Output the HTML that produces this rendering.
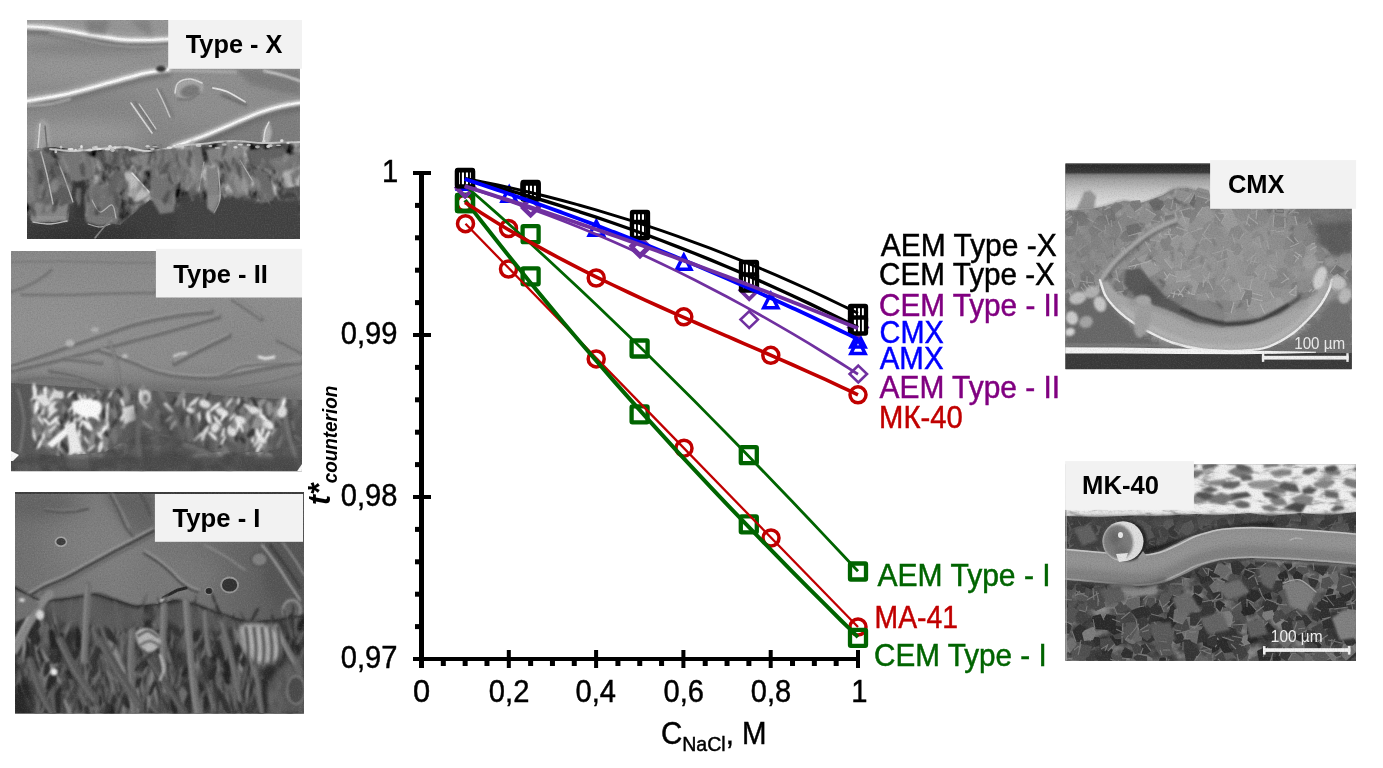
<!DOCTYPE html>
<html><head><meta charset="utf-8"><title>Figure</title>
<style>html,body{margin:0;padding:0;background:#fff;overflow:hidden}svg{display:block}</style>
</head><body>
<svg width="1383" height="768" viewBox="0 0 1383 768">
<defs>
<pattern id="hatch" width="4" height="8" patternUnits="userSpaceOnUse"><rect width="4" height="8" fill="#fff"/><rect x="0" width="1.9" height="8" fill="#000"/></pattern>
</defs>
<g id="ph"><rect x="11" y="251" width="291" height="220" fill="#787878"/><rect x="15" y="492" width="289" height="221.5" fill="#606060"/><rect x="1065.5" y="163" width="286.5" height="206" fill="#707070"/><rect x="1065.5" y="464.5" width="290.5" height="196" fill="#585858"/></g>
<defs><filter id="b05_1" filterUnits="userSpaceOnUse" x="21.5" y="14.5" width="284.0" height="230.0"><feGaussianBlur stdDeviation="0.5"/></filter>
<filter id="b1_1" filterUnits="userSpaceOnUse" x="20.0" y="13.0" width="287.0" height="233.0"><feGaussianBlur stdDeviation="1"/></filter>
<filter id="b2_1" filterUnits="userSpaceOnUse" x="17.0" y="10.0" width="293.0" height="239.0"><feGaussianBlur stdDeviation="2"/></filter>
<filter id="b4_1" filterUnits="userSpaceOnUse" x="11.0" y="4.0" width="305.0" height="251.0"><feGaussianBlur stdDeviation="4"/></filter>
<filter id="b8_1" filterUnits="userSpaceOnUse" x="-1.0" y="-8.0" width="329.0" height="275.0"><feGaussianBlur stdDeviation="8"/></filter>
<filter id="b15_1" filterUnits="userSpaceOnUse" x="-22.0" y="-29.0" width="371.0" height="317.0"><feGaussianBlur stdDeviation="15"/></filter>
<filter id="b05_2" filterUnits="userSpaceOnUse" x="5.5" y="245.5" width="302.0" height="231.3"><feGaussianBlur stdDeviation="0.5"/></filter>
<filter id="b1_2" filterUnits="userSpaceOnUse" x="4.0" y="244.0" width="305.0" height="234.3"><feGaussianBlur stdDeviation="1"/></filter>
<filter id="b2_2" filterUnits="userSpaceOnUse" x="1.0" y="241.0" width="311.0" height="240.3"><feGaussianBlur stdDeviation="2"/></filter>
<filter id="b4_2" filterUnits="userSpaceOnUse" x="-5.0" y="235.0" width="323.0" height="252.3"><feGaussianBlur stdDeviation="4"/></filter>
<filter id="b8_2" filterUnits="userSpaceOnUse" x="-17.0" y="223.0" width="347.0" height="276.3"><feGaussianBlur stdDeviation="8"/></filter>
<filter id="b15_2" filterUnits="userSpaceOnUse" x="-38.0" y="202.0" width="389.0" height="318.3"><feGaussianBlur stdDeviation="15"/></filter>
<filter id="b05_3" filterUnits="userSpaceOnUse" x="9.5" y="486.5" width="300.0" height="232.4"><feGaussianBlur stdDeviation="0.5"/></filter>
<filter id="b1_3" filterUnits="userSpaceOnUse" x="8.0" y="485.0" width="303.0" height="235.4"><feGaussianBlur stdDeviation="1"/></filter>
<filter id="b2_3" filterUnits="userSpaceOnUse" x="5.0" y="482.0" width="309.0" height="241.4"><feGaussianBlur stdDeviation="2"/></filter>
<filter id="b4_3" filterUnits="userSpaceOnUse" x="-1.0" y="476.0" width="321.0" height="253.4"><feGaussianBlur stdDeviation="4"/></filter>
<filter id="b8_3" filterUnits="userSpaceOnUse" x="-13.0" y="464.0" width="345.0" height="277.4"><feGaussianBlur stdDeviation="8"/></filter>
<filter id="b15_3" filterUnits="userSpaceOnUse" x="-34.0" y="443.0" width="387.0" height="319.4"><feGaussianBlur stdDeviation="15"/></filter>
<filter id="b05_4" filterUnits="userSpaceOnUse" x="1059.8" y="158.1" width="297.5" height="216.6"><feGaussianBlur stdDeviation="0.5"/></filter>
<filter id="b1_4" filterUnits="userSpaceOnUse" x="1058.3" y="156.6" width="300.5" height="219.6"><feGaussianBlur stdDeviation="1"/></filter>
<filter id="b2_4" filterUnits="userSpaceOnUse" x="1055.3" y="153.6" width="306.5" height="225.6"><feGaussianBlur stdDeviation="2"/></filter>
<filter id="b4_4" filterUnits="userSpaceOnUse" x="1049.3" y="147.6" width="318.5" height="237.6"><feGaussianBlur stdDeviation="4"/></filter>
<filter id="b8_4" filterUnits="userSpaceOnUse" x="1037.3" y="135.6" width="342.5" height="261.6"><feGaussianBlur stdDeviation="8"/></filter>
<filter id="b15_4" filterUnits="userSpaceOnUse" x="1016.3" y="114.6" width="384.5" height="303.6"><feGaussianBlur stdDeviation="15"/></filter>
<filter id="b05_5" filterUnits="userSpaceOnUse" x="1060.0" y="458.7" width="301.5" height="207.6"><feGaussianBlur stdDeviation="0.5"/></filter>
<filter id="b1_5" filterUnits="userSpaceOnUse" x="1058.5" y="457.2" width="304.5" height="210.6"><feGaussianBlur stdDeviation="1"/></filter>
<filter id="b2_5" filterUnits="userSpaceOnUse" x="1055.5" y="454.2" width="310.5" height="216.6"><feGaussianBlur stdDeviation="2"/></filter>
<filter id="b4_5" filterUnits="userSpaceOnUse" x="1049.5" y="448.2" width="322.5" height="228.6"><feGaussianBlur stdDeviation="4"/></filter>
<filter id="b8_5" filterUnits="userSpaceOnUse" x="1037.5" y="436.2" width="346.5" height="252.6"><feGaussianBlur stdDeviation="8"/></filter>
<filter id="b15_5" filterUnits="userSpaceOnUse" x="1016.5" y="415.2" width="388.5" height="294.6"><feGaussianBlur stdDeviation="15"/></filter>
<clipPath id="c1"><rect x="27" y="20" width="273" height="219"/></clipPath>
<linearGradient id="g1a" gradientUnits="userSpaceOnUse" x1="0.0" y1="20.0" x2="0.0" y2="150.0"><stop offset="0.000" stop-color="#969696"/><stop offset="0.250" stop-color="#929292"/><stop offset="0.600" stop-color="#8c8c8c"/><stop offset="1.000" stop-color="#848484"/></linearGradient>
<filter id="t1a" x="0" y="0" width="1" height="1" color-interpolation-filters="sRGB"><feTurbulence type="fractalNoise" baseFrequency="0.07 0.05" numOctaves="3" seed="7" result="n"/><feColorMatrix in="n" type="matrix" values="1.5 0 0 0 -0.33  1.5 0 0 0 -0.33  1.5 0 0 0 -0.33  0 0 0 0 1" result="c"/><feComposite in="c" in2="SourceGraphic" operator="in"/></filter>
<filter id="t1g" x="0" y="0" width="1" height="1" color-interpolation-filters="sRGB"><feTurbulence type="fractalNoise" baseFrequency="0.7 0.7" numOctaves="2" seed="3" result="n"/><feColorMatrix in="n" type="matrix" values="0 0 0 0 1  0 0 0 0 1  0 0 0 0 1  1.2 0 0 0 -0.52" result="c"/><feComposite in="c" in2="SourceGraphic" operator="in"/></filter>
<filter id="t1d" x="0" y="0" width="1" height="1" color-interpolation-filters="sRGB"><feTurbulence type="fractalNoise" baseFrequency="0.7 0.7" numOctaves="2" seed="11" result="n"/><feColorMatrix in="n" type="matrix" values="0 0 0 0 0  0 0 0 0 0  0 0 0 0 0  1.2 0 0 0 -0.52" result="c"/><feComposite in="c" in2="SourceGraphic" operator="in"/></filter>
<clipPath id="c2"><rect x="11" y="251" width="291" height="220.3"/></clipPath>
<linearGradient id="g2a" gradientUnits="userSpaceOnUse" x1="0.0" y1="251.0" x2="0.0" y2="390.0"><stop offset="0.000" stop-color="#888888"/><stop offset="0.300" stop-color="#8e8e8e"/><stop offset="0.800" stop-color="#8c8c8c"/><stop offset="1.000" stop-color="#7e7e7e"/></linearGradient>
<filter id="t2a" x="0" y="0" width="1" height="1" color-interpolation-filters="sRGB"><feTurbulence type="fractalNoise" baseFrequency="0.13 0.07" numOctaves="3" seed="5" result="n"/><feColorMatrix in="n" type="matrix" values="1 0 0 0 0  1 0 0 0 0  1 0 0 0 0  0 0 0 0 1" result="c"/><feComponentTransfer in="c" result="c"><feFuncR type="table" tableValues="0.22 0.24 0.27 0.32 0.4 0.5 0.66 0.9 1 1 1"/><feFuncG type="table" tableValues="0.22 0.24 0.27 0.32 0.4 0.5 0.66 0.9 1 1 1"/><feFuncB type="table" tableValues="0.22 0.24 0.27 0.32 0.4 0.5 0.66 0.9 1 1 1"/></feComponentTransfer><feComposite in="c" in2="SourceGraphic" operator="in"/></filter>
<filter id="t2b" x="0" y="0" width="1" height="1" color-interpolation-filters="sRGB"><feTurbulence type="fractalNoise" baseFrequency="0.06 0.08" numOctaves="3" seed="9" result="n"/><feColorMatrix in="n" type="matrix" values="1 0 0 0 0  1 0 0 0 0  1 0 0 0 0  0 0 0 0 1" result="c"/><feComponentTransfer in="c" result="c"><feFuncR type="table" tableValues="0.2 0.22 0.25 0.28 0.32 0.36 0.42 0.5 0.6 0.7 0.8"/><feFuncG type="table" tableValues="0.2 0.22 0.25 0.28 0.32 0.36 0.42 0.5 0.6 0.7 0.8"/><feFuncB type="table" tableValues="0.2 0.22 0.25 0.28 0.32 0.36 0.42 0.5 0.6 0.7 0.8"/></feComponentTransfer><feComposite in="c" in2="SourceGraphic" operator="in"/></filter>
<filter id="t2g" x="0" y="0" width="1" height="1" color-interpolation-filters="sRGB"><feTurbulence type="fractalNoise" baseFrequency="0.7 0.7" numOctaves="2" seed="4" result="n"/><feColorMatrix in="n" type="matrix" values="0 0 0 0 1  0 0 0 0 1  0 0 0 0 1  1.2 0 0 0 -0.52" result="c"/><feComposite in="c" in2="SourceGraphic" operator="in"/></filter>
<filter id="t2d" x="0" y="0" width="1" height="1" color-interpolation-filters="sRGB"><feTurbulence type="fractalNoise" baseFrequency="0.7 0.7" numOctaves="2" seed="13" result="n"/><feColorMatrix in="n" type="matrix" values="0 0 0 0 0  0 0 0 0 0  0 0 0 0 0  1.2 0 0 0 -0.52" result="c"/><feComposite in="c" in2="SourceGraphic" operator="in"/></filter>
<clipPath id="c3"><rect x="15" y="492" width="289" height="221.4"/></clipPath>
<linearGradient id="g3a" gradientUnits="userSpaceOnUse" x1="15.0" y1="0.0" x2="304.0" y2="0.0"><stop offset="0.000" stop-color="#707070"/><stop offset="0.350" stop-color="#7c7c7c"/><stop offset="0.600" stop-color="#747474"/><stop offset="0.850" stop-color="#606060"/><stop offset="1.000" stop-color="#545454"/></linearGradient>
<filter id="t3a" x="0" y="0" width="1" height="1" color-interpolation-filters="sRGB"><feTurbulence type="fractalNoise" baseFrequency="0.05 0.025" numOctaves="3" seed="21" result="n"/><feColorMatrix in="n" type="matrix" values="1 0 0 0 0  1 0 0 0 0  1 0 0 0 0  0 0 0 0 1" result="c"/><feComponentTransfer in="c" result="c"><feFuncR type="table" tableValues="0.1 0.12 0.14 0.16 0.19 0.25 0.33 0.42 0.5 0.6 0.7"/><feFuncG type="table" tableValues="0.1 0.12 0.14 0.16 0.19 0.25 0.33 0.42 0.5 0.6 0.7"/><feFuncB type="table" tableValues="0.1 0.12 0.14 0.16 0.19 0.25 0.33 0.42 0.5 0.6 0.7"/></feComponentTransfer><feComposite in="c" in2="SourceGraphic" operator="in"/></filter>
<filter id="t3g" x="0" y="0" width="1" height="1" color-interpolation-filters="sRGB"><feTurbulence type="fractalNoise" baseFrequency="0.7 0.7" numOctaves="2" seed="6" result="n"/><feColorMatrix in="n" type="matrix" values="0 0 0 0 1  0 0 0 0 1  0 0 0 0 1  1.2 0 0 0 -0.52" result="c"/><feComposite in="c" in2="SourceGraphic" operator="in"/></filter>
<filter id="t3d" x="0" y="0" width="1" height="1" color-interpolation-filters="sRGB"><feTurbulence type="fractalNoise" baseFrequency="0.7 0.7" numOctaves="2" seed="17" result="n"/><feColorMatrix in="n" type="matrix" values="0 0 0 0 0  0 0 0 0 0  0 0 0 0 0  1.2 0 0 0 -0.52" result="c"/><feComposite in="c" in2="SourceGraphic" operator="in"/></filter>
<clipPath id="c4"><rect x="1065.3" y="163.6" width="286.5" height="205.6"/></clipPath>
<linearGradient id="g4a" gradientUnits="userSpaceOnUse" x1="0.0" y1="163.6" x2="0.0" y2="215.0"><stop offset="0.000" stop-color="#969696"/><stop offset="0.020" stop-color="#2a2a2a"/><stop offset="0.170" stop-color="#383838"/><stop offset="0.220" stop-color="#808080"/><stop offset="0.320" stop-color="#a2a2a2"/><stop offset="0.520" stop-color="#c4c4c4"/><stop offset="0.720" stop-color="#d8d8d8"/><stop offset="1.000" stop-color="#eaeaea"/></linearGradient>
<filter id="t4a" x="0" y="0" width="1" height="1" color-interpolation-filters="sRGB"><feTurbulence type="fractalNoise" baseFrequency="0.11 0.11" numOctaves="3" seed="31" result="n"/><feColorMatrix in="n" type="matrix" values="1.1 0 0 0 -0.07  1.1 0 0 0 -0.07  1.1 0 0 0 -0.07  0 0 0 0 1" result="c"/><feComponentTransfer in="c" result="c"><feFuncR type="table" tableValues="0.15 0.25 0.35 0.42 0.5 0.56 0.6 0.65 0.7 0.74 0.78"/><feFuncG type="table" tableValues="0.15 0.25 0.35 0.42 0.5 0.56 0.6 0.65 0.7 0.74 0.78"/><feFuncB type="table" tableValues="0.15 0.25 0.35 0.42 0.5 0.56 0.6 0.65 0.7 0.74 0.78"/></feComponentTransfer><feComposite in="c" in2="SourceGraphic" operator="in"/></filter>
<filter id="t4g" x="0" y="0" width="1" height="1" color-interpolation-filters="sRGB"><feTurbulence type="fractalNoise" baseFrequency="0.7 0.7" numOctaves="2" seed="8" result="n"/><feColorMatrix in="n" type="matrix" values="0 0 0 0 1  0 0 0 0 1  0 0 0 0 1  1.2 0 0 0 -0.52" result="c"/><feComposite in="c" in2="SourceGraphic" operator="in"/></filter>
<filter id="t4d" x="0" y="0" width="1" height="1" color-interpolation-filters="sRGB"><feTurbulence type="fractalNoise" baseFrequency="0.7 0.7" numOctaves="2" seed="19" result="n"/><feColorMatrix in="n" type="matrix" values="0 0 0 0 0  0 0 0 0 0  0 0 0 0 0  1.2 0 0 0 -0.52" result="c"/><feComposite in="c" in2="SourceGraphic" operator="in"/></filter>
<clipPath id="c5"><rect x="1065.5" y="464.2" width="290.5" height="196.6"/></clipPath>
<filter id="t5a" x="0" y="0" width="1" height="1" color-interpolation-filters="sRGB"><feTurbulence type="fractalNoise" baseFrequency="0.06 0.16" numOctaves="3" seed="41" result="n"/><feColorMatrix in="n" type="matrix" values="1 0 0 0 0  1 0 0 0 0  1 0 0 0 0  0 0 0 0 1" result="c"/><feComponentTransfer in="c" result="c"><feFuncR type="table" tableValues="0.2 0.25 0.35 0.5 0.78 0.95 1 1 1 1 1"/><feFuncG type="table" tableValues="0.2 0.25 0.35 0.5 0.78 0.95 1 1 1 1 1"/><feFuncB type="table" tableValues="0.2 0.25 0.35 0.5 0.78 0.95 1 1 1 1 1"/></feComponentTransfer><feComposite in="c" in2="SourceGraphic" operator="in"/></filter>
<filter id="t5b" x="0" y="0" width="1" height="1" color-interpolation-filters="sRGB"><feTurbulence type="fractalNoise" baseFrequency="0.055 0.065" numOctaves="3" seed="43" result="n"/><feColorMatrix in="n" type="matrix" values="1 0 0 0 0  1 0 0 0 0  1 0 0 0 0  0 0 0 0 1" result="c"/><feComponentTransfer in="c" result="c"><feFuncR type="table" tableValues="0.12 0.15 0.18 0.22 0.27 0.33 0.42 0.5 0.55 0.6 0.65"/><feFuncG type="table" tableValues="0.12 0.15 0.18 0.22 0.27 0.33 0.42 0.5 0.55 0.6 0.65"/><feFuncB type="table" tableValues="0.12 0.15 0.18 0.22 0.27 0.33 0.42 0.5 0.55 0.6 0.65"/></feComponentTransfer><feComposite in="c" in2="SourceGraphic" operator="in"/></filter>
<linearGradient id="g5f" gradientUnits="userSpaceOnUse" x1="0.0" y1="-16.0" x2="0.0" y2="16.0"><stop offset="0.000" stop-color="#b0b0b0"/><stop offset="0.250" stop-color="#a0a0a0"/><stop offset="0.600" stop-color="#848484"/><stop offset="0.900" stop-color="#686868"/><stop offset="1.000" stop-color="#5a5a5a"/></linearGradient>
<filter id="t5g" x="0" y="0" width="1" height="1" color-interpolation-filters="sRGB"><feTurbulence type="fractalNoise" baseFrequency="0.7 0.7" numOctaves="2" seed="10" result="n"/><feColorMatrix in="n" type="matrix" values="0 0 0 0 1  0 0 0 0 1  0 0 0 0 1  1.2 0 0 0 -0.52" result="c"/><feComposite in="c" in2="SourceGraphic" operator="in"/></filter>
<filter id="t5d" x="0" y="0" width="1" height="1" color-interpolation-filters="sRGB"><feTurbulence type="fractalNoise" baseFrequency="0.7 0.7" numOctaves="2" seed="23" result="n"/><feColorMatrix in="n" type="matrix" values="0 0 0 0 0  0 0 0 0 0  0 0 0 0 0  1.2 0 0 0 -0.52" result="c"/><feComposite in="c" in2="SourceGraphic" operator="in"/></filter></defs>
<g clip-path="url(#c1)">
<rect x="27.0" y="20.0" width="273.0" height="219.0" fill="url(#g1a)"/>
<ellipse cx="80.0" cy="70.0" rx="60.0" ry="14.0" fill="#9a9a9a" filter="url(#b8_1)" opacity="0.50"/>
<ellipse cx="90.0" cy="48.0" rx="70.0" ry="7.0" fill="#7a7a7a" filter="url(#b4_1)" opacity="0.60"/>
<ellipse cx="75.0" cy="134.0" rx="70.0" ry="12.0" fill="#a0a0a0" filter="url(#b8_1)" opacity="0.70"/>
<ellipse cx="90.0" cy="104.0" rx="60.0" ry="8.0" fill="#7e7e7e" filter="url(#b8_1)" opacity="0.60"/>
<ellipse cx="220.0" cy="110.0" rx="50.0" ry="20.0" fill="#929292" filter="url(#b8_1)" opacity="0.50"/>
<polygon points="236.0,70.0 300.0,70.0 300.0,95.0 280.0,92.0 250.0,84.0" fill="#767676" filter="url(#b2_1)" opacity="0.80"/>
<polygon points="178.0,150.0 300.0,106.0 300.0,150.0" fill="#7c7c7c" filter="url(#b2_1)" opacity="0.90"/>
<path d="M27.0,31.5 C30.8,31.8 41.2,31.9 50.0,33.0 C58.8,34.1 70.8,36.5 80.0,38.0 C89.2,39.5 97.5,40.9 105.0,42.0 C112.5,43.1 117.5,44.2 125.0,44.7 C132.5,45.2 142.8,45.1 150.0,45.0 C157.2,44.9 165.0,44.2 168.0,44.0" fill="none" stroke="#696969" stroke-width="6.0" stroke-linecap="round" stroke-linejoin="round" filter="url(#b2_1)" opacity="0.80"/>
<path d="M27.0,22.5 C30.8,22.8 41.2,22.9 50.0,24.0 C58.8,25.1 70.8,27.5 80.0,29.0 C89.2,30.5 97.5,31.9 105.0,33.0 C112.5,34.1 117.5,35.2 125.0,35.7 C132.5,36.2 142.8,36.1 150.0,36.0 C157.2,35.9 165.0,35.2 168.0,35.0" fill="none" stroke="#aaaaaa" stroke-width="5.0" stroke-linecap="round" stroke-linejoin="round" filter="url(#b2_1)" opacity="0.60"/>
<path d="M27.0,26.5 C30.8,26.8 41.2,26.9 50.0,28.0 C58.8,29.1 70.8,31.5 80.0,33.0 C89.2,34.5 97.5,35.9 105.0,37.0 C112.5,38.1 117.5,39.2 125.0,39.7 C132.5,40.2 142.8,40.1 150.0,40.0 C157.2,39.9 165.0,39.2 168.0,39.0" fill="none" stroke="#e4e4e4" stroke-width="5.5" stroke-linecap="round" stroke-linejoin="round" filter="url(#b1_1)" opacity="0.90"/>
<path d="M27.0,26.5 C30.8,26.8 41.2,26.9 50.0,28.0 C58.8,29.1 70.8,31.5 80.0,33.0 C89.2,34.5 97.5,35.9 105.0,37.0 C112.5,38.1 117.5,39.2 125.0,39.7 C132.5,40.2 142.8,40.1 150.0,40.0 C157.2,39.9 165.0,39.2 168.0,39.0" fill="none" stroke="#f5f5f5" stroke-width="2.2" stroke-linecap="round" stroke-linejoin="round" filter="url(#b05_1)"/>
<path d="M50.0,33.0 C55.0,34.0 70.0,37.0 80.0,39.0 C90.0,41.0 100.0,43.7 110.0,45.0 C120.0,46.3 130.3,46.8 140.0,47.0 C149.7,47.2 163.3,46.2 168.0,46.0" fill="none" stroke="#b2b2b2" stroke-width="1.5" stroke-linecap="round" stroke-linejoin="round" filter="url(#b1_1)" opacity="0.80"/>
<polygon points="85.0,20.0 110.0,20.0 105.0,34.0 88.0,33.0" fill="#7a7a7a" filter="url(#b2_1)" opacity="0.80"/>
<polygon points="130.0,20.0 150.0,20.0 152.0,36.0 140.0,30.0" fill="#7d7d7d" filter="url(#b2_1)" opacity="0.70"/>
<path d="M168.0,70.5 C173.3,70.6 188.7,70.8 200.0,71.0 C211.3,71.2 230.0,71.8 236.0,72.0" fill="none" stroke="#b9b9b9" stroke-width="2.5" stroke-linecap="round" stroke-linejoin="round" filter="url(#b1_1)" opacity="0.70"/>
<path d="M27.0,106.0 C30.0,105.5 38.7,104.1 45.0,103.0 C51.3,101.9 57.5,101.1 65.0,99.4 C72.5,97.7 82.5,95.0 90.0,93.0 C97.5,91.0 103.3,89.2 110.0,87.4 C116.7,85.6 123.8,83.6 130.0,82.0 C136.2,80.4 140.7,78.8 147.0,77.6 C153.3,76.4 164.5,75.1 168.0,74.6" fill="none" stroke="#6c6c6c" stroke-width="6.0" stroke-linecap="round" stroke-linejoin="round" filter="url(#b2_1)" opacity="0.80"/>
<path d="M27.0,97.5 C30.0,97.0 38.7,95.6 45.0,94.5 C51.3,93.4 57.5,92.6 65.0,90.9 C72.5,89.2 82.5,86.5 90.0,84.5 C97.5,82.5 103.3,80.7 110.0,78.9 C116.7,77.1 123.8,75.1 130.0,73.5 C136.2,71.9 140.7,70.3 147.0,69.1 C153.3,67.9 164.5,66.6 168.0,66.1" fill="none" stroke="#acacac" stroke-width="4.0" stroke-linecap="round" stroke-linejoin="round" filter="url(#b2_1)" opacity="0.60"/>
<path d="M27.0,101.0 C30.0,100.5 38.7,99.1 45.0,98.0 C51.3,96.9 57.5,96.1 65.0,94.4 C72.5,92.7 82.5,90.0 90.0,88.0 C97.5,86.0 103.3,84.2 110.0,82.4 C116.7,80.6 123.8,78.6 130.0,77.0 C136.2,75.4 140.7,73.8 147.0,72.6 C153.3,71.4 164.5,70.1 168.0,69.6" fill="none" stroke="#e4e4e4" stroke-width="5.5" stroke-linecap="round" stroke-linejoin="round" filter="url(#b1_1)" opacity="0.90"/>
<path d="M27.0,101.0 C30.0,100.5 38.7,99.1 45.0,98.0 C51.3,96.9 57.5,96.1 65.0,94.4 C72.5,92.7 82.5,90.0 90.0,88.0 C97.5,86.0 103.3,84.2 110.0,82.4 C116.7,80.6 123.8,78.6 130.0,77.0 C136.2,75.4 140.7,73.8 147.0,72.6 C153.3,71.4 164.5,70.1 168.0,69.6" fill="none" stroke="#f8f8f8" stroke-width="2.2" stroke-linecap="round" stroke-linejoin="round" filter="url(#b05_1)"/>
<path d="M27.0,106.0 C30.8,105.7 42.8,105.2 50.0,104.0 C57.2,102.8 66.7,99.8 70.0,99.0" fill="none" stroke="#c8c8c8" stroke-width="2.0" stroke-linecap="round" stroke-linejoin="round" filter="url(#b1_1)" opacity="0.80"/>
<path d="M264.0,71.0 C267.0,71.7 276.0,73.3 282.0,75.0 C288.0,76.7 297.0,80.0 300.0,81.0" fill="none" stroke="#d7d7d7" stroke-width="2.2" stroke-linecap="round" stroke-linejoin="round" filter="url(#b1_1)"/>
<ellipse cx="161.0" cy="69.0" rx="5.0" ry="3.2" fill="#323232" filter="url(#b1_1)"/>
<path d="M175.0,151.9 C180.2,150.0 196.4,144.5 206.4,140.6 C216.4,136.7 225.7,132.5 234.9,128.6 C244.1,124.7 253.6,120.4 261.8,117.4 C270.0,114.4 277.6,112.3 284.3,110.7 C291.0,109.1 298.9,108.2 301.8,107.7" fill="none" stroke="#646464" stroke-width="6.0" stroke-linecap="round" stroke-linejoin="round" filter="url(#b2_1)" opacity="0.80"/>
<path d="M173.0,143.9 C178.2,142.0 194.4,136.5 204.4,132.6 C214.4,128.7 223.7,124.5 232.9,120.6 C242.1,116.7 251.6,112.4 259.8,109.4 C268.0,106.4 275.6,104.3 282.3,102.7 C289.0,101.1 296.9,100.2 299.8,99.7" fill="none" stroke="#aaaaaa" stroke-width="4.0" stroke-linecap="round" stroke-linejoin="round" filter="url(#b2_1)" opacity="0.50"/>
<path d="M173.0,146.9 C178.2,145.0 194.4,139.5 204.4,135.6 C214.4,131.7 223.7,127.5 232.9,123.6 C242.1,119.7 251.6,115.4 259.8,112.4 C268.0,109.4 275.6,107.3 282.3,105.7 C289.0,104.1 296.9,103.2 299.8,102.7" fill="none" stroke="#e4e4e4" stroke-width="5.0" stroke-linecap="round" stroke-linejoin="round" filter="url(#b1_1)" opacity="0.90"/>
<path d="M173.0,146.9 C178.2,145.0 194.4,139.5 204.4,135.6 C214.4,131.7 223.7,127.5 232.9,123.6 C242.1,119.7 251.6,115.4 259.8,112.4 C268.0,109.4 275.6,107.3 282.3,105.7 C289.0,104.1 296.9,103.2 299.8,102.7" fill="none" stroke="#f8f8f8" stroke-width="2.0" stroke-linecap="round" stroke-linejoin="round" filter="url(#b05_1)"/>
<path d="M131.0,103.0 C132.5,105.2 136.5,111.0 140.0,116.0 C143.5,121.0 150.0,130.2 152.0,133.0" fill="none" stroke="#d7d7d7" stroke-width="1.6" stroke-linecap="round" stroke-linejoin="round" filter="url(#b05_1)"/>
<path d="M135.0,102.0 C136.7,104.3 141.7,111.2 145.0,116.0 C148.3,120.8 153.3,128.5 155.0,131.0" fill="none" stroke="#5f5f5f" stroke-width="1.6" stroke-linecap="round" stroke-linejoin="round" filter="url(#b1_1)" opacity="0.80"/>
<path d="M139.0,104.0 C140.5,106.2 145.2,112.8 148.0,117.0 C150.8,121.2 154.7,127.0 156.0,129.0" fill="none" stroke="#cdcdcd" stroke-width="1.3" stroke-linecap="round" stroke-linejoin="round" filter="url(#b05_1)"/>
<path d="M157.0,89.0 C158.0,91.0 160.8,96.3 163.0,101.0 C165.2,105.7 168.8,114.3 170.0,117.0" fill="none" stroke="#c8c8c8" stroke-width="1.5" stroke-linecap="round" stroke-linejoin="round" filter="url(#b05_1)"/>
<path d="M160.0,89.0 C161.0,91.0 163.8,96.3 166.0,101.0 C168.2,105.7 171.8,114.3 173.0,117.0" fill="none" stroke="#696969" stroke-width="1.8" stroke-linecap="round" stroke-linejoin="round" filter="url(#b1_1)" opacity="0.70"/>
<path d="M213.0,88.0 C215.5,88.7 222.7,89.7 228.0,92.0 C233.3,94.3 242.2,100.3 245.0,102.0" fill="none" stroke="#e4e4e4" stroke-width="1.8" stroke-linecap="round" stroke-linejoin="round" filter="url(#b05_1)"/>
<path d="M222.0,95.0 C224.0,95.8 230.0,98.3 234.0,100.0 C238.0,101.7 244.0,104.2 246.0,105.0" fill="none" stroke="#696969" stroke-width="3.5" stroke-linecap="round" stroke-linejoin="round" filter="url(#b1_1)" opacity="0.80"/>
<ellipse cx="189.0" cy="89.0" rx="15.0" ry="10.5" fill="#a5a5a5" transform="rotate(-15.0 189.0 89.0)" filter="url(#b1_1)"/>
<ellipse cx="190.0" cy="91.0" rx="10.0" ry="6.0" fill="#787878" transform="rotate(-15.0 190.0 91.0)" filter="url(#b1_1)"/>
<path d="M175.0,93.0 C175.5,91.3 175.5,85.3 178.0,83.0 C180.5,80.7 186.0,79.0 190.0,79.0 C194.0,79.0 200.0,82.3 202.0,83.0" fill="none" stroke="#d7d7d7" stroke-width="1.5" stroke-linecap="round" stroke-linejoin="round" filter="url(#b05_1)"/>
<path d="M178.0,99.0 C180.0,99.0 186.3,100.0 190.0,99.0 C193.7,98.0 198.3,94.0 200.0,93.0" fill="none" stroke="#5f5f5f" stroke-width="1.5" stroke-linecap="round" stroke-linejoin="round" filter="url(#b1_1)"/>
<polygon points="34.0,150.0 36.0,125.0 42.0,118.0 49.0,124.0 52.0,150.0" fill="#a0a0a0" filter="url(#b1_1)"/>
<path d="M38.0,148.0 C38.3,144.0 39.7,128.0 40.0,124.0" fill="none" stroke="#d7d7d7" stroke-width="1.5" stroke-linecap="round" stroke-linejoin="round" filter="url(#b05_1)"/>
<path d="M47.0,148.0 C46.7,144.3 45.3,129.7 45.0,126.0" fill="none" stroke="#6e6e6e" stroke-width="1.5" stroke-linecap="round" stroke-linejoin="round" filter="url(#b05_1)"/>
<polygon points="262.0,147.0 263.0,130.0 269.0,121.0 272.0,132.0 268.0,148.0" fill="#afafaf" filter="url(#b1_1)"/>
<path d="M263.0,146.0 C263.3,143.5 264.0,135.0 265.0,131.0 C266.0,127.0 268.3,123.5 269.0,122.0" fill="none" stroke="#e1e1e1" stroke-width="1.3" stroke-linecap="round" stroke-linejoin="round" filter="url(#b05_1)"/>
<polygon points="27.0,150.0 50.0,147.0 80.0,150.0 110.0,149.0 140.0,150.0 175.0,147.0 200.0,144.0 232.0,141.0 262.0,143.0 300.0,142.0 300.0,239.0 27.0,239.0" fill="#424242"/>
<polygon points="27.0,150.0 50.0,147.0 80.0,150.0 110.0,149.0 140.0,150.0 175.0,147.0 200.0,144.0 232.0,141.0 262.0,143.0 300.0,142.0 300.0,205.0 262.0,208.0 232.0,200.0 200.0,203.0 176.0,212.0 150.0,200.0 120.0,225.0 85.0,219.0 73.0,184.0 68.0,222.0 32.0,222.0 27.0,215.0" fill="#808080" filter="url(#t1a)"/>
<polygon points="27.0,239.0 27.0,222.0 68.0,224.0 78.0,200.0 88.0,222.0 120.0,228.0 140.0,204.0 152.0,200.0 176.0,208.0 205.0,200.0 232.0,198.0 262.0,204.0 300.0,203.0 300.0,239.0" fill="#3c3c3c" filter="url(#b2_1)"/>
<ellipse cx="80.0" cy="236.0" rx="60.0" ry="14.0" fill="#323232" filter="url(#b8_1)" opacity="0.80"/>
<ellipse cx="250.0" cy="228.0" rx="60.0" ry="14.0" fill="#4a4a4a" filter="url(#b8_1)" opacity="0.70"/>
<polygon points="28.0,152.0 40.0,150.0 52.0,156.0 60.0,170.0 70.0,195.0 73.0,203.0 60.0,207.0 50.0,205.0 45.0,222.0 33.0,222.0 30.0,200.0 27.0,198.0" fill="#707070" filter="url(#b1_1)"/>
<polygon points="33.0,222.0 35.0,202.0 50.0,205.0 60.0,207.0 68.0,203.0 67.0,221.0" fill="#8e8e8e" filter="url(#b1_1)"/>
<polygon points="46.0,165.0 58.0,160.0 72.0,200.0 62.0,206.0 52.0,204.0" fill="#626262" filter="url(#b1_1)"/>
<path d="M41.0,152.0 C42.0,155.8 45.0,166.3 47.0,175.0 C49.0,183.7 52.0,199.2 53.0,204.0" fill="none" stroke="#c8c8c8" stroke-width="1.4" stroke-linecap="round" stroke-linejoin="round" filter="url(#b05_1)"/>
<path d="M58.0,161.0 C59.3,164.5 63.5,175.2 66.0,182.0 C68.5,188.8 71.8,198.7 73.0,202.0" fill="none" stroke="#bebebe" stroke-width="1.3" stroke-linecap="round" stroke-linejoin="round" filter="url(#b05_1)"/>
<path d="M33.0,222.0 C35.8,222.3 44.3,224.2 50.0,224.0 C55.7,223.8 64.2,221.5 67.0,221.0" fill="none" stroke="#b9b9b9" stroke-width="1.3" stroke-linecap="round" stroke-linejoin="round" filter="url(#b05_1)"/>
<polygon points="27.0,160.0 33.0,158.0 36.0,200.0 27.0,205.0" fill="#828282" filter="url(#b1_1)"/>
<polygon points="73.0,180.0 84.0,176.0 88.0,196.0 84.0,219.0 76.0,217.0" fill="#343434" filter="url(#b1_1)"/>
<polygon points="84.0,196.0 92.0,184.0 110.0,186.0 122.0,196.0 118.0,222.0 100.0,226.0 86.0,222.0" fill="#767676" filter="url(#b1_1)"/>
<path d="M92.0,200.0 C93.3,202.0 96.7,211.2 100.0,212.0 C103.3,212.8 109.3,204.0 112.0,205.0 C114.7,206.0 115.3,215.8 116.0,218.0" fill="none" stroke="#bebebe" stroke-width="1.2" stroke-linecap="round" stroke-linejoin="round" filter="url(#b05_1)"/>
<path d="M88.0,224.0 C90.0,224.5 96.3,227.0 100.0,227.0 C103.7,227.0 108.3,224.5 110.0,224.0" fill="none" stroke="#aaaaaa" stroke-width="1.2" stroke-linecap="round" stroke-linejoin="round" filter="url(#b05_1)"/>
<path d="M95.0,238.0 C96.7,236.0 102.2,229.0 105.0,226.0 C107.8,223.0 110.8,221.0 112.0,220.0" fill="none" stroke="#828282" stroke-width="1.6" stroke-linecap="round" stroke-linejoin="round" filter="url(#b05_1)"/>
<polygon points="122.0,176.0 131.0,172.0 150.0,193.0 146.0,198.0 136.0,202.0 130.0,196.0" fill="#c8c8c8" filter="url(#b1_1)"/>
<path d="M132.0,173.0 C134.8,176.2 146.2,188.8 149.0,192.0" fill="none" stroke="#ebebeb" stroke-width="1.5" stroke-linecap="round" stroke-linejoin="round" filter="url(#b05_1)"/>
<polygon points="108.0,178.0 122.0,168.0 128.0,186.0 118.0,194.0 108.0,196.0" fill="#696969" filter="url(#b1_1)"/>
<polygon points="55.0,152.0 80.0,150.0 96.0,160.0 92.0,178.0 76.0,182.0 62.0,170.0" fill="#7d7d7d" filter="url(#b1_1)"/>
<polygon points="96.0,152.0 140.0,151.0 150.0,160.0 128.0,166.0 104.0,164.0" fill="#585858" filter="url(#b1_1)"/>
<polygon points="128.0,158.0 160.0,150.0 176.0,152.0 172.0,165.0 140.0,172.0" fill="#8c8c8c" filter="url(#b1_1)"/>
<path d="M50.0,149.0 C53.3,149.3 63.3,150.8 70.0,151.0 C76.7,151.2 83.3,150.5 90.0,150.0 C96.7,149.5 104.2,148.5 110.0,148.0 C115.8,147.5 119.2,146.5 125.0,147.0 C130.8,147.5 138.3,150.7 145.0,151.0 C151.7,151.3 159.8,149.7 165.0,149.0 C170.2,148.3 174.2,147.3 176.0,147.0" fill="none" stroke="#dcdcdc" stroke-width="2.0" stroke-linecap="round" stroke-linejoin="round" filter="url(#b05_1)" opacity="0.90"/>
<ellipse cx="158.0" cy="172.0" rx="5.0" ry="6.0" fill="#aaaaaa" filter="url(#b1_1)"/>
<polygon points="155.0,150.0 176.0,148.0 178.0,172.0 174.0,212.0 160.0,214.0 152.0,200.0 150.0,180.0" fill="#7a7a7a" filter="url(#b1_1)"/>
<polygon points="176.0,150.0 200.0,146.0 204.0,160.0 198.0,190.0 182.0,192.0" fill="#808080" filter="url(#b1_1)"/>
<polygon points="183.0,160.0 200.0,156.0 202.0,186.0 186.0,190.0" fill="#8c8c8c" filter="url(#b1_1)"/>
<polygon points="205.0,150.0 232.0,143.0 245.0,150.0 238.0,162.0 212.0,160.0" fill="#8c8c8c" filter="url(#b1_1)"/>
<polygon points="206.0,170.0 218.0,166.0 220.0,200.0 214.0,214.0 207.0,208.0" fill="#8a8a8a" filter="url(#b1_1)"/>
<polygon points="222.0,160.0 240.0,158.0 252.0,180.0 248.0,196.0 236.0,198.0 228.0,184.0" fill="#808080" filter="url(#b1_1)"/>
<polygon points="246.0,150.0 280.0,148.0 292.0,160.0 270.0,170.0 252.0,165.0" fill="#686868" filter="url(#b1_1)"/>
<polygon points="252.0,168.0 268.0,172.0 275.0,196.0 262.0,204.0 256.0,190.0" fill="#707070" filter="url(#b1_1)"/>
<polygon points="268.0,160.0 300.0,152.0 300.0,170.0 280.0,176.0" fill="#7e7e7e" filter="url(#b1_1)"/>
<polygon points="282.0,172.0 300.0,166.0 300.0,188.0 288.0,190.0" fill="#c4c4c4" filter="url(#b1_1)"/>
<polygon points="276.0,190.0 300.0,186.0 300.0,198.0 280.0,200.0" fill="#464646" filter="url(#b1_1)"/>
<path d="M176.0,146.0 C180.0,145.7 190.7,144.8 200.0,144.0 C209.3,143.2 221.7,141.2 232.0,141.0 C242.3,140.8 250.7,142.8 262.0,143.0 C273.3,143.2 293.7,142.2 300.0,142.0" fill="none" stroke="#cdcdcd" stroke-width="1.8" stroke-linecap="round" stroke-linejoin="round" filter="url(#b05_1)" opacity="0.90"/>
<path d="M204.0,162.0 C203.2,166.7 199.8,185.3 199.0,190.0" fill="none" stroke="#bebebe" stroke-width="1.2" stroke-linecap="round" stroke-linejoin="round" filter="url(#b05_1)"/>
<path d="M240.0,160.0 C242.0,163.3 250.0,176.7 252.0,180.0" fill="none" stroke="#bebebe" stroke-width="1.2" stroke-linecap="round" stroke-linejoin="round" filter="url(#b05_1)"/>
<path d="M218.0,167.0 C218.3,172.2 220.7,190.3 220.0,198.0 C219.3,205.7 215.0,210.5 214.0,213.0" fill="none" stroke="#b9b9b9" stroke-width="1.2" stroke-linecap="round" stroke-linejoin="round" filter="url(#b05_1)"/>
<path d="M262.0,190.0 C264.2,193.7 270.3,206.0 275.0,212.0 C279.7,218.0 287.5,223.7 290.0,226.0" fill="none" stroke="#787878" stroke-width="1.8" stroke-linecap="round" stroke-linejoin="round" filter="url(#b05_1)"/>
<path d="M280.0,210.0 C282.0,211.0 288.7,215.3 292.0,216.0 C295.3,216.7 298.7,214.3 300.0,214.0" fill="none" stroke="#6e6e6e" stroke-width="3.0" stroke-linecap="round" stroke-linejoin="round" filter="url(#b1_1)"/>
<polygon points="176.0,214.0 182.0,194.0 200.0,192.0 206.0,210.0 214.0,216.0 222.0,200.0 250.0,198.0 262.0,206.0 276.0,200.0 300.0,200.0 300.0,239.0 176.0,239.0" fill="#424242" filter="url(#b2_1)"/>
<g filter="url(#b1_1)" opacity="0.55"><g transform="translate(27,148)"><path d="M219,41L222,39L228,49L226,53L222,50Z" fill="#373737"/><path d="M240,46L237,50L237,45L240,39Z" fill="#767676"/><path d="M33,13L31,11L30,2L32,2L35,7L35,13Z" fill="#6e6e6e"/><path d="M214,24L211,13L214,5L217,2L220,10L218,15Z" fill="#858585"/><path d="M184,3L188,7L193,20L190,22L184,15L181,5Z" fill="#868686"/><path d="M25,18L27,25L26,30L22,23L22,17Z" fill="#3e3e3e"/><path d="M259,14L259,22L253,34L249,30L254,18Z" fill="#7b7b7b"/><path d="M179,19L182,18L185,25L183,34L181,34Z" fill="#868686"/><path d="M151,28L148,27L149,13L152,9L155,17Z" fill="#646464"/><path d="M115,41L107,48L111,34L118,30Z" fill="#707070"/><path d="M265,21L269,15L272,12L273,15L270,21L266,26Z" fill="#7d7d7d"/><path d="M141,-1L145,-2L149,4L148,13L145,10Z" fill="#767676"/><path d="M259,27L265,22L266,28L259,39L255,36Z" fill="#afafaf"/><path d="M171,36L170,44L167,53L165,52L165,43L167,35Z" fill="#656565"/><path d="M272,44L271,49L267,42L267,34L271,38Z" fill="#696969"/><path d="M16,39L12,37L11,22L15,21L17,28Z" fill="#3e3e3e"/><path d="M166,-10L168,-5L163,7L159,10L161,-2Z" fill="#b0b0b0"/><path d="M130,9L127,13L125,7L126,-3L129,-3L130,1Z" fill="#393939"/><path d="M39,37L39,26L42,26L45,35L43,42Z" fill="#7b7b7b"/><path d="M233,33L234,42L231,43L228,35L229,30Z" fill="#9f9f9f"/><path d="M166,5L166,13L160,5L160,-1Z" fill="#3b3b3b"/><path d="M38,17L42,24L42,29L38,25L36,19Z" fill="#7a7a7a"/><path d="M56,0L63,9L67,18L64,18L58,13L55,5Z" fill="#737373"/><path d="M92,14L94,14L95,16L96,23L94,25L92,20Z" fill="#454545"/><path d="M209,21L208,25L205,31L202,31L203,26Z" fill="#9a9a9a"/><path d="M233,26L232,20L235,10L238,14L235,23Z" fill="#838383"/><path d="M95,60L97,64L94,71L91,71Z" fill="#343434"/><path d="M3,34L-3,26L-2,19L4,28Z" fill="#6b6b6b"/><path d="M30,30L34,27L33,35L29,44L25,43Z" fill="#989898"/><path d="M37,20L32,10L35,8L41,20Z" fill="#7e7e7e"/><path d="M35,30L37,39L31,32L30,26Z" fill="#797979"/><path d="M164,30L166,43L164,47L160,43L161,33Z" fill="#656565"/><path d="M20,32L20,38L16,43L14,43L17,34Z" fill="#676767"/><path d="M209,-4L207,6L205,3L205,-8Z" fill="#838383"/><path d="M160,40L166,53L164,63L157,51Z" fill="#434343"/><path d="M55,13L58,19L58,30L54,27L52,16Z" fill="#414141"/><path d="M267,31L268,23L272,19L273,25L270,31Z" fill="#424242"/><path d="M140,26L134,29L133,25L139,14L143,14Z" fill="#454545"/><path d="M196,10L193,9L195,-2L199,-9L200,0Z" fill="#3c3c3c"/><path d="M87,56L87,42L94,53L94,63Z" fill="#444444"/><path d="M92,20L90,16L91,6L94,5L95,15Z" fill="#838383"/><path d="M101,3L104,11L104,19L101,16L99,9Z" fill="#686868"/><path d="M108,12L112,17L112,24L110,24L107,14Z" fill="#3c3c3c"/><path d="M261,36L261,39L260,42L256,47L255,44L257,39Z" fill="#767676"/><path d="M24,45L23,39L26,31L29,31L30,40L28,44Z" fill="#afafaf"/><path d="M64,30L66,32L66,39L63,43L62,35Z" fill="#777777"/><path d="M162,20L159,12L160,4L164,13L165,21Z" fill="#3d3d3d"/><path d="M15,46L18,41L21,41L19,49L14,52Z" fill="#3d3d3d"/><path d="M18,66L19,62L20,57L24,55L23,60L21,66Z" fill="#6d6d6d"/><path d="M214,37L216,29L218,29L222,40L220,48L218,45Z" fill="#b9b9b9"/><path d="M65,66L59,68L62,54L66,57Z" fill="#7a7a7a"/><path d="M214,-4L213,2L211,0L209,-6L211,-9Z" fill="#757575"/><path d="M98,-2L97,6L93,11L92,8L94,-3L97,-4Z" fill="#737373"/><path d="M109,16L109,11L116,19L117,24L113,24Z" fill="#474747"/><path d="M204,7L208,11L206,20L204,14Z" fill="#414141"/><path d="M134,30L136,26L138,29L137,34L133,41Z" fill="#7b7b7b"/><path d="M29,51L33,52L31,60L27,65L24,64L25,60Z" fill="#3d3d3d"/><path d="M147,57L142,53L140,39L147,47Z" fill="#767676"/><path d="M150,34L150,38L145,46L144,44L147,37Z" fill="#646464"/><path d="M73,22L71,29L68,23L70,15Z" fill="#3e3e3e"/><path d="M263,25L259,24L263,14L268,14Z" fill="#767676"/><path d="M168,15L167,6L171,9L178,20L175,26Z" fill="#7c7c7c"/><path d="M122,24L122,17L125,12L129,21L130,29L127,32Z" fill="#737373"/><path d="M160,42L157,45L155,42L160,32L164,28L165,34Z" fill="#818181"/><path d="M96,12L98,17L95,25L94,25L93,19L94,14Z" fill="#838383"/><path d="M65,57L61,55L60,47L63,46Z" fill="#373737"/><path d="M213,31L209,21L208,13L215,19L216,30Z" fill="#3e3e3e"/><path d="M260,52L261,42L266,43L266,52L262,58Z" fill="#464646"/><path d="M216,40L215,46L211,45L207,36L207,26L212,30Z" fill="#a6a6a6"/><path d="M202,26L197,15L197,8L205,20Z" fill="#3e3e3e"/><path d="M68,44L73,50L73,56L70,58L66,49Z" fill="#6d6d6d"/><path d="M8,38L10,47L8,50L5,48L4,41L8,35Z" fill="#777777"/><path d="M63,34L64,45L58,48L60,36Z" fill="#666666"/><path d="M161,26L159,35L155,35L156,23L159,19Z" fill="#616161"/><path d="M28,13L30,6L32,9L33,19L30,20Z" fill="#383838"/><path d="M70,25L75,31L79,37L76,41L71,33Z" fill="#9d9d9d"/><path d="M5,65L4,58L10,65L11,73Z" fill="#434343"/><path d="M136,58L134,54L140,43L144,42L141,54Z" fill="#3c3c3c"/><path d="M-2,8L-2,1L4,10L4,16Z" fill="#a0a0a0"/><path d="M69,60L73,53L74,60L71,68L67,67Z" fill="#3a3a3a"/><path d="M108,9L110,1L115,11L114,16L110,18Z" fill="#797979"/><path d="M21,35L24,28L28,25L27,32L23,37Z" fill="#3e3e3e"/><path d="M50,40L54,40L54,53L52,59L49,52Z" fill="#999999"/><path d="M76,-2L80,-1L86,10L84,15L79,9Z" fill="#a5a5a5"/><path d="M89,42L91,30L98,31L93,44Z" fill="#7b7b7b"/><path d="M25,53L19,64L14,67L17,53L22,50Z" fill="#636363"/><path d="M199,45L199,49L196,47L193,42L194,38Z" fill="#9b9b9b"/><path d="M146,33L146,38L141,32L141,24L144,25Z" fill="#3b3b3b"/><path d="M178,42L175,44L172,37L172,32L175,28L178,34Z" fill="#666666"/><path d="M179,14L177,5L181,7L185,16L183,19Z" fill="#404040"/><path d="M100,32L102,33L103,45L100,48L98,39Z" fill="#646464"/><path d="M124,16L120,18L122,7L126,1L127,6Z" fill="#363636"/><path d="M265,18L270,31L267,38L264,33L262,20Z" fill="#414141"/><path d="M254,25L249,19L249,13L254,17Z" fill="#7c7c7c"/><path d="M163,20L166,24L165,37L163,41L160,31L161,19Z" fill="#767676"/><path d="M132,-6L139,5L139,15L134,10Z" fill="#686868"/><path d="M79,30L79,23L83,30L83,35Z" fill="#3f3f3f"/><path d="M155,36L159,44L157,57L152,50Z" fill="#3e3e3e"/><path d="M23,-1L19,9L13,7L16,-1L22,-6Z" fill="#797979"/><path d="M147,20L149,15L153,21L158,30L156,33L152,30Z" fill="#7a7a7a"/><path d="M82,-1L86,5L84,19L79,14Z" fill="#7f7f7f"/><path d="M257,7L262,4L261,12L255,17Z" fill="#9f9f9f"/><path d="M75,48L71,39L73,39L78,45L78,50Z" fill="#7c7c7c"/><path d="M116,41L121,30L125,27L125,34L118,45Z" fill="#646464"/><path d="M260,2L256,6L255,0L255,-10L259,-14L261,-5Z" fill="#808080"/><path d="M106,53L104,43L106,40L108,37L109,45L109,50Z" fill="#7e7e7e"/><path d="M166,31L163,23L165,13L168,14L169,27Z" fill="#9d9d9d"/><path d="M134,6L137,11L134,22L130,24L130,17Z" fill="#646464"/><path d="M72,15L72,24L67,20L65,8Z" fill="#676767"/><path d="M114,25L117,19L119,29L117,35L114,31Z" fill="#7e7e7e"/><path d="M16,40L15,49L11,48L11,39Z" fill="#7f7f7f"/><path d="M222,50L219,41M240,46L237,50M35,13L33,13M217,2L220,10M184,15L181,5M22,23L22,17M259,22L253,34M183,34L181,34M152,9L155,17M107,48L111,34M266,26L265,21M145,10L141,-1M259,27L265,22M171,36L170,44M271,49L267,42M16,39L12,37M159,10L161,-2M130,1L130,9M43,42L39,37M228,35L229,30M166,5L166,13M38,17L42,24M58,13L55,5M96,23L94,25M205,31L202,31M235,10L238,14M94,71L91,71M-2,19L4,28M33,35L29,44M35,8L41,20M35,30L37,39M166,43L164,47M14,43L17,34M209,-4L207,6M160,40L166,53M52,16L55,13M270,31L267,31M140,26L134,29M193,9L195,-2M94,53L94,63M94,5L95,15M101,16L99,9M108,12L112,17M260,42L256,47M23,39L26,31M66,32L66,39M165,21L162,20M21,41L19,49M19,62L20,57M218,45L214,37M59,68L62,54M213,2L211,0M98,-2L97,6M109,16L109,11M204,14L204,7M134,30L136,26M33,52L31,60M147,47L147,57M147,37L150,34M70,15L73,22M268,14L263,25M178,20L175,26M129,21L130,29M165,34L160,42M94,14L96,12M63,46L65,57M215,19L216,30M261,42L266,43M207,26L212,30M197,8L205,20M73,56L70,58M5,48L4,41M63,34L64,45M161,26L159,35M33,19L30,20M75,31L79,37M10,65L11,73M136,58L134,54M-2,8L-2,1M73,53L74,60M110,1L115,11M21,35L24,28M49,52L50,40M80,-1L86,10M93,44L89,42M25,53L19,64M199,49L196,47M144,25L146,33M172,32L175,28M183,19L179,14M103,45L100,48M127,6L124,16M264,33L262,20M249,13L254,17M163,20L166,24M139,5L139,15M79,23L83,30M152,50L155,36M13,7L16,-1M147,20L149,15M79,14L82,-1M257,7L262,4M78,50L75,48M125,34L118,45M261,-5L260,2M106,40L108,37M169,27L166,31M130,17L134,6M67,20L65,8M114,25L117,19M15,49L11,48" fill="none" stroke="#cdcdcd" stroke-width="1" opacity="0.8"/></g></g>
<ellipse cx="180.2" cy="145.7" rx="3.1" ry="1.4" fill="#d1d1d1" filter="url(#b05_1)" opacity="0.90"/>
<ellipse cx="112.6" cy="150.3" rx="2.2" ry="1.6" fill="#d1d1d1" filter="url(#b05_1)" opacity="0.90"/>
<ellipse cx="98.9" cy="148.7" rx="2.8" ry="1.0" fill="#eaeaea" filter="url(#b05_1)" opacity="0.90"/>
<ellipse cx="278.6" cy="145.3" rx="2.8" ry="0.8" fill="#e1e1e1" filter="url(#b05_1)" opacity="0.90"/>
<ellipse cx="263.9" cy="141.2" rx="1.7" ry="1.1" fill="#dbdbdb" filter="url(#b05_1)" opacity="0.90"/>
<ellipse cx="154.9" cy="146.8" rx="2.8" ry="0.8" fill="#c1c1c1" filter="url(#b05_1)" opacity="0.90"/>
<ellipse cx="81.5" cy="146.7" rx="1.3" ry="1.8" fill="#ededed" filter="url(#b05_1)" opacity="0.90"/>
<ellipse cx="71.4" cy="149.3" rx="1.8" ry="1.1" fill="#d1d1d1" filter="url(#b05_1)" opacity="0.90"/>
<ellipse cx="210.4" cy="145.9" rx="1.9" ry="1.0" fill="#d0d0d0" filter="url(#b05_1)" opacity="0.90"/>
<ellipse cx="80.7" cy="149.3" rx="2.6" ry="1.2" fill="#c2c2c2" filter="url(#b05_1)" opacity="0.90"/>
<ellipse cx="94.3" cy="147.9" rx="2.4" ry="1.6" fill="#d3d3d3" filter="url(#b05_1)" opacity="0.90"/>
<ellipse cx="248.7" cy="145.0" rx="2.1" ry="1.2" fill="#d9d9d9" filter="url(#b05_1)" opacity="0.90"/>
<ellipse cx="224.3" cy="144.5" rx="2.6" ry="1.3" fill="#cbcbcb" filter="url(#b05_1)" opacity="0.90"/>
<ellipse cx="182.9" cy="147.3" rx="1.3" ry="1.2" fill="#d5d5d5" filter="url(#b05_1)" opacity="0.90"/>
<ellipse cx="268.2" cy="146.4" rx="1.9" ry="1.7" fill="#eaeaea" filter="url(#b05_1)" opacity="0.90"/>
<ellipse cx="115.0" cy="147.8" rx="1.4" ry="1.6" fill="#e2e2e2" filter="url(#b05_1)" opacity="0.90"/>
<ellipse cx="270.1" cy="145.4" rx="2.5" ry="1.5" fill="#dddddd" filter="url(#b05_1)" opacity="0.90"/>
<ellipse cx="75.6" cy="149.7" rx="1.2" ry="0.9" fill="#e9e9e9" filter="url(#b05_1)" opacity="0.90"/>
<ellipse cx="61.0" cy="147.1" rx="1.4" ry="1.7" fill="#c8c8c8" filter="url(#b05_1)" opacity="0.90"/>
<ellipse cx="55.8" cy="151.7" rx="1.4" ry="1.6" fill="#e3e3e3" filter="url(#b05_1)" opacity="0.90"/>
<ellipse cx="257.4" cy="146.8" rx="2.4" ry="1.6" fill="#c0c0c0" filter="url(#b05_1)" opacity="0.90"/>
<ellipse cx="240.3" cy="144.6" rx="2.6" ry="0.9" fill="#e7e7e7" filter="url(#b05_1)" opacity="0.90"/>
<ellipse cx="281.8" cy="140.7" rx="1.8" ry="1.4" fill="#ececec" filter="url(#b05_1)" opacity="0.90"/>
<ellipse cx="110.0" cy="146.3" rx="1.7" ry="1.4" fill="#e7e7e7" filter="url(#b05_1)" opacity="0.90"/>
<ellipse cx="147.6" cy="146.3" rx="2.0" ry="1.2" fill="#d5d5d5" filter="url(#b05_1)" opacity="0.90"/>
<ellipse cx="70.6" cy="149.3" rx="3.1" ry="1.2" fill="#e7e7e7" filter="url(#b05_1)" opacity="0.90"/>
<ellipse cx="89.8" cy="149.9" rx="2.7" ry="1.5" fill="#dadada" filter="url(#b05_1)" opacity="0.90"/>
<ellipse cx="170.0" cy="147.4" rx="3.0" ry="0.9" fill="#c3c3c3" filter="url(#b05_1)" opacity="0.90"/>
<ellipse cx="235.5" cy="147.2" rx="2.2" ry="1.2" fill="#e6e6e6" filter="url(#b05_1)" opacity="0.90"/>
<ellipse cx="96.2" cy="147.2" rx="1.6" ry="1.4" fill="#cfcfcf" filter="url(#b05_1)" opacity="0.90"/>
<ellipse cx="107.6" cy="149.4" rx="3.1" ry="1.1" fill="#e5e5e5" filter="url(#b05_1)" opacity="0.90"/>
<ellipse cx="152.5" cy="149.1" rx="2.4" ry="1.1" fill="#cacaca" filter="url(#b05_1)" opacity="0.90"/>
<ellipse cx="55.7" cy="149.6" rx="2.0" ry="1.0" fill="#d2d2d2" filter="url(#b05_1)" opacity="0.90"/>
<ellipse cx="129.9" cy="149.3" rx="1.5" ry="1.8" fill="#d8d8d8" filter="url(#b05_1)" opacity="0.90"/>
<ellipse cx="198.6" cy="145.5" rx="2.9" ry="1.6" fill="#dddddd" filter="url(#b05_1)" opacity="0.90"/>
<ellipse cx="169.4" cy="147.8" rx="2.9" ry="1.2" fill="#e6e6e6" filter="url(#b05_1)" opacity="0.90"/>
<ellipse cx="288.1" cy="143.0" rx="1.7" ry="1.0" fill="#e5e5e5" filter="url(#b05_1)" opacity="0.90"/>
<ellipse cx="217.5" cy="147.9" rx="2.9" ry="1.0" fill="#c8c8c8" filter="url(#b05_1)" opacity="0.90"/>
<polygon points="27.0,151.0 50.0,148.0 80.0,151.0 110.0,150.0 140.0,151.0 175.0,148.0 200.0,145.0 232.0,142.0 262.0,144.0 300.0,143.0 300.0,196.0 262.0,200.0 232.0,194.0 200.0,196.0 176.0,206.0 150.0,196.0 120.0,218.0 85.0,214.0 73.0,184.0 68.0,216.0 32.0,216.0 27.0,210.0" fill="#000000" opacity="0.06"/>
<rect x="27.0" y="20.0" width="273.0" height="219.0" fill="#fff" filter="url(#t1g)" opacity="0.16"/>
<rect x="27.0" y="20.0" width="273.0" height="219.0" fill="#000" filter="url(#t1d)" opacity="0.16"/>
</g>
<g clip-path="url(#c2)">
<rect x="11.0" y="251.0" width="291.0" height="220.3" fill="url(#g2a)"/>
<ellipse cx="60.0" cy="330.0" rx="70.0" ry="30.0" fill="#949494" filter="url(#b15_2)" opacity="0.60"/>
<ellipse cx="250.0" cy="345.0" rx="50.0" ry="25.0" fill="#868686" filter="url(#b15_2)" opacity="0.60"/>
<path d="M11.0,261.0 C19.2,260.9 43.5,260.4 60.0,260.5 C76.5,260.6 94.3,261.2 110.0,261.5 C125.7,261.8 146.7,261.9 154.0,262.0" fill="none" stroke="#787878" stroke-width="3.5" stroke-linecap="round" stroke-linejoin="round" filter="url(#b1_2)" opacity="0.85"/><path d="M10.4,259.7 C18.6,259.7 42.9,259.2 59.4,259.2 C75.9,259.3 93.7,260.0 109.4,260.2 C125.1,260.5 146.1,260.7 153.4,260.7" fill="none" stroke="#a0a0a0" stroke-width="1.1" stroke-linecap="round" stroke-linejoin="round" filter="url(#b1_2)" opacity="0.85"/>
<path d="M23.0,294.0 C30.8,294.0 55.5,294.2 70.0,294.0 C84.5,293.8 96.0,292.8 110.0,292.5 C124.0,292.2 146.7,292.1 154.0,292.0" fill="none" stroke="#727272" stroke-width="5.0" stroke-linecap="round" stroke-linejoin="round" filter="url(#b1_2)" opacity="0.85"/><path d="M22.4,292.2 C30.2,292.2 54.9,292.4 69.4,292.2 C83.9,291.9 95.4,291.0 109.4,290.7 C123.4,290.4 146.1,290.3 153.4,290.2" fill="none" stroke="#a4a4a4" stroke-width="1.6" stroke-linecap="round" stroke-linejoin="round" filter="url(#b1_2)" opacity="0.85"/>
<path d="M50.0,270.0 C48.3,271.3 44.2,275.3 40.0,278.0 C35.8,280.7 29.8,283.8 25.0,286.0 C20.2,288.2 13.3,290.2 11.0,291.0" fill="none" stroke="#727272" stroke-width="5.0" stroke-linecap="round" stroke-linejoin="round" filter="url(#b1_2)" opacity="0.85"/><path d="M49.4,268.2 C47.7,269.5 43.6,273.5 39.4,276.2 C35.2,278.9 29.2,282.0 24.4,284.2 C19.6,286.4 12.7,288.4 10.4,289.2" fill="none" stroke="#a0a0a0" stroke-width="1.6" stroke-linecap="round" stroke-linejoin="round" filter="url(#b1_2)" opacity="0.85"/>
<path d="M11.0,365.4 C15.8,363.8 29.5,359.5 40.0,356.0 C50.5,352.5 63.2,348.1 74.0,344.4 C84.8,340.7 94.5,337.5 105.0,334.0 C115.5,330.5 125.3,326.5 137.0,323.4 C148.7,320.3 162.7,317.4 175.0,315.5 C187.3,313.6 205.0,312.4 211.0,311.8" fill="none" stroke="#6c6c6c" stroke-width="6.0" stroke-linecap="round" stroke-linejoin="round" filter="url(#b1_2)" opacity="0.85"/><path d="M10.4,363.2 C15.2,361.7 28.9,357.3 39.4,353.8 C49.9,350.3 62.6,345.9 73.4,342.2 C84.2,338.6 93.9,335.3 104.4,331.8 C114.9,328.3 124.7,324.3 136.4,321.2 C148.1,318.2 162.1,315.3 174.4,313.3 C186.7,311.4 204.4,310.3 210.4,309.6" fill="none" stroke="#aaaaaa" stroke-width="1.9" stroke-linecap="round" stroke-linejoin="round" filter="url(#b1_2)" opacity="0.85"/>
<path d="M11.0,370.7 C18.0,369.1 41.5,363.8 53.0,361.0 C64.5,358.2 71.2,356.2 80.0,354.0 C88.8,351.8 97.4,349.7 105.7,347.5 C114.0,345.3 121.3,343.3 130.0,341.0 C138.7,338.7 148.0,336.6 158.0,333.9 C168.0,331.2 179.8,327.8 190.0,325.0 C200.2,322.2 214.2,318.3 219.0,317.0" fill="none" stroke="#6a6a6a" stroke-width="5.5" stroke-linecap="round" stroke-linejoin="round" filter="url(#b1_2)" opacity="0.85"/><path d="M10.4,368.7 C17.4,367.1 40.9,361.8 52.4,359.0 C63.9,356.2 70.6,354.3 79.4,352.0 C88.2,349.8 96.8,347.7 105.1,345.5 C113.4,343.4 120.7,341.3 129.4,339.0 C138.1,336.8 147.4,334.6 157.4,331.9 C167.4,329.3 179.2,325.8 189.4,323.0 C199.6,320.2 213.6,316.4 218.4,315.0" fill="none" stroke="#a6a6a6" stroke-width="1.8" stroke-linecap="round" stroke-linejoin="round" filter="url(#b1_2)" opacity="0.85"/>
<path d="M101.5,350.7 C104.6,351.8 114.1,354.9 120.0,357.0 C125.9,359.1 130.7,360.9 137.0,363.3 C143.3,365.8 150.0,369.5 158.0,371.7 C166.0,373.9 175.2,375.6 185.0,376.5 C194.8,377.4 206.2,377.9 217.0,377.0 C227.8,376.1 239.5,373.0 250.0,371.0 C260.5,369.0 271.3,366.7 280.0,365.0 C288.7,363.3 298.3,361.7 302.0,361.0" fill="none" stroke="#6a6a6a" stroke-width="6.0" stroke-linecap="round" stroke-linejoin="round" filter="url(#b1_2)" opacity="0.85"/><path d="M100.9,348.5 C104.0,349.6 113.5,352.7 119.4,354.8 C125.3,356.9 130.1,358.7 136.4,361.1 C142.7,363.6 149.4,367.3 157.4,369.5 C165.4,371.7 174.6,373.5 184.4,374.3 C194.2,375.2 205.6,375.8 216.4,374.8 C227.2,373.9 238.9,370.8 249.4,368.8 C259.9,366.8 270.7,364.5 279.4,362.8 C288.1,361.2 297.7,359.5 301.4,358.8" fill="none" stroke="#acacac" stroke-width="1.9" stroke-linecap="round" stroke-linejoin="round" filter="url(#b1_2)" opacity="0.85"/>
<path d="M175.0,363.3 C177.8,361.8 186.2,357.1 192.0,354.0 C197.8,350.9 203.9,348.0 210.0,345.0 C216.1,342.0 225.7,337.5 228.8,336.0" fill="none" stroke="#686868" stroke-width="6.0" stroke-linecap="round" stroke-linejoin="round" filter="url(#b1_2)" opacity="0.85"/><path d="M174.4,361.1 C177.2,359.6 185.6,354.9 191.4,351.8 C197.2,348.8 203.3,345.8 209.4,342.8 C215.5,339.8 225.1,335.3 228.2,333.8" fill="none" stroke="#aaaaaa" stroke-width="1.9" stroke-linecap="round" stroke-linejoin="round" filter="url(#b1_2)" opacity="0.85"/>
<path d="M51.0,370.7 C54.8,371.4 67.5,373.4 74.0,375.0 C80.5,376.6 84.7,378.1 90.0,380.0 C95.3,381.9 103.1,385.4 105.7,386.5" fill="none" stroke="#686868" stroke-width="5.5" stroke-linecap="round" stroke-linejoin="round" filter="url(#b1_2)" opacity="0.85"/><path d="M50.4,368.7 C54.2,369.4 66.9,371.5 73.4,373.0 C79.9,374.6 84.1,376.1 89.4,378.0 C94.7,379.9 102.5,383.4 105.1,384.5" fill="none" stroke="#969696" stroke-width="1.8" stroke-linecap="round" stroke-linejoin="round" filter="url(#b1_2)" opacity="0.85"/>
<path d="M278.0,340.0 C280.0,341.0 286.0,343.9 290.0,346.0 C294.0,348.1 300.0,351.7 302.0,352.8" fill="none" stroke="#6c6c6c" stroke-width="5.0" stroke-linecap="round" stroke-linejoin="round" filter="url(#b1_2)" opacity="0.85"/><path d="M277.4,338.2 C279.4,339.2 285.4,342.1 289.4,344.2 C293.4,346.3 299.4,349.9 301.4,351.0" fill="none" stroke="#a0a0a0" stroke-width="1.6" stroke-linecap="round" stroke-linejoin="round" filter="url(#b1_2)" opacity="0.85"/>
<path d="M234.0,300.0 C236.0,301.3 242.5,305.7 246.0,308.0 C249.5,310.3 252.4,312.2 255.0,314.0 C257.6,315.8 260.3,318.2 261.4,319.0" fill="none" stroke="#6e6e6e" stroke-width="5.5" stroke-linecap="round" stroke-linejoin="round" filter="url(#b1_2)" opacity="0.85"/><path d="M233.4,298.0 C235.4,299.4 241.9,303.7 245.4,306.0 C248.9,308.4 251.8,310.2 254.4,312.0 C257.0,313.9 259.7,316.2 260.8,317.0" fill="none" stroke="#a0a0a0" stroke-width="1.8" stroke-linecap="round" stroke-linejoin="round" filter="url(#b1_2)" opacity="0.85"/>
<path d="M217.0,377.0 C219.2,376.0 225.8,372.9 230.0,371.0 C234.2,369.1 235.7,366.6 242.4,365.4 C249.1,364.1 260.1,363.9 270.0,363.5 C279.9,363.1 296.7,363.1 302.0,363.0" fill="none" stroke="#707070" stroke-width="4.0" stroke-linecap="round" stroke-linejoin="round" filter="url(#b1_2)" opacity="0.85"/><path d="M216.4,375.6 C218.6,374.6 225.2,371.5 229.4,369.6 C233.6,367.6 235.1,365.2 241.8,364.0 C248.5,362.7 259.5,362.5 269.4,362.1 C279.3,361.7 296.1,361.6 301.4,361.6" fill="none" stroke="#a8a8a8" stroke-width="1.3" stroke-linecap="round" stroke-linejoin="round" filter="url(#b1_2)" opacity="0.85"/>
<path d="M65.7,359.0 C68.8,359.3 78.0,360.3 84.0,361.0 C90.0,361.7 98.6,362.9 101.5,363.3" fill="none" stroke="#686868" stroke-width="4.0" stroke-linecap="round" stroke-linejoin="round" filter="url(#b1_2)" opacity="0.85"/><path d="M65.1,357.6 C68.2,357.9 77.4,358.8 83.4,359.6 C89.4,360.3 98.0,361.5 100.9,361.9" fill="none" stroke="#969696" stroke-width="1.3" stroke-linecap="round" stroke-linejoin="round" filter="url(#b1_2)" opacity="0.85"/>
<path d="M240.0,386.0 C245.0,385.2 259.7,383.2 270.0,381.0 C280.3,378.8 296.7,374.3 302.0,373.0" fill="none" stroke="#707070" stroke-width="3.5" stroke-linecap="round" stroke-linejoin="round" filter="url(#b1_2)" opacity="0.85"/><path d="M239.4,384.7 C244.4,383.9 259.1,381.9 269.4,379.7 C279.7,377.6 296.1,373.1 301.4,371.7" fill="none" stroke="#a0a0a0" stroke-width="1.1" stroke-linecap="round" stroke-linejoin="round" filter="url(#b1_2)" opacity="0.85"/>
<path d="M110.0,342.0 C111.0,345.3 114.3,354.8 116.0,362.0 C117.7,369.2 119.3,381.2 120.0,385.0" fill="none" stroke="#707070" stroke-width="4.0" stroke-linecap="round" stroke-linejoin="round" filter="url(#b1_2)" opacity="0.85"/><path d="M109.4,340.6 C110.4,343.9 113.7,353.4 115.4,360.6 C117.1,367.7 118.7,379.7 119.4,383.6" fill="none" stroke="#a0a0a0" stroke-width="1.3" stroke-linecap="round" stroke-linejoin="round" filter="url(#b1_2)" opacity="0.85"/>
<path d="M20.0,380.0 C25.0,379.5 40.0,376.8 50.0,377.0 C60.0,377.2 75.0,380.3 80.0,381.0" fill="none" stroke="#6e6e6e" stroke-width="4.0" stroke-linecap="round" stroke-linejoin="round" filter="url(#b1_2)" opacity="0.85"/><path d="M19.4,378.6 C24.4,378.1 39.4,375.4 49.4,375.6 C59.4,375.7 74.4,378.9 79.4,379.6" fill="none" stroke="#969696" stroke-width="1.3" stroke-linecap="round" stroke-linejoin="round" filter="url(#b1_2)" opacity="0.85"/>
<ellipse cx="70.0" cy="343.3" rx="4.5" ry="3.8" fill="#b4b4b4" filter="url(#b1_2)"/>
<ellipse cx="95.0" cy="329.7" rx="4.0" ry="2.5" fill="#b0b0b0" filter="url(#b1_2)"/>
<path d="M174.0,356.0 C175.0,355.7 178.0,354.5 180.0,354.0 C182.0,353.5 185.0,353.2 186.0,353.0" fill="none" stroke="#cdcdcd" stroke-width="2.6" stroke-linecap="round" stroke-linejoin="round" filter="url(#b1_2)"/>
<path d="M259.0,357.0 C260.2,357.2 263.5,358.5 266.0,358.5 C268.5,358.5 272.7,357.2 274.0,357.0" fill="none" stroke="#e8e8e8" stroke-width="2.8" stroke-linecap="round" stroke-linejoin="round" filter="url(#b1_2)"/>
<ellipse cx="125.0" cy="356.0" rx="3.0" ry="2.0" fill="#bebebe" filter="url(#b1_2)"/>
<path d="M11.0,381.0 C19.2,381.3 43.5,382.0 60.0,383.0 C76.5,384.0 93.3,386.2 110.0,387.0 C126.7,387.8 142.5,387.2 160.0,388.0 C177.5,388.8 198.3,390.8 215.0,392.0 C231.7,393.2 245.5,394.2 260.0,395.0 C274.5,395.8 295.0,396.7 302.0,397.0" fill="none" stroke="#646464" stroke-width="8.0" stroke-linecap="butt" stroke-linejoin="round" filter="url(#b4_2)" opacity="0.60"/>
<polygon points="11.0,383.0 60.0,386.0 110.0,390.0 160.0,391.0 215.0,395.0 260.0,398.0 302.0,400.0 302.0,471.3 11.0,471.3" fill="#5a5a5a"/>
<path d="M30.0,392.0 C31.8,386.8 40.0,389.0 45.0,389.0 C50.0,389.0 54.2,391.8 60.0,392.0 C65.8,392.2 71.7,389.8 80.0,390.0 C88.3,390.2 100.8,393.0 110.0,393.0 C119.2,393.0 126.7,390.2 135.0,390.0 C143.3,389.8 151.7,391.0 160.0,392.0 C168.3,393.0 175.8,395.2 185.0,396.0 C194.2,396.8 205.8,396.2 215.0,397.0 C224.2,397.8 232.5,400.5 240.0,401.0 C247.5,401.5 253.3,399.5 260.0,400.0 C266.7,400.5 273.7,403.5 280.0,404.0 C286.3,404.5 295.3,399.5 298.0,403.0 C300.7,406.5 296.0,418.8 296.0,425.0 C296.0,431.2 300.7,436.5 298.0,440.0 C295.3,443.5 286.0,444.0 280.0,446.0 C274.0,448.0 268.7,451.7 262.0,452.0 C255.3,452.3 247.8,448.0 240.0,448.0 C232.2,448.0 223.3,453.3 215.0,452.0 C206.7,450.7 197.5,443.3 190.0,440.0 C182.5,436.7 176.7,434.5 170.0,432.0 C163.3,429.5 155.8,425.7 150.0,425.0 C144.2,424.3 140.0,425.5 135.0,428.0 C130.0,430.5 125.0,436.0 120.0,440.0 C115.0,444.0 110.8,449.3 105.0,452.0 C99.2,454.7 92.5,455.3 85.0,456.0 C77.5,456.7 66.7,457.0 60.0,456.0 C53.3,455.0 49.7,450.7 45.0,450.0 C40.3,449.3 33.8,457.0 32.0,452.0 C30.2,447.0 34.3,430.0 34.0,420.0 C33.7,410.0 28.2,397.2 30.0,392.0Z" fill="#5c5c5c" filter="url(#b2_2)"/>
<g filter="url(#b1_2)"><g transform="translate(11,386)"><path d="M45,37L49,43L50,50L45,48L41,40Z" fill="#717171"/><path d="M226,32L234,35L239,45L234,46L229,38Z" fill="#7d7d7d"/><path d="M93,30L88,30L90,17L94,16Z" fill="#6a6a6a"/><path d="M100,18L105,21L107,33L104,36L99,24Z" fill="#7a7a7a"/><path d="M40,22L35,21L42,9L45,12Z" fill="#747474"/><path d="M185,26L188,35L187,43L184,42L182,31Z" fill="#878787"/><path d="M81,38L81,29L84,23L86,30Z" fill="#858585"/><path d="M141,40L137,41L138,30L141,23L145,24L145,31Z" fill="#959595"/><path d="M242,31L247,18L251,21L246,31Z" fill="#636363"/><path d="M112,1L118,-1L120,12L118,21L112,14Z" fill="#898989"/><path d="M255,44L263,27L269,31L260,45Z" fill="#787878"/><path d="M209,46L208,54L202,45L204,40Z" fill="#626262"/><path d="M76,30L72,30L72,25L78,18L80,19Z" fill="#6a6a6a"/><path d="M45,72L47,62L53,59L52,71L47,75Z" fill="#949494"/><path d="M33,0L40,4L43,9L43,16L41,17L34,7Z" fill="#919191"/><path d="M158,46L158,30L163,28L164,38Z" fill="#828282"/><path d="M249,46L255,59L253,65L245,56L240,47L245,44Z" fill="#949494"/><path d="M85,25L79,19L76,10L79,4L84,10Z" fill="#929292"/><path d="M151,35L152,27L154,21L156,24L156,31L153,37Z" fill="#6d6d6d"/><path d="M262,35L262,22L265,20L267,29L265,37Z" fill="#919191"/><path d="M81,45L77,44L73,35L75,28L79,32L82,44Z" fill="#777777"/><path d="M197,7L202,18L199,18L194,11L193,7Z" fill="#747474"/><path d="M87,27L83,16L87,1L91,11Z" fill="#959595"/><path d="M256,40L263,33L262,40L255,44Z" fill="#888888"/><path d="M172,40L175,51L171,57L166,43Z" fill="#7a7a7a"/><path d="M30,34L35,35L33,47L29,53L27,44Z" fill="#626262"/><path d="M66,54L60,49L58,41L65,45L68,51Z" fill="#797979"/><path d="M43,42L39,41L38,29L43,32Z" fill="#6a6a6a"/><path d="M58,49L52,35L53,27L60,38Z" fill="#6a6a6a"/><path d="M62,37L67,34L69,44L64,46Z" fill="#7e7e7e"/><path d="M202,14L209,26L208,28L201,22L196,13Z" fill="#666666"/><path d="M133,22L129,18L132,8L139,1L141,5L138,14Z" fill="#787878"/><path d="M179,38L181,45L178,51L174,48L173,38L175,34Z" fill="#848484"/><path d="M243,19L248,15L254,12L255,15L246,26L240,28Z" fill="#939393"/><path d="M263,48L265,59L261,61L258,49Z" fill="#636363"/><path d="M70,61L73,61L78,68L76,72L72,69Z" fill="#888888"/><path d="M46,10L56,22L56,29L51,27L44,15Z" fill="#7e7e7e"/><path d="M189,34L189,46L185,45L182,37L185,30Z" fill="#717171"/><path d="M52,17L47,35L42,32L47,16Z" fill="#646464"/><path d="M86,48L81,35L83,28L92,40L93,52Z" fill="#767676"/><path d="M283,40L282,32L286,20L291,21L290,29Z" fill="#7e7e7e"/><path d="M226,32L225,49L220,52L221,36Z" fill="#8f8f8f"/><path d="M196,6L196,12L192,21L187,20L191,11Z" fill="#7a7a7a"/><path d="M152,3L158,16L150,13L145,2Z" fill="#6e6e6e"/><path d="M66,11L68,5L75,11L78,22L74,23Z" fill="#666666"/><path d="M264,39L263,29L269,27L269,36Z" fill="#8b8b8b"/><path d="M128,7L133,15L135,24L131,22L127,17L125,8Z" fill="#6f6f6f"/><path d="M257,31L255,20L256,15L261,17L262,26Z" fill="#959595"/><path d="M41,16L40,28L36,37L32,28L33,19L38,12Z" fill="#7d7d7d"/><path d="M229,19L224,27L219,33L218,28L221,21L225,17Z" fill="#818181"/><path d="M57,43L54,40L54,32L58,23L62,29L62,36Z" fill="#6b6b6b"/><path d="M194,50L190,58L185,56L187,48L192,39L194,42Z" fill="#646464"/><path d="M211,36L207,34L207,26L209,19L212,21L213,29Z" fill="#909090"/><path d="M271,52L267,43L270,39L274,43L275,52Z" fill="#787878"/><path d="M129,38L134,23L139,18L141,27L132,40Z" fill="#777777"/><path d="M34,21L29,33L20,40L19,34L31,20Z" fill="#8d8d8d"/><path d="M57,30L60,23L65,21L64,27L58,33Z" fill="#6e6e6e"/><path d="M276,43L283,36L283,41L276,47Z" fill="#8e8e8e"/><path d="M117,31L117,37L113,43L109,42Z" fill="#8c8c8c"/><path d="M221,72L210,67L206,58L208,54L217,62Z" fill="#747474"/><path d="M237,51L238,60L236,66L234,65L234,55Z" fill="#6e6e6e"/><path d="M251,56L252,50L256,55L257,60L254,64Z" fill="#7c7c7c"/><path d="M65,54L71,50L72,55L65,64L62,62Z" fill="#7d7d7d"/><path d="M107,6L110,10L113,17L111,18L106,14L103,7Z" fill="#666666"/><path d="M89,23L92,35L88,38L83,29L83,20Z" fill="#696969"/><path d="M71,31L65,28L61,16L65,12L69,18Z" fill="#949494"/><path d="M90,27L87,39L84,43L81,38L86,22Z" fill="#616161"/><path d="M39,57L33,47L34,35L42,45Z" fill="#8b8b8b"/><path d="M267,39L266,51L261,52L262,45Z" fill="#878787"/><path d="M243,33L247,31L252,32L247,46L241,53L238,49Z" fill="#949494"/><path d="M198,25L203,32L206,42L201,44L197,36L195,30Z" fill="#7d7d7d"/><path d="M176,61L176,44L182,41L183,53Z" fill="#8b8b8b"/><path d="M34,22L33,31L29,28L26,15L32,14Z" fill="#8a8a8a"/><path d="M130,34L127,30L133,21L136,21L134,31Z" fill="#949494"/><path d="M242,53L236,47L236,41L243,47Z" fill="#626262"/><path d="M99,28L95,37L92,39L93,28L98,22Z" fill="#7f7f7f"/><path d="M238,48L235,48L231,38L230,33L234,31L239,40Z" fill="#838383"/><path d="M63,75L58,75L52,67L50,56L51,53L60,62Z" fill="#686868"/><path d="M35,58L29,55L22,43L27,43L35,51Z" fill="#8d8d8d"/><path d="M185,13L185,25L184,31L180,25L181,17Z" fill="#818181"/><path d="M37,26L39,31L37,37L32,46L29,43L31,31Z" fill="#606060"/><path d="M283,23L283,31L280,35L278,30Z" fill="#6c6c6c"/><path d="M95,49L101,48L95,60L85,62Z" fill="#7e7e7e"/><path d="M241,52L237,61L234,59L234,48L239,43Z" fill="#6e6e6e"/><path d="M105,14L103,13L109,3L113,4L111,8Z" fill="#787878"/><path d="M72,49L69,58L64,56L66,46Z" fill="#949494"/><path d="M30,40L30,46L26,50L23,41L24,35L26,33Z" fill="#757575"/><path d="M203,56L206,54L209,59L210,67L209,70L204,66Z" fill="#6b6b6b"/><path d="M244,30L244,22L253,30L256,40L251,43Z" fill="#909090"/><path d="M125,12L122,18L115,-1L121,-2Z" fill="#686868"/><path d="M30,4L33,13L29,19L27,13Z" fill="#909090"/><path d="M77,17L75,9L76,3L81,4L81,12Z" fill="#686868"/><path d="M167,31L169,42L164,41L162,35L163,27Z" fill="#8a8a8a"/><path d="M221,16L222,13L227,13L235,27L231,30L225,25Z" fill="#747474"/><path d="M84,7L88,7L94,17L88,15Z" fill="#6a6a6a"/><path d="M163,32L156,32L152,25L150,17L156,20L161,25Z" fill="#686868"/><path d="M131,26L126,23L126,12L128,11L132,21Z" fill="#6b6b6b"/><path d="M225,53L226,60L218,54L215,46Z" fill="#737373"/><path d="M196,47L193,38L196,31L200,38L202,48L199,52Z" fill="#606060"/><path d="M240,13L244,17L243,27L237,32L237,21Z" fill="#888888"/><path d="M143,32L151,44L147,48L136,34Z" fill="#898989"/><path d="M147,36L139,21L149,24L152,37Z" fill="#959595"/><path d="M69,26L71,29L68,39L65,41L65,35Z" fill="#6b6b6b"/><path d="M287,15L287,28L281,22L281,11Z" fill="#727272"/><path d="M81,61L77,65L77,54L82,42L86,42L87,48Z" fill="#777777"/><path d="M210,45L204,41L202,35L205,30L210,37Z" fill="#909090"/><path d="M270,25L263,33L266,16L273,9Z" fill="#8c8c8c"/><path d="M221,21L219,27L212,14L216,7Z" fill="#747474"/><path d="M96,50L98,58L95,61L84,46L88,41Z" fill="#808080"/><path d="M194,57L193,62L188,55L186,46L191,49Z" fill="#6e6e6e"/><path d="M98,64L97,71L92,62L94,57Z" fill="#878787"/><path d="M163,20L163,14L173,3L175,9L168,21Z" fill="#878787"/><path d="M123,30L125,28L132,35L133,42L127,38Z" fill="#959595"/><path d="M95,2L97,11L96,21L92,21L90,16L91,6Z" fill="#6f6f6f"/><path d="M270,13L273,17L273,27L269,31L267,28L267,17Z" fill="#7f7f7f"/><path d="M225,33L221,27L222,22L227,24L231,31L231,38Z" fill="#707070"/><path d="M111,44L111,50L109,52L103,43L102,39L106,38Z" fill="#656565"/><path d="M85,46L84,55L79,64L77,60L80,47Z" fill="#898989"/><path d="M229,15L237,8L236,19L231,28L227,22Z" fill="#7a7a7a"/><path d="M138,9L135,11L131,5L131,-4Z" fill="#8e8e8e"/><path d="M138,23L136,12L138,10L144,19L143,26Z" fill="#767676"/><path d="M39,68L34,58L33,52L40,52L45,61L46,69Z" fill="#656565"/><path d="M27,23L28,33L23,31L18,20L19,13Z" fill="#838383"/><path d="M144,18L146,22L141,35L138,33L139,20Z" fill="#6e6e6e"/><path d="M104,59L100,54L101,41L103,38L106,46L107,51Z" fill="#737373"/><path d="M90,52L89,62L85,66L83,60L85,53L89,49Z" fill="#616161"/><path d="M267,55L262,66L254,73L254,65L262,55Z" fill="#6b6b6b"/><path d="M238,24L241,30L233,40L231,33Z" fill="#858585"/><path d="M229,32L226,40L222,37L224,30L226,25L229,27Z" fill="#878787"/><path d="M41,67L34,60L33,55L39,57Z" fill="#656565"/><path d="M87,72L83,68L83,56L88,54L90,61Z" fill="#656565"/><path d="M227,48L232,60L228,68L225,58Z" fill="#646464"/><path d="M119,30L116,37L113,28L115,23Z" fill="#949494"/><path d="M28,51L30,48L38,57L38,64L32,60Z" fill="#848484"/><path d="M277,36L282,35L281,46L277,55L272,57L272,42Z" fill="#6e6e6e"/><path d="M213,51L211,56L207,61L204,58L207,50L211,45Z" fill="#6b6b6b"/><path d="M277,34L279,46L274,55L269,45L272,33Z" fill="#8b8b8b"/><path d="M86,52L90,41L95,36L93,46Z" fill="#8d8d8d"/><path d="M279,23L286,19L286,22L280,31L277,32L274,30Z" fill="#737373"/><path d="M115,22L117,15L120,12L122,19L119,27Z" fill="#696969"/><path d="M32,16L27,8L29,4L35,10L37,16L36,20Z" fill="#8a8a8a"/></g></g>
<g filter="url(#b1_2)"><g transform="translate(11,386)"><path d="M51,51L52,57L51,61L49,60L50,54Z" fill="#3b3b3b"/><path d="M181,40L179,32L182,28L183,37Z" fill="#383838"/><path d="M261,51L261,43L265,42L264,48Z" fill="#444444"/><path d="M231,56L228,52L229,50L233,52L235,55L234,58Z" fill="#353535"/><path d="M268,26L267,20L269,21L270,27Z" fill="#484848"/><path d="M102,34L107,32L107,36L101,43L100,41Z" fill="#414141"/><path d="M278,23L282,27L278,36L276,31Z" fill="#313131"/><path d="M57,31L53,37L53,29L56,24Z" fill="#343434"/><path d="M98,13L102,17L103,24L99,21L96,14Z" fill="#474747"/><path d="M49,35L52,33L52,36L51,43L49,41Z" fill="#323232"/><path d="M78,68L75,73L72,74L72,71L75,66L77,64Z" fill="#424242"/><path d="M50,72L47,64L52,68L55,74Z" fill="#3f3f3f"/><path d="M23,63L22,60L25,57L26,59Z" fill="#434343"/><path d="M157,32L158,38L156,40L153,35L152,28L154,28Z" fill="#454545"/><path d="M191,26L193,32L191,38L188,33L188,26Z" fill="#414141"/><path d="M211,30L213,27L215,30L214,35L212,36Z" fill="#353535"/><path d="M122,17L127,24L126,28L121,23Z" fill="#404040"/><path d="M27,50L31,48L30,51L27,55Z" fill="#3c3c3c"/><path d="M191,40L193,44L191,52L188,48L188,42Z" fill="#383838"/><path d="M108,32L106,32L107,28L110,25L112,26Z" fill="#464646"/><path d="M155,41L157,38L162,48L160,50Z" fill="#343434"/><path d="M122,7L123,12L121,16L120,15L120,9Z" fill="#464646"/><path d="M66,15L68,18L69,22L66,21L64,17Z" fill="#363636"/><path d="M235,15L232,20L228,21L229,18L232,15Z" fill="#3d3d3d"/><path d="M198,36L197,43L195,44L193,34L194,33Z" fill="#3e3e3e"/><path d="M58,74L60,67L65,64L67,65L61,73Z" fill="#383838"/><path d="M171,40L169,34L172,26L174,32Z" fill="#393939"/><path d="M233,16L229,23L223,26L227,17L232,11Z" fill="#424242"/><path d="M213,51L214,49L215,52L215,56L214,57L212,55Z" fill="#373737"/><path d="M62,4L68,15L67,19L60,8Z" fill="#353535"/><path d="M27,16L25,12L26,6L28,10Z" fill="#3a3a3a"/><path d="M118,26L118,20L121,17L121,21L120,26Z" fill="#3e3e3e"/><path d="M241,42L244,43L243,49L239,51L236,52L236,48Z" fill="#363636"/><path d="M58,18L61,24L58,23L54,16L55,16Z" fill="#484848"/><path d="M254,42L253,36L255,35L258,42L258,45Z" fill="#494949"/><path d="M230,30L231,35L227,32L225,27L224,23L228,26Z" fill="#454545"/><path d="M79,20L79,16L84,10L88,9L85,16Z" fill="#494949"/><path d="M66,13L65,14L62,10L61,6L63,5L65,6Z" fill="#303030"/><path d="M154,29L156,26L159,31L158,36L156,35Z" fill="#484848"/><path d="M183,18L180,27L176,25L180,18Z" fill="#3f3f3f"/><path d="M64,39L66,39L67,42L65,46L63,47L63,44Z" fill="#414141"/><path d="M282,53L280,45L281,42L284,44L286,52L284,55Z" fill="#313131"/><path d="M87,58L85,58L84,54L85,49L86,50L88,56Z" fill="#4a4a4a"/><path d="M129,27L131,32L130,38L128,40L126,35L127,29Z" fill="#313131"/><path d="M282,43L278,37L278,30L280,28L284,40Z" fill="#343434"/><path d="M34,20L31,19L29,13L30,9L33,16Z" fill="#3a3a3a"/><path d="M224,50L226,45L227,49L227,55L224,56Z" fill="#343434"/><path d="M64,54L66,57L65,63L64,65L62,60Z" fill="#393939"/><path d="M131,26L127,33L125,36L126,30L128,26Z" fill="#313131"/><path d="M106,25L105,18L107,17L108,24Z" fill="#3d3d3d"/><path d="M126,8L126,15L124,13L125,6Z" fill="#464646"/><path d="M159,20L163,11L167,11L163,19Z" fill="#3a3a3a"/><path d="M96,9L94,15L92,17L89,13L91,9L96,2Z" fill="#494949"/><path d="M197,53L199,61L196,66L193,61L195,54Z" fill="#494949"/><path d="M265,45L263,42L266,34L268,34L269,40Z" fill="#313131"/><path d="M254,32L256,29L258,32L256,36L253,38Z" fill="#383838"/><path d="M28,29L26,24L28,20L29,21L30,27Z" fill="#404040"/><path d="M65,31L60,27L58,19L62,20L66,26Z" fill="#474747"/><path d="M72,35L70,30L70,28L71,28L74,32L74,36Z" fill="#3a3a3a"/><path d="M92,41L98,48L98,52L94,50L91,43Z" fill="#393939"/><path d="M105,5L107,1L112,8L110,11Z" fill="#3b3b3b"/><path d="M244,21L240,13L241,11L244,13L247,19L247,23Z" fill="#363636"/><path d="M272,28L271,24L274,23L278,29L279,33L276,33Z" fill="#464646"/><path d="M95,31L92,34L90,24L94,23Z" fill="#353535"/><path d="M56,67L51,61L49,56L53,56L59,63L59,67Z" fill="#393939"/><path d="M69,45L67,36L70,34L71,37L72,45Z" fill="#383838"/><path d="M149,36L148,29L151,27L154,36L153,41Z" fill="#3b3b3b"/><path d="M194,19L194,13L197,7L200,6L197,17Z" fill="#444444"/><path d="M63,32L65,38L63,40L60,36L60,31Z" fill="#353535"/><path d="M191,31L194,38L194,43L192,43L188,35L189,30Z" fill="#474747"/><path d="M209,57L212,56L211,61L208,63L207,62Z" fill="#3e3e3e"/><path d="M202,36L200,30L204,33L205,37Z" fill="#3c3c3c"/><path d="M179,25L178,31L175,31L175,25L178,23Z" fill="#3a3a3a"/><path d="M211,38L208,41L207,33L208,29L210,30Z" fill="#3a3a3a"/></g></g>
<g filter="url(#b1_2)"><g transform="translate(11,388)"><path d="M202,28L203,27L210,34L211,38L209,38L204,33Z" fill="#e6e6e6"/><path d="M206,50L206,53L202,51L197,45L199,43L204,47Z" fill="#e3e3e3"/><path d="M91,40L97,35L96,41L89,48Z" fill="#f5f5f5"/><path d="M190,30L188,36L186,27L189,23Z" fill="#fbfbfb"/><path d="M67,8L68,5L74,14L72,18Z" fill="#e3e3e3"/><path d="M86,44L89,44L92,50L91,52L87,48Z" fill="#e5e5e5"/><path d="M211,33L209,33L212,24L216,23L215,28Z" fill="#fafafa"/><path d="M274,9L275,13L273,19L270,22L270,19L271,13Z" fill="#fcfcfc"/><path d="M72,35L72,32L78,34L81,39L82,43L78,41Z" fill="#f1f1f1"/><path d="M266,22L267,28L266,31L264,28L265,22Z" fill="#e5e5e5"/><path d="M128,7L129,0L132,5L131,12L129,16Z" fill="#f4f4f4"/><path d="M29,27L33,20L34,20L32,26Z" fill="#f4f4f4"/><path d="M63,21L61,14L65,15L68,25L67,25Z" fill="#e6e6e6"/><path d="M97,11L99,5L103,0L100,8Z" fill="#e6e6e6"/><path d="M248,23L250,19L251,23L251,28L249,28Z" fill="#ececec"/><path d="M113,20L110,16L109,11L111,10L113,13L114,19Z" fill="#e0e0e0"/><path d="M47,56L48,51L49,52L49,56L48,61L46,59Z" fill="#e5e5e5"/><path d="M227,43L225,44L226,34L228,29L230,34Z" fill="#fafafa"/><path d="M195,30L195,26L197,27L200,31L201,37L198,34Z" fill="#d7d7d7"/><path d="M83,23L88,28L89,34L82,29L79,24Z" fill="#f2f2f2"/><path d="M95,36L95,28L98,35L98,44Z" fill="#d7d7d7"/><path d="M76,55L73,51L73,47L75,49L79,56Z" fill="#d7d7d7"/><path d="M47,3L44,9L40,13L37,13L42,5Z" fill="#ededed"/><path d="M109,30L115,23L115,29L110,34Z" fill="#e2e2e2"/><path d="M50,11L44,6L41,-1L48,5L51,9Z" fill="#eeeeee"/><path d="M256,36L259,35L264,41L262,42Z" fill="#e7e7e7"/><path d="M245,47L245,41L247,41L249,47L248,51Z" fill="#e5e5e5"/><path d="M196,38L199,37L197,43L193,49L193,44Z" fill="#e1e1e1"/><path d="M47,35L44,41L37,46L38,42L42,38Z" fill="#d8d8d8"/><path d="M55,40L53,38L58,32L59,35Z" fill="#e4e4e4"/><path d="M55,42L56,35L58,40L58,46L57,46Z" fill="#f3f3f3"/><path d="M64,17L66,22L64,28L62,27L62,21Z" fill="#efefef"/><path d="M58,21L62,16L62,20L57,25Z" fill="#f4f4f4"/><path d="M272,38L269,37L264,29L264,25L269,31Z" fill="#f7f7f7"/><path d="M31,51L31,55L29,59L25,62L28,54Z" fill="#f6f6f6"/><path d="M75,40L71,35L78,40L81,44Z" fill="#ebebeb"/><path d="M159,28L163,27L158,33L153,34Z" fill="#f3f3f3"/><path d="M49,28L44,35L38,38L38,36L44,29Z" fill="#f2f2f2"/><path d="M172,19L172,10L174,11L174,22Z" fill="#e3e3e3"/><path d="M255,52L253,52L255,46L258,42L260,44L257,49Z" fill="#fafafa"/><path d="M260,48L262,43L266,39L267,42L262,47Z" fill="#f4f4f4"/><path d="M283,32L284,37L284,44L282,42L280,34L281,32Z" fill="#d7d7d7"/><path d="M220,40L217,44L217,39L220,36Z" fill="#dcdcdc"/><path d="M37,19L39,16L44,13L46,14L42,20L37,24Z" fill="#e3e3e3"/><path d="M71,37L69,41L68,39L69,34L72,31L72,34Z" fill="#f0f0f0"/><path d="M66,50L66,46L68,41L70,42L69,48Z" fill="#efefef"/><path d="M98,13L98,21L95,24L95,17Z" fill="#dedede"/><path d="M242,56L240,53L242,48L243,52Z" fill="#fdfdfd"/><path d="M165,32L166,35L160,42L158,42L162,34Z" fill="#f7f7f7"/><path d="M42,18L44,19L42,26L37,31L36,31L39,21Z" fill="#e1e1e1"/><path d="M27,26L32,33L33,39L27,32Z" fill="#d7d7d7"/><path d="M34,50L31,53L31,47L34,42Z" fill="#dddddd"/><path d="M64,38L61,43L61,41L62,33L63,30L66,29Z" fill="#dedede"/><path d="M135,17L137,20L135,22L130,16L130,13Z" fill="#e5e5e5"/><path d="M46,36L43,31L45,29L50,38Z" fill="#eaeaea"/><path d="M219,30L224,25L224,28L218,34Z" fill="#f3f3f3"/><path d="M73,23L74,28L71,27L71,19Z" fill="#e9e9e9"/><path d="M270,47L272,47L271,54L267,62L265,58Z" fill="#ececec"/><path d="M248,54L244,59L242,59L244,54L247,51L250,50Z" fill="#dadada"/><path d="M59,71L57,71L58,65L61,59L63,60L62,65Z" fill="#e3e3e3"/><path d="M72,63L79,69L78,72L71,66Z" fill="#e7e7e7"/><path d="M21,37L25,47L25,54L21,49Z" fill="#e6e6e6"/><path d="M71,68L71,73L69,72L66,67L66,63L68,63Z" fill="#e8e8e8"/><path d="M235,20L232,16L238,17L243,22L244,26L241,26Z" fill="#d8d8d8"/><path d="M28,13L28,21L23,27L23,17L26,11Z" fill="#f4f4f4"/><path d="M41,27L40,25L45,20L47,22Z" fill="#e3e3e3"/><path d="M137,40L132,36L130,31L137,35L142,40L143,43Z" fill="#dadada"/><path d="M63,42L61,51L59,48L60,41Z" fill="#fdfdfd"/><path d="M80,19L78,19L77,15L79,8L80,11Z" fill="#dfdfdf"/><path d="M92,59L89,64L87,66L88,61L92,56Z" fill="#f8f8f8"/><path d="M211,52L215,46L215,50L211,57L209,57Z" fill="#e6e6e6"/><path d="M33,9L32,1L35,-2L36,3L35,11Z" fill="#f4f4f4"/><path d="M249,49L250,40L253,39L252,47Z" fill="#dedede"/><path d="M286,51L283,49L283,46L285,47L289,52L290,54Z" fill="#dfdfdf"/><path d="M216,15L222,8L221,13L214,21Z" fill="#dddddd"/><path d="M189,9L185,15L179,19L177,19L179,15L185,10Z" fill="#dbdbdb"/><path d="M249,55L252,55L249,62L245,67L245,61Z" fill="#e5e5e5"/><path d="M26,10L24,11L22,7L21,-1L23,-6L26,2Z" fill="#eeeeee"/><path d="M88,24L85,20L84,15L84,11L87,17Z" fill="#e3e3e3"/><path d="M196,33L195,26L197,21L200,30L198,36Z" fill="#eeeeee"/><path d="M72,30L67,34L66,32L70,26L73,24Z" fill="#dadada"/><path d="M92,56L90,59L87,62L87,59L89,54L92,53Z" fill="#e5e5e5"/><path d="M97,22L97,30L95,34L95,24Z" fill="#ebebeb"/><path d="M121,17L122,18L120,26L118,26Z" fill="#dddddd"/><path d="M251,50L253,54L247,49L245,44L245,40Z" fill="#fafafa"/><path d="M26,7L25,10L20,13L19,13L19,12L22,8Z" fill="#e9e9e9"/><path d="M175,37L175,29L178,26L179,36L177,41Z" fill="#d9d9d9"/><path d="M204,21L198,25L199,21L206,15L210,14L208,19Z" fill="#ededed"/><path d="M247,27L253,27L261,37L254,34Z" fill="#f0f0f0"/><path d="M75,22L77,25L77,32L76,32L74,30L74,24Z" fill="#f7f7f7"/><path d="M36,32L40,37L38,38L34,34L32,32L32,29Z" fill="#f8f8f8"/><path d="M233,45L231,44L227,34L231,37Z" fill="#fefefe"/><path d="M75,13L73,11L72,5L75,8Z" fill="#d8d8d8"/><path d="M251,47L251,42L254,39L254,41L252,48Z" fill="#e5e5e5"/><path d="M226,16L227,10L228,9L229,12L228,16L227,17Z" fill="#ececec"/><path d="M76,63L80,59L84,56L84,58L81,61L77,64Z" fill="#e5e5e5"/><path d="M213,48L210,49L212,40L214,40Z" fill="#f3f3f3"/><path d="M183,54L182,52L190,44L190,48Z" fill="#f6f6f6"/><path d="M57,10L56,10L58,5L62,3L64,3Z" fill="#fbfbfb"/><path d="M190,53L190,45L195,39L195,43L193,52Z" fill="#e1e1e1"/><path d="M155,14L162,22L163,25L158,23L152,16Z" fill="#f3f3f3"/></g></g>
<polygon points="11.0,452.0 60.0,456.0 105.0,452.0 125.0,440.0 150.0,430.0 190.0,442.0 215.0,452.0 262.0,452.0 302.0,444.0 302.0,471.3 11.0,471.3" fill="#808080" filter="url(#t2b)" opacity="0.85"/>
<path d="M74.0,402.0 C76.0,399.8 83.5,398.7 88.0,399.0 C92.5,399.3 99.2,401.3 101.0,404.0 C102.8,406.7 101.5,412.8 99.0,415.0 C96.5,417.2 89.8,417.5 86.0,417.0 C82.2,416.5 78.0,414.5 76.0,412.0 C74.0,409.5 72.0,404.2 74.0,402.0Z" fill="#fafafa" filter="url(#b1_2)"/>
<polygon points="47.0,444.0 60.0,432.0 72.0,423.0 76.0,426.0 64.0,438.0 52.0,448.0" fill="#f8f8f8" filter="url(#b1_2)"/>
<polygon points="66.0,426.0 74.0,422.0 83.0,452.0 70.0,455.0" fill="#ebebeb" filter="url(#b1_2)"/>
<polygon points="33.0,396.0 45.0,394.0 52.0,404.0 44.0,407.0" fill="#e1e1e1" filter="url(#b1_2)"/>
<polygon points="52.0,392.0 63.0,391.0 64.0,398.0 54.0,398.0" fill="#d7d7d7" filter="url(#b1_2)"/>
<polygon points="122.0,408.0 134.0,405.0 136.0,420.0 124.0,424.0" fill="#d7d7d7" filter="url(#b1_2)"/>
<ellipse cx="145.5" cy="397.0" rx="5.5" ry="7.0" fill="#cdcdcd" filter="url(#b1_2)"/>
<ellipse cx="145.5" cy="398.0" rx="2.5" ry="4.0" fill="#787878" filter="url(#b1_2)"/>
<polygon points="66.0,456.0 88.0,455.0 90.0,468.0 68.0,468.0" fill="#969696" filter="url(#b2_2)"/>
<polygon points="11.0,383.0 30.0,386.0 33.0,455.0 11.0,458.0" fill="#565656" filter="url(#b2_2)" opacity="0.70"/>
<path d="M18.0,390.0 C19.0,395.0 23.7,409.7 24.0,420.0 C24.3,430.3 20.7,446.7 20.0,452.0" fill="none" stroke="#787878" stroke-width="3.0" stroke-linecap="round" stroke-linejoin="round" filter="url(#b1_2)" opacity="0.80"/>
<polygon points="132.0,408.0 165.0,404.0 200.0,418.0 198.0,471.3 128.0,471.3" fill="#505050" filter="url(#b4_2)" opacity="0.60"/>
<path d="M140.0,412.0 C139.7,416.7 137.7,430.2 138.0,440.0 C138.3,449.8 141.3,465.8 142.0,471.0" fill="none" stroke="#696969" stroke-width="5.0" stroke-linecap="round" stroke-linejoin="round" filter="url(#b1_2)" opacity="0.80"/>
<path d="M185.0,445.0 C188.3,446.2 197.5,447.7 205.0,452.0 C212.5,456.3 225.8,467.8 230.0,471.0" fill="none" stroke="#6e6e6e" stroke-width="5.0" stroke-linecap="round" stroke-linejoin="round" filter="url(#b1_2)" opacity="0.80"/>
<polygon points="275.0,410.0 302.0,405.0 302.0,471.3 270.0,471.3" fill="#525252" filter="url(#b2_2)" opacity="0.80"/>
<path d="M285.0,415.0 C285.8,419.2 287.5,431.2 290.0,440.0 C292.5,448.8 298.3,463.3 300.0,468.0" fill="none" stroke="#787878" stroke-width="4.0" stroke-linecap="round" stroke-linejoin="round" filter="url(#b1_2)" opacity="0.80"/>
<ellipse cx="205.0" cy="404.0" rx="6.0" ry="4.0" fill="#ebebeb" transform="rotate(25.0 205.0 404.0)" filter="url(#b1_2)" opacity="0.90"/>
<ellipse cx="222.0" cy="412.0" rx="7.0" ry="3.5" fill="#ebebeb" transform="rotate(25.0 222.0 412.0)" filter="url(#b1_2)" opacity="0.90"/>
<ellipse cx="240.0" cy="420.0" rx="6.0" ry="4.0" fill="#ebebeb" transform="rotate(25.0 240.0 420.0)" filter="url(#b1_2)" opacity="0.90"/>
<ellipse cx="255.0" cy="410.0" rx="5.0" ry="3.0" fill="#ebebeb" transform="rotate(25.0 255.0 410.0)" filter="url(#b1_2)" opacity="0.90"/>
<ellipse cx="268.0" cy="425.0" rx="6.0" ry="4.0" fill="#ebebeb" transform="rotate(25.0 268.0 425.0)" filter="url(#b1_2)" opacity="0.90"/>
<ellipse cx="232.0" cy="432.0" rx="5.0" ry="4.0" fill="#ebebeb" transform="rotate(25.0 232.0 432.0)" filter="url(#b1_2)" opacity="0.90"/>
<ellipse cx="282.0" cy="412.0" rx="5.0" ry="6.0" fill="#ebebeb" transform="rotate(25.0 282.0 412.0)" filter="url(#b1_2)" opacity="0.90"/>
<ellipse cx="262.0" cy="440.0" rx="5.0" ry="3.0" fill="#ebebeb" transform="rotate(25.0 262.0 440.0)" filter="url(#b1_2)" opacity="0.90"/>
<ellipse cx="215.0" cy="428.0" rx="4.0" ry="5.0" fill="#ebebeb" transform="rotate(25.0 215.0 428.0)" filter="url(#b1_2)" opacity="0.90"/>
<ellipse cx="190.0" cy="410.0" rx="4.0" ry="3.0" fill="#ebebeb" transform="rotate(25.0 190.0 410.0)" filter="url(#b1_2)" opacity="0.90"/>
<rect x="11.0" y="457.0" width="291.0" height="15.0" fill="#464646" filter="url(#b2_2)" opacity="0.75"/>
<polygon points="11.0,451.0 19.0,455.0 13.0,461.0 11.0,461.0" fill="#fafafa"/>
<polygon points="297.0,471.3 302.0,464.0 302.0,471.3" fill="#fafafa"/>
<rect x="11.0" y="251.0" width="291.0" height="220.3" fill="#fff" filter="url(#t2g)" opacity="0.16"/>
<rect x="11.0" y="251.0" width="291.0" height="220.3" fill="#000" filter="url(#t2d)" opacity="0.16"/>
</g>
<g clip-path="url(#c3)">
<rect x="15.0" y="492.0" width="289.0" height="221.4" fill="url(#g3a)"/>
<ellipse cx="40.0" cy="505.0" rx="40.0" ry="14.0" fill="#606060" filter="url(#b8_3)" opacity="0.80"/>
<polygon points="105.0,492.0 155.0,492.0 155.0,530.0 135.0,538.0 118.0,520.0" fill="#5c5c5c" filter="url(#b4_3)" opacity="0.80"/>
<ellipse cx="95.0" cy="545.0" rx="45.0" ry="30.0" fill="#828282" filter="url(#b15_3)" opacity="0.70"/>
<ellipse cx="185.0" cy="575.0" rx="35.0" ry="18.0" fill="#7a7a7a" filter="url(#b8_3)" opacity="0.60"/>
<polygon points="262.0,540.0 304.0,540.0 304.0,616.0 285.0,612.0 265.0,590.0" fill="#545454" filter="url(#b4_3)" opacity="0.90"/>
<rect x="15.0" y="492.0" width="289.0" height="2.0" fill="#3c3c3c" filter="url(#b05_3)"/>
<path d="M153.0,528.5 C149.8,530.2 141.0,534.8 134.0,538.5 C127.0,542.2 118.8,546.3 111.0,550.5 C103.2,554.7 94.7,559.3 87.0,563.5 C79.3,567.7 72.2,572.0 65.0,575.5 C57.8,579.0 50.0,581.5 44.0,584.5 C38.0,587.5 31.5,592.0 29.0,593.5" fill="none" stroke="#a5a5a5" stroke-width="2.5" stroke-linecap="round" stroke-linejoin="round" filter="url(#b1_3)" opacity="0.80"/>
<path d="M154.0,531.0 C150.8,532.7 142.0,537.3 135.0,541.0 C128.0,544.7 119.8,548.8 112.0,553.0 C104.2,557.2 95.7,561.8 88.0,566.0 C80.3,570.2 73.2,574.5 66.0,578.0 C58.8,581.5 51.0,584.0 45.0,587.0 C39.0,590.0 32.5,594.5 30.0,596.0" fill="none" stroke="#3e3e3e" stroke-width="2.8" stroke-linecap="round" stroke-linejoin="round" filter="url(#b1_3)"/>
<path d="M156.0,534.0 C152.8,535.7 144.0,540.3 137.0,544.0 C130.0,547.7 121.8,551.8 114.0,556.0 C106.2,560.2 97.7,564.8 90.0,569.0 C82.3,573.2 75.2,577.5 68.0,581.0 C60.8,584.5 53.0,587.0 47.0,590.0 C41.0,593.0 34.5,597.5 32.0,599.0" fill="none" stroke="#646464" stroke-width="3.0" stroke-linecap="round" stroke-linejoin="round" filter="url(#b1_3)" opacity="0.70"/>
<path d="M110.0,494.0 C111.3,496.7 115.3,504.3 118.0,510.0 C120.7,515.7 123.5,523.7 126.0,528.0 C128.5,532.3 131.8,534.7 133.0,536.0" fill="none" stroke="#545454" stroke-width="2.2" stroke-linecap="round" stroke-linejoin="round" filter="url(#b1_3)"/>
<path d="M112.0,493.0 C113.5,495.8 118.2,504.3 121.0,510.0 C123.8,515.7 127.7,524.2 129.0,527.0" fill="none" stroke="#a0a0a0" stroke-width="1.5" stroke-linecap="round" stroke-linejoin="round" filter="url(#b1_3)" opacity="0.70"/>
<path d="M140.0,494.0 C141.0,495.7 144.3,500.5 146.0,504.0 C147.7,507.5 149.3,513.2 150.0,515.0" fill="none" stroke="#505050" stroke-width="2.5" stroke-linecap="round" stroke-linejoin="round" filter="url(#b1_3)"/>
<path d="M45.0,510.0 C47.5,510.3 54.5,511.8 60.0,512.0 C65.5,512.2 73.3,511.5 78.0,511.0 C82.7,510.5 86.3,509.3 88.0,509.0" fill="none" stroke="#4c4c4c" stroke-width="1.8" stroke-linecap="round" stroke-linejoin="round" filter="url(#b1_3)"/>
<path d="M45.0,508.5 C47.5,508.8 54.5,510.3 60.0,510.5 C65.5,510.7 75.0,509.7 78.0,509.5" fill="none" stroke="#a0a0a0" stroke-width="1.2" stroke-linecap="round" stroke-linejoin="round" filter="url(#b1_3)" opacity="0.70"/>
<path d="M144.0,553.0 C146.3,554.5 153.7,558.8 158.0,562.0 C162.3,565.2 166.3,568.7 170.0,572.0 C173.7,575.3 176.7,579.2 180.0,582.0 C183.3,584.8 187.0,587.3 190.0,589.0 C193.0,590.7 196.7,591.5 198.0,592.0" fill="none" stroke="#484848" stroke-width="2.4" stroke-linecap="round" stroke-linejoin="round" filter="url(#b1_3)"/>
<path d="M145.0,550.8 C147.3,552.3 154.7,556.6 159.0,559.8 C163.3,563.0 167.3,566.5 171.0,569.8 C174.7,573.1 177.7,577.0 181.0,579.8 C184.3,582.6 188.0,585.1 191.0,586.8 C194.0,588.5 197.7,589.3 199.0,589.8" fill="none" stroke="#a8a8a8" stroke-width="1.6" stroke-linecap="round" stroke-linejoin="round" filter="url(#b1_3)" opacity="0.80"/>
<path d="M163.0,598.0 C164.2,597.3 167.5,595.3 170.0,594.0 C172.5,592.7 175.3,591.0 178.0,590.0 C180.7,589.0 184.7,588.3 186.0,588.0" fill="none" stroke="#282828" stroke-width="3.0" stroke-linecap="round" stroke-linejoin="round" filter="url(#b05_3)"/>
<polygon points="156.0,603.0 164.0,598.0 170.0,600.0 166.0,610.0 158.0,613.0" fill="#ebebeb" filter="url(#b1_3)"/>
<path d="M205.0,545.0 C208.3,546.8 218.3,551.8 225.0,556.0 C231.7,560.2 241.7,567.7 245.0,570.0" fill="none" stroke="#969696" stroke-width="2.0" stroke-linecap="round" stroke-linejoin="round" filter="url(#b1_3)" opacity="0.70"/>
<path d="M262.0,545.0 C264.2,547.8 270.3,555.3 275.0,562.0 C279.7,568.7 285.8,578.7 290.0,585.0 C294.2,591.3 298.3,597.5 300.0,600.0" fill="none" stroke="#b4b4b4" stroke-width="2.2" stroke-linecap="round" stroke-linejoin="round" filter="url(#b1_3)" opacity="0.80"/>
<path d="M270.0,545.0 C272.5,548.3 280.0,557.8 285.0,565.0 C290.0,572.2 297.5,584.2 300.0,588.0" fill="none" stroke="#373737" stroke-width="3.0" stroke-linecap="round" stroke-linejoin="round" filter="url(#b1_3)" opacity="0.80"/>
<path d="M283.0,543.0 C285.0,545.8 291.5,554.7 295.0,560.0 C298.5,565.3 302.5,572.5 304.0,575.0" fill="none" stroke="#aaaaaa" stroke-width="1.8" stroke-linecap="round" stroke-linejoin="round" filter="url(#b1_3)" opacity="0.70"/>
<ellipse cx="61.0" cy="541.8" rx="5.5" ry="4.5" fill="#3c3c3c" stroke="#a5a5a5" stroke-width="1.6" filter="url(#b05_3)"/>
<ellipse cx="229.6" cy="585.0" rx="8.5" ry="7.5" fill="#303030" stroke="#969696" stroke-width="1.8" filter="url(#b05_3)"/>
<ellipse cx="209.0" cy="591.0" rx="4.0" ry="3.5" fill="#282828" stroke="#8c8c8c" stroke-width="1.2" filter="url(#b05_3)"/>
<ellipse cx="259.3" cy="559.4" rx="8.0" ry="7.0" fill="#808080" stroke="#505050" stroke-width="1.8" filter="url(#b1_3)"/>
<ellipse cx="291.8" cy="610.0" rx="9.0" ry="10.0" fill="#606060" stroke="#969696" stroke-width="2.0" filter="url(#b1_3)"/>
<ellipse cx="292.0" cy="618.0" rx="4.0" ry="4.0" fill="#282828" filter="url(#b1_3)"/>
<polygon points="15.0,587.0 30.0,596.0 44.5,601.0 70.0,598.0 96.0,594.0 116.0,600.0 135.5,606.0 158.0,604.0 175.0,600.0 195.0,604.0 217.4,612.5 247.8,621.6 275.0,620.0 304.0,615.5 304.0,713.4 15.0,713.4" fill="#3a3a3a"/>
<polygon points="15.0,587.0 30.0,596.0 44.5,601.0 70.0,598.0 96.0,594.0 116.0,600.0 135.5,606.0 158.0,604.0 175.0,600.0 195.0,604.0 217.4,612.5 247.8,621.6 275.0,620.0 304.0,615.5 304.0,713.4 15.0,713.4" fill="#808080" filter="url(#t3a)" opacity="0.90"/>
<g filter="url(#b1_3)"><g transform="translate(15,600)"><path d="M126,25L124,13L133,31L138,52L135,48Z" fill="#555555"/><path d="M76,47L81,33L86,25L83,38L77,54Z" fill="#515151"/><path d="M194,29L194,22L199,6L203,0L199,14Z" fill="#646464"/><path d="M206,68L197,52L193,40L200,50L206,59L212,73Z" fill="#555555"/><path d="M175,75L178,72L189,100L186,102Z" fill="#424242"/><path d="M6,31L17,2L25,-10L22,3L12,25Z" fill="#686868"/><path d="M205,15L204,26L193,52L186,61L190,46Z" fill="#353535"/><path d="M249,66L247,71L243,51L242,41L244,36L248,52Z" fill="#3a3a3a"/><path d="M140,27L139,22L153,-8L153,0Z" fill="#404040"/><path d="M124,77L125,73L128,82L130,103L128,101L125,87Z" fill="#777777"/><path d="M119,105L120,85L123,71L124,83L122,97Z" fill="#585858"/><path d="M37,53L33,56L39,32L42,29Z" fill="#353535"/><path d="M251,42L245,33L240,21L241,17L249,37Z" fill="#424242"/><path d="M211,47L215,55L222,70L226,92L223,89L216,73Z" fill="#585858"/><path d="M66,31L53,55L46,60L61,34Z" fill="#393939"/><path d="M65,42L64,19L66,-4L69,11Z" fill="#666666"/><path d="M186,57L196,87L200,112L192,95Z" fill="#343434"/><path d="M130,20L131,16L146,41L150,57Z" fill="#393939"/><path d="M23,80L32,57L27,79L20,93Z" fill="#3f3f3f"/><path d="M213,84L214,74L225,110L221,110Z" fill="#4e4e4e"/><path d="M121,28L131,52L132,60L120,37L116,21Z" fill="#424242"/><path d="M208,68L217,45L224,34L218,59L207,80Z" fill="#3a3a3a"/><path d="M45,65L44,49L46,31L47,42L46,57Z" fill="#373737"/><path d="M64,36L66,29L71,47L73,69L68,59Z" fill="#434343"/><path d="M71,96L70,109L68,113L67,102L68,89L69,83Z" fill="#595959"/><path d="M277,39L273,39L268,10L270,7Z" fill="#434343"/><path d="M101,66L104,92L99,83L96,50Z" fill="#595959"/><path d="M160,72L164,58L166,65L158,95L155,95Z" fill="#414141"/><path d="M20,109L29,80L34,75L31,92L21,116Z" fill="#545454"/><path d="M123,50L120,49L108,21L107,12L115,25Z" fill="#333333"/><path d="M273,73L270,68L273,49L277,31L278,38L276,61Z" fill="#414141"/><path d="M72,106L71,81L78,109L78,129Z" fill="#4e4e4e"/><path d="M256,59L249,42L246,27L247,22L253,36L256,50Z" fill="#3c3c3c"/><path d="M202,27L203,18L210,37L213,54L209,53Z" fill="#6a6a6a"/><path d="M8,44L6,67L4,64L6,40Z" fill="#4b4b4b"/><path d="M146,34L155,20L151,31L138,55Z" fill="#3e3e3e"/><path d="M79,118L65,93L62,79L67,83L81,116Z" fill="#4b4b4b"/><path d="M287,88L282,69L283,60L287,77Z" fill="#606060"/><path d="M283,93L274,73L272,60L278,69L283,87Z" fill="#606060"/><path d="M147,36L144,16L142,-4L148,8L151,29L151,47Z" fill="#404040"/><path d="M276,20L278,2L280,10L281,36L279,40Z" fill="#393939"/><path d="M9,31L13,29L10,45L2,67L1,59Z" fill="#4c4c4c"/><path d="M72,20L79,43L79,55L73,42L70,23Z" fill="#474747"/><path d="M275,75L281,61L282,67L273,93L271,92Z" fill="#474747"/><path d="M84,85L79,79L72,65L72,60L80,73Z" fill="#3d3d3d"/><path d="M129,-2L133,-8L128,11L117,32L120,19Z" fill="#5d5d5d"/><path d="M107,53L105,66L103,56L104,36L108,32Z" fill="#555555"/><path d="M232,123L228,117L216,90L216,81L228,108Z" fill="#333333"/><path d="M145,71L143,78L142,64L144,50L145,48L146,56Z" fill="#4a4a4a"/><path d="M122,87L124,91L125,108L122,118L120,109Z" fill="#8a8a8a"/><path d="M66,73L79,96L84,110L76,100L66,79Z" fill="#424242"/><path d="M192,120L181,105L166,77L169,77L175,85L187,104Z" fill="#4e4e4e"/><path d="M37,90L45,67L48,68L43,88L35,106Z" fill="#4c4c4c"/><path d="M110,111L110,98L112,100L114,115L112,125Z" fill="#3c3c3c"/><path d="M258,43L256,14L258,12L262,44Z" fill="#3c3c3c"/><path d="M199,52L205,71L207,90L207,94L202,82L200,62Z" fill="#828282"/><path d="M56,71L56,84L55,100L53,108L52,102L53,81Z" fill="#636363"/><path d="M233,117L235,103L239,90L240,90L239,101L235,118Z" fill="#414141"/><path d="M148,118L151,129L135,106L129,93Z" fill="#5c5c5c"/><path d="M277,78L280,66L289,47L297,40L288,61Z" fill="#535353"/><path d="M166,24L170,20L164,35L156,46L155,44Z" fill="#666666"/><path d="M232,108L231,91L232,76L234,87Z" fill="#818181"/><path d="M7,92L3,70L6,66L9,78L9,96Z" fill="#3a3a3a"/><path d="M150,105L147,95L155,106L162,123L162,127Z" fill="#373737"/><path d="M178,50L172,62L161,78L162,73L173,54Z" fill="#373737"/><path d="M253,59L256,74L254,80L250,62L250,48Z" fill="#404040"/><path d="M124,108L131,81L139,68L140,70L130,98Z" fill="#5f5f5f"/><path d="M191,86L195,84L190,95L180,109L180,104Z" fill="#525252"/><path d="M89,97L83,69L84,59L90,79L93,99Z" fill="#606060"/><path d="M283,44L276,56L275,55L276,50L283,36L288,31Z" fill="#4d4d4d"/><path d="M116,23L125,42L128,50L123,46L113,27L111,19Z" fill="#484848"/><path d="M245,103L247,113L243,105L239,88L239,84L241,86Z" fill="#535353"/><path d="M68,100L78,80L85,70L85,75L77,91Z" fill="#6a6a6a"/><path d="M137,66L139,71L137,96L132,116L132,97Z" fill="#818181"/><path d="M103,4L104,15L104,42L101,27L99,8Z" fill="#717171"/><path d="M89,72L87,82L84,59L86,55Z" fill="#323232"/><path d="M51,45L58,60L61,75L57,71L50,54L45,35Z" fill="#454545"/><path d="M24,83L16,50L25,63L31,91Z" fill="#656565"/><path d="M183,84L184,70L190,47L195,33L194,46L190,69Z" fill="#484848"/><path d="M264,41L262,51L256,67L252,73L253,66L259,49Z" fill="#383838"/><path d="M124,50L120,29L120,9L121,6L124,18L125,46Z" fill="#393939"/><path d="M182,-1L175,30L172,33L176,9L181,-6Z" fill="#4c4c4c"/><path d="M197,79L200,113L196,103L195,81Z" fill="#646464"/><path d="M131,56L134,78L133,86L128,54Z" fill="#575757"/><path d="M96,32L91,43L92,24L97,11Z" fill="#474747"/><path d="M16,55L25,36L25,44L16,65L12,66Z" fill="#848484"/><path d="M112,104L112,74L114,64L116,78L114,101Z" fill="#3b3b3b"/><path d="M236,69L229,101L226,104L227,90L233,61L236,54Z" fill="#343434"/><path d="M27,28L23,23L16,10L12,-2L19,10Z" fill="#454545"/><path d="M222,88L224,64L228,47L228,61L227,76L224,89Z" fill="#8a8a8a"/><path d="M273,87L265,77L254,58L252,52L263,65L271,81Z" fill="#464646"/><path d="M215,14L220,24L224,48L220,42Z" fill="#696969"/><path d="M174,81L171,97L164,121L161,123L162,113L169,90Z" fill="#5d5d5d"/><path d="M181,123L183,102L187,92L188,103L184,121Z" fill="#5c5c5c"/><path d="M249,60L251,56L251,65L247,80L243,91L243,80Z" fill="#636363"/><path d="M172,77L166,86L173,63L178,56Z" fill="#3e3e3e"/><path d="M78,66L71,84L71,73L73,60L82,41L82,50Z" fill="#3a3a3a"/><path d="M91,52L99,80L92,71L81,41L83,33Z" fill="#747474"/><path d="M71,63L66,54L59,29L59,19L66,37Z" fill="#4a4a4a"/><path d="M25,62L15,46L12,37L15,39L21,49L25,61Z" fill="#7a7a7a"/><path d="M11,73L20,95L25,116L16,101L9,78Z" fill="#3a3a3a"/><path d="M194,15L192,5L196,12L206,35L203,33Z" fill="#6f6f6f"/><path d="M220,29L234,50L242,66L236,62L221,38Z" fill="#727272"/><path d="M105,50L119,81L122,98L113,82L106,61Z" fill="#484848"/><path d="M157,67L159,83L158,101L156,109L153,85L155,68Z" fill="#393939"/><path d="M280,97L274,84L274,80L282,92L290,107L289,111Z" fill="#595959"/><path d="M82,29L83,17L87,31L89,57L88,64Z" fill="#3b3b3b"/><path d="M186,8L182,33L176,40L179,22L184,7Z" fill="#4a4a4a"/><path d="M102,86L105,73L106,82L104,98L100,106Z" fill="#3c3c3c"/><path d="M175,48L170,54L175,41L181,30L183,30L182,35Z" fill="#5c5c5c"/><path d="M43,81L35,59L40,66L50,92Z" fill="#626262"/><path d="M161,84L161,103L159,120L156,125L157,105Z" fill="#474747"/><path d="M146,80L152,96L152,102L140,77L135,63L140,68Z" fill="#353535"/><path d="M208,36L214,19L220,10L219,18L212,32Z" fill="#444444"/><path d="M54,68L55,90L53,97L52,90L52,73Z" fill="#353535"/><path d="M47,22L60,4L59,10L49,28L40,35Z" fill="#3d3d3d"/><path d="M175,90L161,115L160,113L166,97L180,73L183,74Z" fill="#717171"/><path d="M186,78L185,69L192,83L196,103L194,102Z" fill="#464646"/><path d="M155,63L148,47L144,33L143,27L149,38L153,52Z" fill="#474747"/><path d="M259,40L256,19L256,9L262,29L264,48Z" fill="#393939"/><path d="M183,88L179,115L177,116L178,87L182,70Z" fill="#5d5d5d"/><path d="M40,64L45,61L34,80L22,96L28,80Z" fill="#777777"/><path d="M76,114L71,131L69,130L70,120L75,98L78,93Z" fill="#5c5c5c"/><path d="M14,48L15,42L24,63L29,80L21,69Z" fill="#343434"/><path d="M231,39L235,35L225,59L223,58Z" fill="#5c5c5c"/><path d="M37,19L38,15L42,24L45,41L43,40Z" fill="#363636"/><path d="M175,76L173,87L156,118L155,113L166,88Z" fill="#666666"/><path d="M169,63L165,87L163,87L166,68Z" fill="#545454"/><path d="M6,45L3,18L3,3L8,18L8,43Z" fill="#373737"/><path d="M240,74L239,78L235,61L233,47L234,47L238,61Z" fill="#6a6a6a"/><path d="M40,24L36,-2L39,0L43,25Z" fill="#6b6b6b"/><path d="M130,74L134,40L138,37L135,65Z" fill="#4c4c4c"/><path d="M284,90L287,81L289,80L288,89L282,105L280,105Z" fill="#5d5d5d"/><path d="M269,101L255,73L259,74L280,112Z" fill="#3c3c3c"/><path d="M255,107L253,92L252,80L255,83L258,109Z" fill="#767676"/><path d="M51,34L52,14L58,-12L57,10Z" fill="#737373"/><path d="M19,43L19,59L13,83L13,71Z" fill="#464646"/><path d="M34,97L36,77L39,88L42,123L37,113Z" fill="#5c5c5c"/><path d="M130,39L115,10L115,5L128,27Z" fill="#4e4e4e"/><path d="M231,129L232,123L248,98L246,106Z" fill="#4e4e4e"/><path d="M87,121L87,115L95,85L98,84L94,104Z" fill="#484848"/><path d="M36,61L52,85L57,98L49,90L38,70Z" fill="#3f3f3f"/><path d="M174,79L181,68L178,77L170,93L165,96Z" fill="#707070"/><path d="M243,94L239,90L245,59L249,59Z" fill="#505050"/><path d="M73,-1L62,18L56,25L64,9Z" fill="#4c4c4c"/><path d="M83,18L94,37L98,49L90,38L83,22Z" fill="#606060"/><path d="M200,79L200,64L204,72L209,110L206,110Z" fill="#5c5c5c"/><path d="M195,95L200,110L205,130L197,114Z" fill="#4d4d4d"/><path d="M93,77L92,70L96,74L100,88L103,102L97,92Z" fill="#6c6c6c"/><path d="M285,118L285,93L288,71L291,77L289,100Z" fill="#424242"/><path d="M232,38L226,43L229,32L241,9L245,7Z" fill="#353535"/><path d="M21,106L25,97L25,107L19,126L15,130Z" fill="#595959"/><path d="M227,20L225,11L227,13L231,21L235,32L234,34Z" fill="#494949"/><path d="M72,72L75,67L70,86L64,102L61,104L64,89Z" fill="#5e5e5e"/><path d="M11,76L7,66L4,49L5,50L11,69Z" fill="#525252"/><path d="M155,89L150,62L152,50L158,83Z" fill="#525252"/><path d="M143,115L137,87L140,85L143,102Z" fill="#878787"/><path d="M257,88L264,105L269,122L263,113L259,103L256,92Z" fill="#606060"/><path d="M96,50L98,43L106,29L106,31L100,46Z" fill="#343434"/><path d="M125,19L134,35L143,53L144,59L141,61L129,35Z" fill="#474747"/><path d="M221,105L215,90L213,60L216,60L220,83Z" fill="#5d5d5d"/><path d="M267,76L268,80L260,102L257,101Z" fill="#6a6a6a"/><path d="M79,41L74,22L73,11L77,20L81,40Z" fill="#606060"/><path d="M111,75L106,71L97,52L93,38L100,46L108,63Z" fill="#8b8b8b"/><path d="M57,99L56,77L59,57L61,56L62,75L61,97Z" fill="#464646"/><path d="M125,82L124,80L134,61L137,58L139,60L131,74Z" fill="#474747"/><path d="M64,95L61,111L55,127L52,125L60,99Z" fill="#474747"/><path d="M209,126L207,122L207,102L210,92L212,96L211,114Z" fill="#5e5e5e"/><path d="M144,113L144,117L137,99L134,85L137,87L141,99Z" fill="#535353"/><path d="M108,32L100,5L100,-5L107,20Z" fill="#434343"/><path d="M265,23L270,29L279,51L281,59L277,55L268,33Z" fill="#343434"/><path d="M98,43L104,31L102,44L93,65Z" fill="#545454"/><path d="M247,85L249,100L248,107L244,93L240,72L241,61Z" fill="#4c4c4c"/><path d="M83,48L103,82L98,78L83,54Z" fill="#575757"/><path d="M212,20L205,36L193,55L186,63L193,45L205,26Z" fill="#3b3b3b"/><path d="M112,88L104,120L97,130L98,120L110,87Z" fill="#414141"/><path d="M63,7L56,22L46,40L39,50L43,37L60,6Z" fill="#575757"/><path d="M90,40L81,67L71,80L83,47Z" fill="#333333"/><path d="M207,26L197,-3L197,-11L211,22L214,36Z" fill="#343434"/><path d="M48,33L63,5L64,11L49,40Z" fill="#666666"/><path d="M198,109L193,88L192,71L199,97Z" fill="#464646"/><path d="M198,41L188,24L181,7L184,4L190,17Z" fill="#636363"/><path d="M29,8L37,24L41,42L30,18Z" fill="#404040"/><path d="M0,26L-10,37L-3,22L5,9L10,6Z" fill="#545454"/><path d="M73,89L71,90L69,76L69,60L71,67Z" fill="#717171"/><path d="M113,72L114,82L108,65L107,54Z" fill="#464646"/><path d="M226,74L225,79L215,56L213,42L218,51Z" fill="#424242"/><path d="M11,48L8,63L7,31L11,23Z" fill="#898989"/><path d="M105,17L112,41L110,38L101,20L99,6Z" fill="#6a6a6a"/><path d="M201,119L201,96L203,85L204,83L206,100L203,124Z" fill="#3c3c3c"/><path d="M29,81L25,95L24,93L25,73L28,62L30,63Z" fill="#5e5e5e"/><path d="M262,118L252,102L249,93L259,108L265,118Z" fill="#4d4d4d"/><path d="M9,0L13,28L10,44L7,10Z" fill="#373737"/><path d="M82,13L88,27L80,16L73,2L77,4Z" fill="#5d5d5d"/><path d="M229,105L220,84L220,68L227,84Z" fill="#363636"/><path d="M27,33L32,59L26,49L20,19Z" fill="#5c5c5c"/><path d="M208,90L212,92L224,120L226,134L217,115Z" fill="#3a3a3a"/><path d="M47,112L46,92L50,93L50,115Z" fill="#424242"/><path d="M68,35L65,25L76,43L80,56Z" fill="#353535"/><path d="M187,74L181,55L185,59L191,75L194,88Z" fill="#3b3b3b"/><path d="M179,64L180,89L174,67L174,40Z" fill="#3c3c3c"/><path d="M6,68L10,59L12,59L6,75L0,87L3,77Z" fill="#444444"/><path d="M148,30L158,56L159,71L150,42Z" fill="#383838"/><path d="M62,69L66,62L66,75L59,96L59,86Z" fill="#3d3d3d"/><path d="M116,20L124,9L110,46L106,48Z" fill="#5d5d5d"/><path d="M158,24L161,10L164,16L162,39L158,51L156,49Z" fill="#3a3a3a"/><path d="M67,55L64,74L61,67L65,45Z" fill="#454545"/><path d="M177,12L172,25L166,34L171,17L174,8L180,1Z" fill="#4e4e4e"/><path d="M155,98L157,112L152,102L145,76L148,75Z" fill="#4b4b4b"/><path d="M228,43L223,63L217,77L222,54Z" fill="#343434"/><path d="M150,-3L153,-3L146,18L136,34L140,20Z" fill="#626262"/><path d="M242,60L250,47L247,57L238,77L237,73Z" fill="#676767"/><path d="M105,91L112,106L114,114L107,102L102,89Z" fill="#3a3a3a"/><path d="M185,54L196,37L193,48L181,66Z" fill="#4e4e4e"/><path d="M174,28L178,17L179,23L172,47L170,48Z" fill="#323232"/><path d="M126,73L133,65L127,80L116,99L116,94Z" fill="#4a4a4a"/><path d="M29,0L30,9L26,34L22,44L22,27Z" fill="#6a6a6a"/><path d="M240,63L243,64L246,96L243,96Z" fill="#363636"/><path d="M35,94L29,111L21,128L22,120L30,100L35,90Z" fill="#676767"/><path d="M103,76L112,92L116,106L107,89Z" fill="#444444"/><path d="M39,24L41,39L41,49L38,40L37,19Z" fill="#484848"/><path d="M268,113L283,87L288,86L273,111Z" fill="#545454"/><path d="M52,112L47,120L51,98L59,84Z" fill="#444444"/><path d="M49,102L50,98L56,111L59,126L58,127Z" fill="#888888"/><path d="M46,58L48,78L46,84L43,72L44,55Z" fill="#3d3d3d"/><path d="M205,52L208,48L208,57L205,78L204,75Z" fill="#343434"/><path d="M88,103L86,84L89,85L91,105Z" fill="#363636"/><path d="M111,92L113,85L115,100L114,124L111,115Z" fill="#505050"/><path d="M208,77L210,75L212,82L215,101L214,108L212,102Z" fill="#626262"/><path d="M30,60L26,49L35,60L47,84L42,81Z" fill="#848484"/><path d="M230,62L234,60L222,96L222,87Z" fill="#424242"/><path d="M168,48L164,55L168,38L172,33Z" fill="#4c4c4c"/><path d="M173,56L178,44L190,27L188,35L177,53Z" fill="#5a5a5a"/><path d="M93,29L82,10L79,-1L91,18L99,35Z" fill="#555555"/><path d="M107,66L105,59L105,35L107,38L109,52Z" fill="#626262"/><path d="M262,20L268,24L279,44L278,48L269,33Z" fill="#393939"/><path d="M69,37L66,53L54,80L53,72L58,58Z" fill="#494949"/><path d="M243,33L244,24L248,37L249,59L246,57Z" fill="#484848"/><path d="M10,-2L-4,32L-5,27L5,0Z" fill="#4c4c4c"/><path d="M125,74L120,83L122,75L127,58L133,47L131,56Z" fill="#4a4a4a"/><path d="M171,31L165,44L161,47L166,29L173,16Z" fill="#414141"/><path d="M135,48L126,25M77,54L76,47M199,6L203,0M212,73L206,68M189,100L186,102M25,-10L22,3M186,61L190,46M248,52L249,66M140,27L139,22M125,73L128,82M123,71L124,83M37,53L33,56M240,21L241,17M222,70L226,92M66,31L53,55M64,19L66,-4M196,87L200,112M146,41L150,57M23,80L32,57M221,110L213,84M132,60L120,37M207,80L208,68M46,57L45,65M68,59L64,36M68,113L67,102M270,7L277,39M101,66L104,92M155,95L160,72M34,75L31,92M108,21L107,12M278,38L276,61M71,81L78,109M247,22L253,36M202,27L203,18M4,64L6,40M146,34L155,20M79,118L65,93M287,88L282,69M283,87L283,93M147,36L144,16M280,10L281,36M13,29L10,45M73,42L70,23M281,61L282,67M72,60L80,73M128,11L117,32M108,32L107,53M228,108L232,123M145,48L146,56M120,109L122,87M84,110L76,100M192,120L181,105M48,68L43,88M110,111L110,98M256,14L258,12M207,94L202,82M56,71L56,84M235,103L239,90M151,129L135,106M280,66L289,47M155,44L166,24M232,76L234,87M7,92L3,70M155,106L162,123M173,54L178,50M256,74L254,80M131,81L139,68M180,109L180,104M83,69L84,59M288,31L283,44M125,42L128,50M243,105L239,88M78,80L85,70M139,71L137,96M99,8L103,4M86,55L89,72M61,75L57,71M16,50L25,63M190,47L195,33M253,66L259,49M120,29L120,9M175,30L172,33M195,81L197,79M134,78L133,86M92,24L97,11M16,55L25,36M116,78L114,101M227,90L233,61M19,10L27,28M222,88L224,64M265,77L254,58M224,48L220,42M164,121L161,123M188,103L184,121M251,65L247,80M173,63L178,56M73,60L82,41M99,80L92,71M66,37L71,63M25,62L15,46M20,95L25,116M192,5L196,12M220,29L234,50M122,98L113,82M155,68L157,67M282,92L290,107M82,29L83,17M186,8L182,33M104,98L100,106M175,41L181,30M43,81L35,59M161,84L161,103M152,102L140,77M214,19L220,10M53,97L52,90M60,4L59,10M180,73L183,74M192,83L196,103M153,52L155,63M259,40L256,19M179,115L177,116M28,80L40,64M78,93L76,114M24,63L29,80M235,35L225,59M42,24L45,41M155,113L166,88M163,87L166,68M8,43L6,45M238,61L240,74M40,24L36,-2M130,74L134,40M280,105L284,90M259,74L280,112M258,109L255,107M57,10L51,34M19,43L19,59M42,123L37,113M130,39L115,10M231,129L232,123M98,84L94,104M38,70L36,61M181,68L178,77M239,90L245,59M64,9L73,-1M90,38L83,22M200,64L204,72M197,114L195,95M93,77L92,70M285,118L285,93M232,38L226,43M19,126L15,130M235,32L234,34M75,67L70,86M11,69L11,76M152,50L158,83M140,85L143,102M257,88L264,105M98,43L106,29M125,19L134,35M220,83L221,105M257,101L267,76M77,20L81,40M106,71L97,52M59,57L61,56M124,80L134,61M61,111L55,127M212,96L211,114M144,113L144,117M100,5L100,-5M281,59L277,55M98,43L104,31M240,72L241,61M103,82L98,78M205,36L193,55M98,120L110,87M63,7L56,22M83,47L90,40M197,-11L211,22M63,5L64,11M198,109L193,88M190,17L198,41M37,24L41,42M-10,37L-3,22M71,90L69,76M114,82L108,65M225,79L215,56M8,63L7,31M99,6L105,17M206,100L203,124M24,93L25,73M259,108L265,118M9,0L13,28M73,2L77,4M229,105L220,84M32,59L26,49M217,115L208,90M46,92L50,93M68,35L65,25M187,74L181,55M179,64L180,89M6,75L0,87M159,71L150,42M66,62L66,75M116,20L124,9M156,49L158,24M61,67L65,45M171,17L174,8M148,75L155,98M228,43L223,63M153,-3L146,18M250,47L247,57M102,89L105,91M193,48L181,66M178,17L179,23M133,65L127,80M22,44L22,27M243,96L240,63M21,128L22,120M103,76L112,92M41,49L38,40M288,86L273,111M51,98L59,84M49,102L50,98M48,78L46,84M204,75L205,52M91,105L88,103M111,115L111,92M210,75L212,82M30,60L26,49M222,87L230,62M172,33L168,48M188,35L177,53M91,18L99,35M105,35L107,38M278,48L269,33M58,58L69,37M246,57L243,33M10,-2L-4,32M127,58L133,47M171,31L165,44" fill="none" stroke="#8c8c8c" stroke-width="0.9" opacity="0.8"/></g></g>
<g filter="url(#b1_3)"><g transform="translate(15,610)"><path d="M85,97L83,91L84,86L86,83L87,91L87,95Z" fill="#252525"/><path d="M128,54L122,62L118,61L122,55L129,50Z" fill="#313131"/><path d="M162,111L155,99L156,87L163,98Z" fill="#282828"/><path d="M116,100L110,97L107,89L110,83L116,93Z" fill="#292929"/><path d="M239,40L235,50L228,58L224,52L235,38Z" fill="#292929"/><path d="M155,79L157,77L162,81L165,93L161,91Z" fill="#262626"/><path d="M74,82L77,74L79,75L80,82L77,89L74,88Z" fill="#333333"/><path d="M173,73L176,63L181,59L181,69Z" fill="#333333"/><path d="M100,83L102,90L98,97L96,90Z" fill="#313131"/><path d="M202,81L205,79L209,89L209,94L203,89Z" fill="#2e2e2e"/><path d="M19,25L18,15L23,6L26,16Z" fill="#2b2b2b"/><path d="M257,83L248,74L245,69L251,69L257,77Z" fill="#2c2c2c"/><path d="M23,17L25,28L19,36L14,40L17,25Z" fill="#2f2f2f"/><path d="M89,18L91,14L101,27L103,36L92,28Z" fill="#2e2e2e"/><path d="M232,37L228,32L229,24L234,20L235,29Z" fill="#2b2b2b"/><path d="M220,78L223,77L228,83L229,94L224,90Z" fill="#333333"/><path d="M205,50L201,44L200,30L204,31L210,47L209,53Z" fill="#2b2b2b"/><path d="M22,28L25,24L26,30L23,37L21,37Z" fill="#262626"/><path d="M256,26L257,32L246,45L246,38Z" fill="#252525"/><path d="M53,53L50,47L51,39L53,31L58,33L57,44Z" fill="#323232"/><path d="M121,9L121,14L112,22L112,16L116,10Z" fill="#323232"/><path d="M280,30L279,42L275,43L275,36L278,27Z" fill="#272727"/><path d="M282,62L278,62L275,56L275,43L278,46L282,54Z" fill="#323232"/><path d="M189,18L191,12L194,12L196,20L193,30L190,27Z" fill="#333333"/><path d="M283,34L285,40L284,46L280,39L280,34Z" fill="#252525"/><path d="M239,109L247,97L251,100L245,109Z" fill="#272727"/><path d="M207,52L212,50L215,55L216,68L211,68Z" fill="#242424"/><path d="M167,74L173,69L181,82L181,91L173,84Z" fill="#313131"/><path d="M146,42L145,47L141,42L139,36L141,34L144,37Z" fill="#333333"/><path d="M69,25L68,19L73,9L79,8L76,17Z" fill="#242424"/><path d="M263,34L255,41L254,37L259,28L266,23L269,25Z" fill="#242424"/><path d="M240,65L243,70L242,79L238,73Z" fill="#272727"/><path d="M142,73L135,87L133,84L138,72Z" fill="#282828"/><path d="M75,102L75,113L71,108L69,97L73,95Z" fill="#333333"/><path d="M76,85L79,90L79,96L76,97L74,88Z" fill="#333333"/><path d="M146,66L145,58L151,49L154,54L153,64L148,74Z" fill="#2b2b2b"/><path d="M17,34L20,38L21,48L16,54L13,48Z" fill="#323232"/><path d="M48,33L44,38L42,36L43,28L45,22L49,24Z" fill="#252525"/><path d="M273,92L278,103L277,113L270,100Z" fill="#313131"/><path d="M6,11L6,25L1,29L-2,23L2,9Z" fill="#333333"/><path d="M62,35L65,38L64,46L61,48L60,40Z" fill="#303030"/><path d="M259,95L259,87L264,95L262,101Z" fill="#2d2d2d"/><path d="M102,110L95,107L90,93L97,95Z" fill="#222222"/><path d="M255,34L259,39L258,50L252,58L249,51L251,41Z" fill="#262626"/><path d="M7,39L4,49L0,37L2,28L6,28Z" fill="#2c2c2c"/><path d="M282,102L270,93L268,83L280,92Z" fill="#303030"/><path d="M89,109L89,103L93,93L96,96L92,107Z" fill="#313131"/><path d="M225,32L227,36L223,52L220,54L218,43Z" fill="#2f2f2f"/><path d="M174,90L177,101L174,108L171,100Z" fill="#2e2e2e"/><path d="M39,38L41,46L36,55L34,46Z" fill="#333333"/><path d="M9,10L11,23L9,30L2,19L4,10Z" fill="#323232"/><path d="M152,76L147,62L147,58L153,62L155,74Z" fill="#242424"/><path d="M171,66L166,66L173,54L177,56Z" fill="#242424"/><path d="M273,24L274,30L270,41L266,38L268,30Z" fill="#232323"/><path d="M90,21L88,16L90,15L95,20L96,26Z" fill="#333333"/><path d="M126,61L130,48L137,44L135,54Z" fill="#2b2b2b"/><path d="M210,73L207,64L207,61L211,64L216,72L213,75Z" fill="#242424"/><path d="M184,14L186,21L183,31L177,32L177,24Z" fill="#292929"/><path d="M43,39L46,40L47,47L46,53L43,53L41,50Z" fill="#2c2c2c"/><path d="M264,67L266,62L270,66L273,75L271,76L266,73Z" fill="#2e2e2e"/><path d="M251,72L254,82L250,99L245,97L245,83Z" fill="#272727"/><path d="M279,96L275,95L275,87L278,83L280,89Z" fill="#252525"/><path d="M146,19L139,31L134,31L139,22Z" fill="#2a2a2a"/><path d="M60,50L56,51L55,47L60,40L64,39L64,45Z" fill="#292929"/><path d="M281,71L284,79L285,88L279,84L276,73Z" fill="#2e2e2e"/><path d="M12,88L6,76L8,68L13,74L16,90Z" fill="#272727"/><path d="M118,64L119,72L114,67L112,61Z" fill="#2a2a2a"/><path d="M39,21L43,35L43,40L36,38L34,27L34,19Z" fill="#242424"/><path d="M81,64L74,69L77,59L85,52Z" fill="#343434"/><path d="M126,66L127,70L124,77L119,78L121,70Z" fill="#2b2b2b"/><path d="M286,22L282,20L283,13L289,5L290,12Z" fill="#242424"/><path d="M66,40L60,37L60,19L63,17L69,30Z" fill="#242424"/><path d="M205,90L208,84L213,92L216,104L209,101Z" fill="#323232"/><path d="M202,59L199,66L196,70L193,69L196,59L202,52Z" fill="#2c2c2c"/><path d="M153,16L153,9L155,8L165,17L166,26L161,26Z" fill="#323232"/><path d="M2,75L5,75L8,84L5,88L2,80Z" fill="#232323"/><path d="M64,100L62,93L63,88L66,92L68,97L67,103Z" fill="#2d2d2d"/><path d="M55,60L59,70L53,68L50,61Z" fill="#252525"/><path d="M268,84L265,79L273,70L279,68L278,74Z" fill="#282828"/><path d="M226,43L221,48L219,42L225,27L230,31Z" fill="#2b2b2b"/><path d="M65,37L68,29L73,27L70,38L66,44Z" fill="#2c2c2c"/><path d="M35,80L31,79L33,67L38,61L43,60L41,71Z" fill="#272727"/><path d="M196,37L202,45L202,51L199,54L195,47L195,40Z" fill="#282828"/><path d="M185,49L190,47L193,60L188,58Z" fill="#333333"/><path d="M177,52L172,42L175,33L181,42L181,52Z" fill="#303030"/><path d="M29,63L32,51L35,52L34,60L31,66Z" fill="#2e2e2e"/><path d="M131,10L137,10L131,22L127,21Z" fill="#292929"/></g></g>
<polygon points="44.0,602.0 96.0,596.0 135.0,608.0 150.0,616.0 128.0,630.0 96.0,626.0 60.0,622.0" fill="#5c5c5c" filter="url(#b2_3)" opacity="0.90"/>
<polygon points="150.0,612.0 175.0,602.0 217.0,614.0 240.0,624.0 220.0,632.0 180.0,628.0" fill="#565656" filter="url(#b2_3)" opacity="0.85"/>
<path d="M15.0,587.0 C17.5,588.5 25.1,593.7 30.0,596.0 C34.9,598.3 37.8,600.7 44.5,601.0 C51.2,601.3 61.4,599.2 70.0,598.0 C78.6,596.8 88.3,593.7 96.0,594.0 C103.7,594.3 109.4,598.0 116.0,600.0 C122.6,602.0 128.5,605.3 135.5,606.0 C142.5,606.7 151.4,605.0 158.0,604.0 C164.6,603.0 168.8,600.0 175.0,600.0 C181.2,600.0 187.9,601.9 195.0,604.0 C202.1,606.1 208.6,609.6 217.4,612.5 C226.2,615.4 238.2,620.4 247.8,621.6 C257.4,622.9 265.6,621.0 275.0,620.0 C284.4,619.0 299.2,616.2 304.0,615.5" fill="none" stroke="#2e2e2e" stroke-width="2.5" stroke-linecap="round" stroke-linejoin="round" filter="url(#b1_3)" opacity="0.80"/>
<path d="M15.0,650.0 C17.2,645.8 23.8,632.5 28.0,625.0 C32.2,617.5 36.3,610.2 40.0,605.0 C43.7,599.8 48.3,595.8 50.0,594.0" fill="none" stroke="#878787" stroke-width="8.0" stroke-linecap="round" stroke-linejoin="round" filter="url(#b1_3)"/>
<path d="M12.0,646.0 C14.2,642.0 20.8,629.3 25.0,622.0 C29.2,614.7 35.0,605.3 37.0,602.0" fill="none" stroke="#c8c8c8" stroke-width="1.6" stroke-linecap="round" stroke-linejoin="round" filter="url(#b1_3)" opacity="0.80"/>
<polygon points="15.0,590.0 30.0,596.0 40.0,604.0 30.0,616.0 15.0,622.0" fill="#707070" filter="url(#b1_3)"/>
<ellipse cx="40.0" cy="615.0" rx="4.0" ry="5.0" fill="#d7d7d7" filter="url(#b1_3)"/>
<ellipse cx="22.0" cy="600.0" rx="3.0" ry="2.0" fill="#d2d2d2" filter="url(#b1_3)"/>
<path d="M88.0,585.0 C87.7,590.8 86.7,607.3 86.0,620.0 C85.3,632.7 84.3,654.2 84.0,661.0" fill="none" stroke="#6e6e6e" stroke-width="7.0" stroke-linecap="round" stroke-linejoin="round" filter="url(#b1_3)"/><path d="M86.5,585.0 C86.1,590.8 85.1,607.3 84.5,620.0 C83.8,632.7 82.8,654.2 82.5,661.0" fill="none" stroke="#969696" stroke-width="2.1" stroke-linecap="round" stroke-linejoin="round" filter="url(#b1_3)" opacity="0.70"/>
<path d="M132.0,631.0 C131.8,637.5 130.7,656.3 131.0,670.0 C131.3,683.7 133.5,705.8 134.0,713.0" fill="none" stroke="#696969" stroke-width="7.0" stroke-linecap="round" stroke-linejoin="round" filter="url(#b1_3)"/><path d="M130.5,631.0 C130.3,637.5 129.1,656.3 129.5,670.0 C129.8,683.7 132.0,705.8 132.5,713.0" fill="none" stroke="#8c8c8c" stroke-width="2.1" stroke-linecap="round" stroke-linejoin="round" filter="url(#b1_3)" opacity="0.70"/>
<path d="M164.0,606.0 C163.8,613.3 162.7,635.8 163.0,650.0 C163.3,664.2 165.5,684.2 166.0,691.0" fill="none" stroke="#6e6e6e" stroke-width="6.5" stroke-linecap="round" stroke-linejoin="round" filter="url(#b1_3)"/><path d="M162.6,606.0 C162.4,613.3 161.2,635.8 161.6,650.0 C161.9,664.2 164.1,684.2 164.6,691.0" fill="none" stroke="#969696" stroke-width="1.9" stroke-linecap="round" stroke-linejoin="round" filter="url(#b1_3)" opacity="0.70"/>
<path d="M186.0,600.0 C186.7,608.3 188.7,635.0 190.0,650.0 C191.3,665.0 192.7,679.5 194.0,690.0 C195.3,700.5 197.3,709.2 198.0,713.0" fill="none" stroke="#707070" stroke-width="7.0" stroke-linecap="round" stroke-linejoin="round" filter="url(#b1_3)"/><path d="M184.5,600.0 C185.1,608.3 187.1,635.0 188.5,650.0 C189.8,665.0 191.1,679.5 192.5,690.0 C193.8,700.5 195.8,709.2 196.5,713.0" fill="none" stroke="#969696" stroke-width="2.1" stroke-linecap="round" stroke-linejoin="round" filter="url(#b1_3)" opacity="0.70"/>
<path d="M205.0,612.0 C205.3,616.7 206.2,632.8 207.0,640.0 C207.8,647.2 209.5,652.5 210.0,655.0" fill="none" stroke="#686868" stroke-width="5.0" stroke-linecap="round" stroke-linejoin="round" filter="url(#b1_3)"/><path d="M203.9,612.0 C204.2,616.7 205.1,632.8 205.9,640.0 C206.7,647.2 208.4,652.5 208.9,655.0" fill="none" stroke="#8c8c8c" stroke-width="1.5" stroke-linecap="round" stroke-linejoin="round" filter="url(#b1_3)" opacity="0.70"/>
<path d="M222.0,622.0 C223.7,628.3 229.0,647.0 232.0,660.0 C235.0,673.0 238.7,693.3 240.0,700.0" fill="none" stroke="#646464" stroke-width="5.0" stroke-linecap="round" stroke-linejoin="round" filter="url(#b1_3)"/><path d="M220.9,622.0 C222.6,628.3 227.9,647.0 230.9,660.0 C233.9,673.0 237.6,693.3 238.9,700.0" fill="none" stroke="#878787" stroke-width="1.5" stroke-linecap="round" stroke-linejoin="round" filter="url(#b1_3)" opacity="0.70"/>
<path d="M60.0,640.0 C62.5,645.0 69.2,660.0 75.0,670.0 C80.8,680.0 91.7,695.0 95.0,700.0" fill="none" stroke="#585858" stroke-width="8.0" stroke-linecap="round" stroke-linejoin="round" filter="url(#b1_3)"/><path d="M58.2,640.0 C60.7,645.0 67.4,660.0 73.2,670.0 C79.1,680.0 89.9,695.0 93.2,700.0" fill="none" stroke="#787878" stroke-width="2.4" stroke-linecap="round" stroke-linejoin="round" filter="url(#b1_3)" opacity="0.70"/>
<path d="M100.0,640.0 C103.3,645.8 113.3,664.2 120.0,675.0 C126.7,685.8 136.7,700.0 140.0,705.0" fill="none" stroke="#545454" stroke-width="8.0" stroke-linecap="round" stroke-linejoin="round" filter="url(#b1_3)"/><path d="M98.2,640.0 C101.6,645.8 111.6,664.2 118.2,675.0 C124.9,685.8 134.9,700.0 138.2,705.0" fill="none" stroke="#737373" stroke-width="2.4" stroke-linecap="round" stroke-linejoin="round" filter="url(#b1_3)" opacity="0.70"/>
<path d="M30.0,660.0 C31.7,665.0 36.3,681.2 40.0,690.0 C43.7,698.8 50.0,709.2 52.0,713.0" fill="none" stroke="#565656" stroke-width="7.0" stroke-linecap="round" stroke-linejoin="round" filter="url(#b1_3)"/><path d="M28.5,660.0 C30.1,665.0 34.8,681.2 38.5,690.0 C42.1,698.8 48.5,709.2 50.5,713.0" fill="none" stroke="#767676" stroke-width="2.1" stroke-linecap="round" stroke-linejoin="round" filter="url(#b1_3)" opacity="0.70"/>
<path d="M240.0,640.0 C242.5,645.0 251.3,657.8 255.0,670.0 C258.7,682.2 260.8,705.8 262.0,713.0" fill="none" stroke="#646464" stroke-width="5.0" stroke-linecap="round" stroke-linejoin="round" filter="url(#b1_3)"/><path d="M238.9,640.0 C241.4,645.0 250.2,657.8 253.9,670.0 C257.6,682.2 259.7,705.8 260.9,713.0" fill="none" stroke="#878787" stroke-width="1.5" stroke-linecap="round" stroke-linejoin="round" filter="url(#b1_3)" opacity="0.70"/>
<path d="M150.0,660.0 C153.3,665.0 164.2,681.2 170.0,690.0 C175.8,698.8 182.5,709.2 185.0,713.0" fill="none" stroke="#505050" stroke-width="7.0" stroke-linecap="round" stroke-linejoin="round" filter="url(#b1_3)"/><path d="M148.5,660.0 C151.8,665.0 162.6,681.2 168.5,690.0 C174.3,698.8 181.0,709.2 183.5,713.0" fill="none" stroke="#6e6e6e" stroke-width="2.1" stroke-linecap="round" stroke-linejoin="round" filter="url(#b1_3)" opacity="0.70"/>
<path d="M276.0,626.0 C278.0,630.0 284.0,642.3 288.0,650.0 C292.0,657.7 298.0,668.3 300.0,672.0" fill="none" stroke="#6e6e6e" stroke-width="6.0" stroke-linecap="round" stroke-linejoin="round" filter="url(#b1_3)"/><path d="M274.7,626.0 C276.7,630.0 282.7,642.3 286.7,650.0 C290.7,657.7 296.7,668.3 298.7,672.0" fill="none" stroke="#969696" stroke-width="1.8" stroke-linecap="round" stroke-linejoin="round" filter="url(#b1_3)" opacity="0.70"/>
<ellipse cx="54.0" cy="672.0" rx="3.5" ry="3.5" fill="#ebebeb" filter="url(#b1_3)"/>
<path d="M136.0,632.0 C137.5,630.0 142.3,627.7 146.0,628.0 C149.7,628.3 155.7,631.2 158.0,634.0 C160.3,636.8 161.3,642.0 160.0,645.0 C158.7,648.0 153.2,651.7 150.0,652.0 C146.8,652.3 143.2,649.0 141.0,647.0 C138.8,645.0 137.8,642.5 137.0,640.0 C136.2,637.5 134.5,634.0 136.0,632.0Z" fill="#c8c8c8" filter="url(#b1_3)" opacity="0.85"/>
<path d="M138.0,636.0 C139.7,635.2 144.7,630.8 148.0,631.0 C151.3,631.2 156.3,636.0 158.0,637.0" fill="none" stroke="#464646" stroke-width="2.0" stroke-linecap="round" stroke-linejoin="round" filter="url(#b1_3)"/>
<path d="M140.0,645.0 C141.7,644.3 146.7,640.8 150.0,641.0 C153.3,641.2 158.3,645.2 160.0,646.0" fill="none" stroke="#5a5a5a" stroke-width="2.0" stroke-linecap="round" stroke-linejoin="round" filter="url(#b1_3)"/>
<path d="M160.0,655.0 C160.7,657.2 164.0,663.8 164.0,668.0 C164.0,672.2 160.7,678.0 160.0,680.0" fill="none" stroke="#c8c8c8" stroke-width="2.5" stroke-linecap="round" stroke-linejoin="round" filter="url(#b1_3)" opacity="0.80"/>
<path d="M240.0,628.0 C241.3,623.8 247.3,623.3 252.0,623.0 C256.7,622.7 263.3,623.8 268.0,626.0 C272.7,628.2 278.0,631.0 280.0,636.0 C282.0,641.0 282.0,651.3 280.0,656.0 C278.0,660.7 272.3,663.3 268.0,664.0 C263.7,664.7 258.0,662.7 254.0,660.0 C250.0,657.3 246.3,653.3 244.0,648.0 C241.7,642.7 238.7,632.2 240.0,628.0Z" fill="#c8c8c8" filter="url(#b2_3)" opacity="0.80"/>
<path d="M246.0,628.0 C246.3,631.3 247.8,642.0 248.0,648.0 C248.2,654.0 247.2,661.3 247.0,664.0" fill="none" stroke="#464646" stroke-width="3.0" stroke-linecap="round" stroke-linejoin="round" filter="url(#b1_3)" opacity="0.85"/>
<path d="M254.0,628.0 C254.3,631.3 255.8,642.0 256.0,648.0 C256.2,654.0 255.2,661.3 255.0,664.0" fill="none" stroke="#464646" stroke-width="3.0" stroke-linecap="round" stroke-linejoin="round" filter="url(#b1_3)" opacity="0.85"/>
<path d="M262.0,628.0 C262.3,631.3 263.8,642.0 264.0,648.0 C264.2,654.0 263.2,661.3 263.0,664.0" fill="none" stroke="#464646" stroke-width="3.0" stroke-linecap="round" stroke-linejoin="round" filter="url(#b1_3)" opacity="0.85"/>
<path d="M270.0,628.0 C270.3,631.3 271.8,642.0 272.0,648.0 C272.2,654.0 271.2,661.3 271.0,664.0" fill="none" stroke="#464646" stroke-width="3.0" stroke-linecap="round" stroke-linejoin="round" filter="url(#b1_3)" opacity="0.85"/>
<path d="M278.0,628.0 C278.3,631.3 279.8,642.0 280.0,648.0 C280.2,654.0 279.2,661.3 279.0,664.0" fill="none" stroke="#464646" stroke-width="3.0" stroke-linecap="round" stroke-linejoin="round" filter="url(#b1_3)" opacity="0.85"/>
<ellipse cx="272.0" cy="673.0" rx="12.0" ry="7.0" fill="#2c2c2c" filter="url(#b2_3)"/>
<polygon points="278.0,668.0 304.0,660.0 304.0,713.4 270.0,713.4 266.0,690.0" fill="#606060" filter="url(#b2_3)" opacity="0.80"/>
<ellipse cx="296.0" cy="690.0" rx="9.0" ry="14.0" fill="#464646" stroke="#8c8c8c" stroke-width="1.5" filter="url(#b1_3)" opacity="0.80"/>
<rect x="15.0" y="492.0" width="289.0" height="221.4" fill="#fff" filter="url(#t3g)" opacity="0.16"/>
<rect x="15.0" y="492.0" width="289.0" height="221.4" fill="#000" filter="url(#t3d)" opacity="0.16"/>
</g>
<g clip-path="url(#c4)">
<rect x="1065.3" y="163.6" width="286.5" height="205.6" fill="#707070"/>
<rect x="1065.3" y="163.6" width="286.5" height="55.0" fill="url(#g4a)"/>
<polygon points="1065.0,211.0 1078.0,210.0 1094.0,208.5 1104.0,206.4 1123.6,201.0 1141.0,203.0 1162.6,195.5 1173.5,189.0 1187.6,188.0 1200.0,192.0 1212.0,196.0 1240.0,196.0 1290.0,200.0 1352.0,205.0 1352.0,345.0 1065.0,345.0" fill="#8e8e8e"/>
<polygon points="1065.0,211.0 1078.0,210.0 1094.0,208.5 1104.0,206.4 1123.6,201.0 1141.0,203.0 1162.6,195.5 1173.5,189.0 1187.6,188.0 1200.0,192.0 1212.0,196.0 1240.0,196.0 1290.0,200.0 1352.0,205.0 1352.0,345.0 1065.0,345.0" fill="#808080" filter="url(#t4a)" opacity="0.60"/>
<g filter="url(#b05_4)" opacity="0.85"><g transform="translate(1060,200)"><path d="M98,111L89,115L85,105L97,103Z" fill="#6b6b6b"/><path d="M169,142L162,136L168,128L175,136Z" fill="#8a8a8a"/><path d="M57,37L60,35L67,39L69,44L61,49L55,45Z" fill="#919191"/><path d="M21,56L19,49L25,44L30,49L28,56Z" fill="#737373"/><path d="M108,139L111,145L104,152L98,148L99,140Z" fill="#8f8f8f"/><path d="M130,8L133,17L126,25L120,20L119,11Z" fill="#6a6a6a"/><path d="M30,9L38,10L42,15L36,23L27,18Z" fill="#8a8a8a"/><path d="M61,78L64,91L49,94L50,82Z" fill="#757575"/><path d="M281,42L280,48L274,51L268,45L273,39Z" fill="#6f6f6f"/><path d="M18,28L12,32L5,27L4,21L12,16L18,21Z" fill="#7a7a7a"/><path d="M39,142L36,147L29,146L25,137L32,131L36,132Z" fill="#818181"/><path d="M189,146L179,150L172,139L186,134Z" fill="#777777"/><path d="M198,140L195,135L198,128L205,128L208,133L206,140Z" fill="#696969"/><path d="M171,132L165,126L170,117L176,116L181,125L178,130Z" fill="#696969"/><path d="M248,77L255,72L258,74L260,79L257,84L251,82Z" fill="#919191"/><path d="M261,116L264,108L274,112L270,121Z" fill="#787878"/><path d="M288,70L295,71L296,78L290,80L285,75Z" fill="#707070"/><path d="M192,0L199,2L202,8L196,11L190,9Z" fill="#8d8d8d"/><path d="M216,20L216,11L223,11L224,18Z" fill="#848484"/><path d="M279,140L279,133L286,133L286,140Z" fill="#6e6e6e"/><path d="M49,25L41,31L33,23L38,16L46,15Z" fill="#6d6d6d"/><path d="M227,114L229,122L219,125L213,120L216,110Z" fill="#8f8f8f"/><path d="M116,147L112,141L112,134L124,133L124,138L121,145Z" fill="#7b7b7b"/><path d="M8,114L12,109L18,113L13,118Z" fill="#909090"/><path d="M58,129L61,134L59,140L52,137L50,133Z" fill="#8f8f8f"/><path d="M126,148L122,141L130,135L138,140L135,151Z" fill="#909090"/><path d="M62,16L67,20L64,30L52,27L51,20Z" fill="#7f7f7f"/><path d="M284,32L294,34L299,40L291,49L284,50L281,40Z" fill="#7a7a7a"/><path d="M259,126L257,131L245,131L243,125L249,117L256,118Z" fill="#6e6e6e"/><path d="M80,40L68,45L59,38L65,30L77,32Z" fill="#767676"/><path d="M140,6L134,8L129,3L134,-6L140,-4Z" fill="#646464"/><path d="M29,143L21,150L10,140L18,132L25,134Z" fill="#676767"/><path d="M97,112L99,119L93,126L84,119L90,111Z" fill="#868686"/><path d="M253,128L260,130L256,138L250,134Z" fill="#7a7a7a"/><path d="M55,112L59,117L53,125L47,123L44,116Z" fill="#7a7a7a"/><path d="M140,122L141,128L137,132L133,130L132,126L135,122Z" fill="#808080"/><path d="M190,-3L197,2L194,8L190,10L186,5Z" fill="#8a8a8a"/><path d="M85,101L94,107L86,116L76,107Z" fill="#878787"/><path d="M100,22L91,20L90,11L98,6L105,14Z" fill="#818181"/><path d="M31,48L31,38L38,35L46,44L42,50Z" fill="#767676"/><path d="M104,115L108,121L103,127L95,123L94,116L100,112Z" fill="#7c7c7c"/><path d="M258,88L270,86L276,91L269,104L259,98Z" fill="#929292"/><path d="M130,145L131,136L136,131L143,135L140,144Z" fill="#818181"/><path d="M96,122L97,129L90,132L84,128L86,121L92,117Z" fill="#7a7a7a"/><path d="M31,121L38,126L33,132L28,128Z" fill="#838383"/><path d="M82,132L80,142L68,139L68,129Z" fill="#898989"/><path d="M79,130L71,129L69,119L81,119Z" fill="#868686"/><path d="M61,134L71,137L75,148L65,152L58,146Z" fill="#8c8c8c"/><path d="M15,104L23,98L29,96L36,103L31,115L23,113Z" fill="#8e8e8e"/><path d="M43,19L44,10L50,7L55,13L55,21L46,24Z" fill="#6e6e6e"/><path d="M54,51L48,58L40,51L42,41L53,40Z" fill="#8a8a8a"/><path d="M238,123L246,118L252,127L248,131L239,129Z" fill="#888888"/><path d="M60,67L60,76L53,78L50,70Z" fill="#818181"/><path d="M105,26L105,16L115,14L116,25Z" fill="#6f6f6f"/><path d="M260,20L253,21L250,17L252,13L258,12L261,15Z" fill="#767676"/><path d="M82,118L89,120L91,125L86,129L80,125Z" fill="#6e6e6e"/><path d="M296,6L288,13L283,6L286,-1L294,0Z" fill="#696969"/><path d="M21,72L15,75L7,71L8,62L20,63Z" fill="#8d8d8d"/><path d="M146,109L147,114L141,120L136,116L137,111Z" fill="#898989"/><path d="M287,80L280,86L272,82L273,76L280,74Z" fill="#666666"/><path d="M284,19L280,23L272,19L274,13L283,13Z" fill="#828282"/><path d="M273,113L279,106L290,112L288,120L278,124Z" fill="#868686"/><path d="M117,124L106,120L109,108L117,107L125,117Z" fill="#646464"/><path d="M51,104L57,109L54,117L48,118L42,112L46,106Z" fill="#909090"/><path d="M275,132L268,138L264,134L262,128L268,124L274,127Z" fill="#717171"/><path d="M15,87L5,90L6,80L12,79Z" fill="#757575"/><path d="M26,70L24,64L28,59L35,62L35,68L30,72Z" fill="#7f7f7f"/><path d="M153,1L152,-6L162,-10L168,1L161,7Z" fill="#8b8b8b"/><path d="M43,64L50,57L55,58L59,68L55,73L45,71Z" fill="#909090"/><path d="M267,77L279,73L279,86L271,86Z" fill="#8c8c8c"/><path d="M241,4L239,13L230,11L232,2Z" fill="#8a8a8a"/><path d="M147,11L145,3L151,-2L157,1L158,10Z" fill="#6f6f6f"/><path d="M132,14L124,22L118,20L115,12L123,7L129,6Z" fill="#848484"/><path d="M208,-2L215,0L217,3L216,10L210,10L206,5Z" fill="#6f6f6f"/><path d="M104,23L97,27L92,23L94,15L101,16Z" fill="#8b8b8b"/><path d="M214,7L223,4L224,13L214,13Z" fill="#656565"/><path d="M261,113L248,111L249,97L261,102Z" fill="#8a8a8a"/><path d="M256,15L263,14L269,23L260,29L251,21Z" fill="#878787"/><path d="M291,114L284,108L292,101L298,108Z" fill="#838383"/><path d="M72,41L75,44L74,53L68,55L61,50L65,42Z" fill="#8a8a8a"/><path d="M19,123L21,131L19,133L14,134L11,129L13,124Z" fill="#828282"/><path d="M274,76L268,70L267,65L273,60L282,60L283,72Z" fill="#707070"/><path d="M200,117L196,124L191,124L188,117L194,114Z" fill="#808080"/><path d="M275,58L276,65L270,73L261,70L265,58Z" fill="#7d7d7d"/><path d="M58,21L63,14L75,19L75,29L62,31Z" fill="#868686"/><path d="M43,115L47,120L47,123L40,127L34,121L34,117Z" fill="#8c8c8c"/><path d="M99,12L100,21L94,26L86,17L91,8Z" fill="#7b7b7b"/><path d="M242,102L236,94L242,83L251,87L252,98Z" fill="#7a7a7a"/><path d="M285,135L273,136L276,118L290,123Z" fill="#878787"/><path d="M9,92L12,98L9,103L2,100L5,94Z" fill="#707070"/><path d="M24,12L30,19L27,26L18,27L13,23L15,12Z" fill="#6b6b6b"/><path d="M35,91L34,99L23,98L22,94L28,85Z" fill="#858585"/><path d="M141,1L135,0L135,-8L138,-13L149,-10L150,-4Z" fill="#898989"/><path d="M184,138L172,142L167,138L170,128L180,129Z" fill="#7d7d7d"/><path d="M277,29L277,21L289,18L295,24L292,31L283,37Z" fill="#696969"/><path d="M229,14L241,4L248,9L250,20L241,24L231,22Z" fill="#7e7e7e"/><path d="M19,28L22,35L18,40L12,38L10,32Z" fill="#898989"/><path d="M247,86L251,82L260,86L258,94L252,94Z" fill="#7e7e7e"/><path d="M21,45L28,54L20,59L15,53Z" fill="#6b6b6b"/><path d="M46,144L34,142L40,126L52,133Z" fill="#797979"/><path d="M69,129L60,118L63,112L75,112L76,122Z" fill="#848484"/><path d="M231,105L244,106L245,121L236,122L227,111Z" fill="#767676"/><path d="M286,102L289,107L285,116L278,115L272,106L274,100Z" fill="#808080"/><path d="M147,148L140,145L137,136L146,132L155,135Z" fill="#8b8b8b"/><path d="M49,124L56,124L60,133L50,140L45,133Z" fill="#6b6b6b"/><path d="M154,131L161,128L165,134L159,140L155,137Z" fill="#808080"/><path d="M80,0L82,7L75,12L69,9L71,1Z" fill="#797979"/><path d="M51,8L51,15L46,18L41,13L43,6Z" fill="#757575"/><path d="M249,139L250,144L242,148L237,144L236,136L244,135Z" fill="#848484"/><path d="M37,20L45,21L45,30L38,34L30,27Z" fill="#727272"/><path d="M205,123L203,130L191,130L189,121L197,115Z" fill="#787878"/><path d="M21,122L15,126L8,123L9,113L18,115Z" fill="#909090"/><path d="M65,124L61,131L55,131L52,124L57,118Z" fill="#737373"/><path d="M79,22L80,11L86,9L96,15L88,25Z" fill="#8f8f8f"/><path d="M225,137L219,131L226,126L231,133Z" fill="#8d8d8d"/><path d="M197,144L190,139L189,130L195,126L201,132L202,138Z" fill="#838383"/><path d="M126,119L121,122L115,116L116,109L125,110Z" fill="#6f6f6f"/><path d="M116,3L117,9L111,11L109,4Z" fill="#7e7e7e"/><path d="M33,26L42,31L33,39L28,29Z" fill="#666666"/><path d="M197,137L207,133L213,149L201,149Z" fill="#808080"/><path d="M245,15L240,26L232,23L230,17L237,9Z" fill="#757575"/><path d="M278,74L286,80L284,89L275,88L270,83L272,78Z" fill="#909090"/><path d="M221,141L215,136L221,128L229,131L228,139Z" fill="#888888"/><path d="M292,65L288,72L275,64L279,56L290,53Z" fill="#919191"/><path d="M277,150L266,151L263,142L272,135L280,144Z" fill="#818181"/><path d="M134,7L137,-4L151,0L150,11L139,15Z" fill="#777777"/><path d="M38,92L39,82L46,76L54,81L53,91L50,95Z" fill="#787878"/><path d="M34,110L34,105L40,102L46,104L45,111L41,113Z" fill="#909090"/><path d="M210,133L205,126L214,123L216,133Z" fill="#7e7e7e"/><path d="M21,87L28,97L21,105L9,100L11,93Z" fill="#848484"/><path d="M55,14L49,7L56,2L64,6Z" fill="#7a7a7a"/><path d="M243,104L252,107L249,116L242,117L237,111Z" fill="#909090"/><path d="M105,5L101,10L94,11L89,2L96,-2L103,1Z" fill="#666666"/><path d="M36,127L34,133L26,132L22,127L27,122L33,121Z" fill="#818181"/><path d="M34,77L36,85L35,90L28,90L23,83L28,78Z" fill="#6c6c6c"/><path d="M29,127L25,119L27,110L40,116L38,125Z" fill="#8a8a8a"/><path d="M103,118L111,120L108,128L100,129L96,122Z" fill="#6f6f6f"/><path d="M291,137L279,127L289,118L295,128Z" fill="#686868"/><path d="M251,111L251,125L237,122L238,111Z" fill="#717171"/><path d="M35,61L35,53L38,50L45,51L46,56L42,61Z" fill="#6f6f6f"/><path d="M257,90L265,94L262,106L250,104L252,93Z" fill="#8e8e8e"/><path d="M253,42L256,34L269,39L266,48Z" fill="#8e8e8e"/><path d="M53,50L58,48L63,55L54,57Z" fill="#848484"/><path d="M90,139L93,144L89,151L84,152L78,146L84,138Z" fill="#787878"/><path d="M252,92L261,84L267,91L262,98Z" fill="#8f8f8f"/><path d="M268,15L270,6L274,2L282,4L279,14Z" fill="#727272"/><path d="M232,101L238,105L239,112L235,115L229,114L224,109Z" fill="#707070"/><path d="M12,22L8,22L3,15L10,10L16,13Z" fill="#737373"/><path d="M275,115L266,120L260,115L263,108L273,110Z" fill="#898989"/><path d="M41,72L49,75L47,86L36,86L32,75Z" fill="#8e8e8e"/><path d="M55,104L52,100L52,92L57,90L63,97L63,102Z" fill="#6b6b6b"/><path d="M78,23L82,32L68,36L66,26Z" fill="#6b6b6b"/><path d="M117,-11L132,-7L124,2L116,-1Z" fill="#919191"/><path d="M284,28L279,20L282,13L288,11L292,18L292,24Z" fill="#717171"/><path d="M136,118L128,115L131,109L138,112Z" fill="#737373"/><path d="M113,125L120,129L119,136L111,136L109,129Z" fill="#828282"/><path d="M73,101L78,102L81,108L78,114L70,112L68,108Z" fill="#717171"/><path d="M270,45L277,44L279,49L272,55L268,50Z" fill="#656565"/><path d="M27,76L27,84L15,88L13,80L17,73Z" fill="#8b8b8b"/><path d="M74,133L83,131L86,138L77,140Z" fill="#6d6d6d"/><path d="M182,-4L190,4L190,9L183,14L176,9L175,1Z" fill="#737373"/><path d="M283,136L289,128L295,132L297,139L289,143Z" fill="#6d6d6d"/><path d="M20,74L30,71L34,75L34,82L27,86L21,80Z" fill="#767676"/><path d="M95,112L100,100L108,102L107,114Z" fill="#898989"/><path d="M42,103L36,105L33,104L31,97L38,93L42,96Z" fill="#8e8e8e"/><path d="M36,52L44,53L47,63L40,66L33,62Z" fill="#919191"/><path d="M61,30L58,38L46,33L45,25L57,20Z" fill="#7f7f7f"/><path d="M142,129L144,123L151,123L159,128L154,137L149,136Z" fill="#717171"/><path d="M8,21L18,21L16,36L7,36L3,30Z" fill="#656565"/><path d="M6,54L-2,49L3,39L13,39L14,49Z" fill="#888888"/><path d="M158,12L163,1L170,4L172,11L163,15Z" fill="#7c7c7c"/><path d="M261,149L252,149L250,142L256,136L265,142Z" fill="#727272"/><path d="M34,83L34,93L22,97L18,91L20,81Z" fill="#737373"/><path d="M280,57L271,53L270,45L280,42L286,50Z" fill="#7c7c7c"/><path d="M14,23L7,29L-3,26L-1,20L9,13Z" fill="#808080"/><path d="M260,15L261,21L252,25L249,17L253,14Z" fill="#707070"/><path d="M266,26L273,24L278,27L275,34L265,33Z" fill="#777777"/><path d="M71,102L65,101L62,91L70,88L75,94Z" fill="#666666"/><path d="M22,32L27,44L18,51L12,37Z" fill="#7b7b7b"/><path d="M261,35L250,38L247,25L255,18L263,20Z" fill="#6e6e6e"/><path d="M99,98L89,97L90,84L101,84Z" fill="#676767"/><path d="M177,138L171,132L176,123L183,129Z" fill="#727272"/><path d="M65,5L70,5L76,13L72,18L67,16Z" fill="#8d8d8d"/><path d="M51,117L48,114L49,107L56,105L60,109L60,116Z" fill="#7e7e7e"/><path d="M291,96L286,98L281,95L279,89L287,85L291,90Z" fill="#909090"/><path d="M170,13L162,9L162,2L170,-5L178,0L180,11Z" fill="#828282"/><path d="M278,18L274,6L286,4L289,18Z" fill="#6c6c6c"/><path d="M111,9L105,8L103,2L108,-2L113,0Z" fill="#7d7d7d"/><path d="M198,6L199,-2L208,-1L208,8L205,12Z" fill="#858585"/><path d="M66,96L69,90L76,87L82,94L82,101L71,103Z" fill="#747474"/><path d="M89,115L85,105M162,136L168,128M69,44L61,49M21,56L19,49M99,140L108,139M119,11L130,8M36,23L27,18M64,91L49,94M273,39L281,42M4,21L12,16M32,131L36,132M172,139L186,134M198,140L195,135M170,117L176,116M258,74L260,79M270,121L261,116M285,75L288,70M199,2L202,8M216,11L223,11M286,140L279,140M46,15L49,25M229,122L219,125M124,133L124,138M12,109L18,113M52,137L50,133M138,140L135,151M52,27L51,20M284,50L281,40M245,131L243,125M80,40L68,45M129,3L134,-6M18,132L25,134M90,111L97,112M250,134L253,128M47,123L44,116M133,130L132,126M194,8L190,10M85,101L94,107M100,22L91,20M38,35L46,44M95,123L94,116M270,86L276,91M140,144L130,145M86,121L92,117M28,128L31,121M68,129L82,132M71,129L69,119M58,146L61,134M23,113L15,104M44,10L50,7M53,40L54,51M248,131L239,129M50,70L60,67M115,14L116,25M252,13L258,12M86,129L80,125M288,13L283,6M15,75L7,71M147,114L141,120M280,86L272,82M284,19L280,23M278,124L273,113M106,120L109,108M42,112L46,106M264,134L262,128M12,79L15,87M35,62L35,68M162,-10L168,1M55,58L59,68M271,86L267,77M239,13L230,11M145,3L151,-2M118,20L115,12M217,3L216,10M101,16L104,23M214,13L214,7M249,97L261,102M263,14L269,23M291,114L284,108M68,55L61,50M13,124L19,123M267,65L273,60M194,114L200,117M276,65L270,73M62,31L58,21M47,120L47,123M100,21L94,26M242,83L251,87M290,123L285,135M9,92L12,98M27,26L18,27M28,85L35,91M138,-13L149,-10M167,138L170,128M289,18L295,24M229,14L241,4M19,28L22,35M247,86L251,82M15,53L21,45M40,126L52,133M75,112L76,122M231,105L244,106M286,102L289,107M155,135L147,148M60,133L50,140M154,131L161,128M82,7L75,12M43,6L51,8M250,144L242,148M45,30L38,34M189,121L197,115M15,126L8,123M57,118L65,124M86,9L96,15M226,126L231,133M190,139L189,130M121,122L115,116M116,3L117,9M33,26L42,31M197,137L207,133M232,23L230,17M272,78L278,74M221,128L229,131M290,53L292,65M277,150L266,151M137,-4L151,0M38,92L39,82M46,104L45,111M205,126L214,123M21,87L28,97M49,7L56,2M237,111L243,104M105,5L101,10M36,127L34,133M28,90L23,83M38,125L29,127M100,129L96,122M295,128L291,137M251,125L237,122M42,61L35,61M262,106L250,104M256,34L269,39M54,57L53,50M84,138L90,139M252,92L261,84M282,4L279,14M235,115L229,114M12,22L8,22M275,115L266,120M47,86L36,86M55,104L52,100M82,32L68,36M132,-7L124,2M279,20L282,13M138,112L136,118M120,129L119,136M73,101L78,102M268,50L270,45M27,76L27,84M77,140L74,133M175,1L182,-4M283,136L289,128M30,71L34,75M100,100L108,102M42,103L36,105M44,53L47,63M46,33L45,25M154,137L149,136M18,21L16,36M3,39L13,39M172,11L163,15M261,149L252,149M20,81L34,83M286,50L280,57M-1,20L9,13M252,25L249,17M265,33L266,26M70,88L75,94M27,44L18,51M255,18L263,20M90,84L101,84M177,138L171,132M72,18L67,16M49,107L56,105M291,96L286,98M162,2L170,-5M274,6L286,4M113,0L111,9M205,12L198,6M76,87L82,94" fill="none" stroke="#acacac" stroke-width="1.1" opacity="0.8"/></g></g>
<path d="M1121.0,262.0 C1122.8,255.1 1128.7,247.2 1133.5,241.5 C1138.3,235.8 1143.4,231.5 1150.0,228.0 C1156.6,224.5 1163.0,223.7 1173.0,220.7 C1183.0,217.7 1195.5,211.4 1210.0,210.0 C1224.5,208.6 1244.4,209.2 1260.0,212.0 C1275.6,214.8 1293.6,220.3 1303.6,227.0 C1313.6,233.7 1320.0,241.7 1320.0,252.0 C1320.0,262.3 1311.5,279.0 1303.6,289.0 C1295.7,299.0 1285.3,306.4 1272.5,312.0 C1259.7,317.6 1242.2,323.1 1227.0,322.4 C1211.8,321.7 1194.2,313.9 1181.0,308.0 C1167.8,302.1 1157.7,291.2 1148.0,287.0 C1138.3,282.8 1127.5,287.2 1123.0,283.0 C1118.5,278.8 1119.2,268.9 1121.0,262.0Z" fill="#909090" filter="url(#b2_4)"/>
<g filter="url(#b05_4)" opacity="0.90"><g transform="translate(1115,205)"><path d="M161,27L169,26L174,35L166,43L160,38Z" fill="#909090"/><path d="M49,54L62,47L65,59L57,64Z" fill="#a1a1a1"/><path d="M109,31L95,37L88,30L95,19L107,25Z" fill="#7d7d7d"/><path d="M134,9L145,10L152,18L141,25L131,20Z" fill="#848484"/><path d="M93,115L91,107L99,106L102,114Z" fill="#898989"/><path d="M25,65L40,63L44,76L34,81L26,73Z" fill="#868686"/><path d="M106,68L108,75L100,80L93,75L95,66Z" fill="#979797"/><path d="M142,5L151,5L155,11L152,18L141,14Z" fill="#808080"/><path d="M113,44L97,49L94,39L100,28L111,34Z" fill="#888888"/><path d="M141,112L133,108L131,102L136,93L148,96L149,108Z" fill="#999999"/><path d="M107,60L105,49L112,45L120,47L122,54L121,61Z" fill="#9c9c9c"/><path d="M162,52L153,55L151,50L152,44L161,46Z" fill="#808080"/><path d="M15,64L17,74L3,75L1,65Z" fill="#7c7c7c"/><path d="M117,29L120,39L109,46L102,35Z" fill="#868686"/><path d="M98,85L87,92L82,89L80,77L93,75Z" fill="#868686"/><path d="M65,70L63,61L68,57L75,63L76,70L68,73Z" fill="#878787"/><path d="M114,76L110,70L114,61L124,61L127,73Z" fill="#989898"/><path d="M189,71L187,61L199,58L201,73Z" fill="#959595"/><path d="M179,32L176,23L187,17L193,22L195,33L183,37Z" fill="#848484"/><path d="M39,42L25,31L38,23L47,32Z" fill="#7a7a7a"/><path d="M174,88L167,80L175,72L182,81Z" fill="#8b8b8b"/><path d="M171,102L163,108L155,102L159,93L167,92Z" fill="#a1a1a1"/><path d="M153,50L160,49L165,54L161,62L152,60Z" fill="#969696"/><path d="M112,64L115,74L109,77L101,71L106,62Z" fill="#919191"/><path d="M138,50L135,59L121,53L126,45Z" fill="#a0a0a0"/><path d="M179,38L178,43L169,45L165,38L172,32Z" fill="#7a7a7a"/><path d="M60,54L67,54L66,64L58,61Z" fill="#9b9b9b"/><path d="M148,67L137,77L130,69L135,56L144,58Z" fill="#818181"/><path d="M178,62L182,66L181,73L175,76L173,67Z" fill="#888888"/><path d="M138,59L130,59L128,55L132,47L137,46L141,52Z" fill="#848484"/><path d="M60,51L63,44L70,45L71,51L64,55Z" fill="#7c7c7c"/><path d="M71,100L61,101L57,92L57,85L70,84L75,88Z" fill="#848484"/><path d="M81,65L75,56L85,51L93,53L90,63Z" fill="#838383"/><path d="M79,48L90,52L86,60L78,64L71,56Z" fill="#848484"/><path d="M78,39L74,33L78,25L87,26L88,32L84,39Z" fill="#818181"/><path d="M84,16L71,19L66,6L81,4Z" fill="#787878"/><path d="M89,74L99,73L102,82L96,89L88,82Z" fill="#818181"/><path d="M149,36L144,40L138,37L136,33L141,26L148,30Z" fill="#797979"/><path d="M160,71L165,63L172,63L174,73L166,78Z" fill="#7f7f7f"/><path d="M196,30L204,34L202,41L195,45L187,38L188,34Z" fill="#808080"/><path d="M4,69L14,63L22,68L19,80L11,82Z" fill="#808080"/><path d="M181,80L190,79L190,88L181,87Z" fill="#858585"/><path d="M139,71L140,84L126,87L123,78L126,71Z" fill="#979797"/><path d="M163,35L155,38L148,30L153,25L161,26Z" fill="#969696"/><path d="M72,103L63,91L70,81L80,86L81,98Z" fill="#848484"/><path d="M11,48L9,42L17,37L20,40L22,47L18,51Z" fill="#767676"/><path d="M25,59L41,54L46,66L33,73Z" fill="#9c9c9c"/><path d="M125,83L137,85L137,93L135,100L126,99L123,91Z" fill="#787878"/><path d="M82,74L88,70L93,78L88,85L80,81Z" fill="#7a7a7a"/><path d="M28,42L35,40L44,47L39,53L31,58L26,48Z" fill="#858585"/><path d="M73,65L81,57L91,60L94,69L89,78L76,76Z" fill="#949494"/><path d="M30,42L33,49L29,57L16,55L15,49L19,39Z" fill="#9c9c9c"/><path d="M208,57L199,57L192,53L194,44L202,38L211,49Z" fill="#858585"/><path d="M168,56L173,45L180,47L187,52L181,61L174,63Z" fill="#838383"/><path d="M189,89L182,91L175,89L177,78L185,76Z" fill="#7c7c7c"/><path d="M126,39L128,43L124,50L119,50L116,43L118,37Z" fill="#777777"/><path d="M41,40L42,24L56,24L55,36Z" fill="#999999"/><path d="M0,73L7,63L15,68L14,73L5,77Z" fill="#797979"/><path d="M175,42L171,34L178,27L184,38Z" fill="#7c7c7c"/><path d="M123,98L127,95L132,94L133,102L130,106L125,106Z" fill="#868686"/><path d="M113,1L114,11L105,16L100,9L102,-1Z" fill="#7c7c7c"/><path d="M173,11L180,11L182,20L174,27L168,20Z" fill="#878787"/><path d="M22,59L18,66L4,62L3,51L15,46Z" fill="#8e8e8e"/><path d="M111,66L110,72L106,76L100,72L100,64L104,61Z" fill="#8e8e8e"/><path d="M137,74L143,71L149,80L143,86L135,84Z" fill="#9f9f9f"/><path d="M75,13L73,26L61,22L66,11Z" fill="#9f9f9f"/><path d="M44,75L44,66L49,64L55,68L50,75Z" fill="#888888"/><path d="M13,62L9,52L18,46L25,59Z" fill="#838383"/><path d="M100,119L97,106L108,105L109,119Z" fill="#787878"/><path d="M104,106L105,94L119,97L116,108Z" fill="#848484"/><path d="M15,42L30,36L36,47L22,53Z" fill="#8b8b8b"/><path d="M181,93L173,99L165,92L168,84L181,84Z" fill="#959595"/><path d="M55,90L47,98L41,95L35,86L43,79L54,80Z" fill="#8d8d8d"/><path d="M131,17L131,10L140,9L143,19L135,21Z" fill="#808080"/><path d="M43,79L41,68L49,67L53,73L50,81Z" fill="#898989"/><path d="M115,18L111,22L99,21L99,14L103,8L111,9Z" fill="#7a7a7a"/><path d="M152,35L159,28L170,31L170,38L166,44L154,45Z" fill="#858585"/><path d="M106,18L112,8L122,13L123,23L114,28Z" fill="#a1a1a1"/><path d="M105,4L113,-2L121,11L111,14Z" fill="#a1a1a1"/><path d="M54,69L62,72L56,80L49,74Z" fill="#979797"/><path d="M44,48L49,55L41,61L37,53Z" fill="#909090"/><path d="M144,31L146,43L137,43L135,35Z" fill="#9a9a9a"/><path d="M136,28L128,22L134,12L143,19Z" fill="#777777"/><path d="M174,75L167,83L154,82L154,70L168,68Z" fill="#808080"/><path d="M37,25L45,27L45,36L35,35L33,31Z" fill="#959595"/><path d="M184,54L179,50L178,41L186,38L191,43L189,53Z" fill="#838383"/><path d="M124,78L130,86L126,95L116,96L114,86Z" fill="#9b9b9b"/><path d="M113,53L102,57L99,41L111,43Z" fill="#767676"/><path d="M189,67L179,59L185,49L192,57Z" fill="#8b8b8b"/><path d="M202,46L197,51L193,50L191,42L196,39L200,38Z" fill="#999999"/><path d="M68,44L67,32L74,27L82,36L78,44Z" fill="#9e9e9e"/><path d="M61,77L60,66L75,65L76,75Z" fill="#a2a2a2"/><path d="M58,93L60,86L71,87L72,96L66,101Z" fill="#787878"/><path d="M84,78L80,90L69,87L70,78L78,74Z" fill="#9f9f9f"/><path d="M97,68L88,63L91,54L98,51L104,58Z" fill="#959595"/><path d="M59,45L65,47L68,51L65,59L59,60L54,54Z" fill="#959595"/><path d="M162,30L154,24L154,12L170,13L170,23Z" fill="#898989"/><path d="M94,1L99,11L91,19L81,12L88,2Z" fill="#999999"/><path d="M143,71L139,66L144,59L151,62L154,68L149,72Z" fill="#9e9e9e"/><path d="M82,95L82,89L91,88L94,93L90,98Z" fill="#969696"/><path d="M66,101L56,101L50,92L56,88L68,90Z" fill="#797979"/><path d="M63,18L69,23L68,33L57,35L53,26L56,18Z" fill="#818181"/><path d="M35,25L39,18L44,18L47,24L44,32L39,30Z" fill="#929292"/><path d="M106,53L96,51L94,44L101,39L109,41Z" fill="#838383"/><path d="M105,94L99,93L99,81L106,80L111,87Z" fill="#888888"/><path d="M91,47L80,40L87,29L97,38Z" fill="#828282"/><path d="M113,31L116,23L124,20L129,28L125,34Z" fill="#767676"/><path d="M87,34L87,21L94,16L103,23L101,33Z" fill="#828282"/><path d="M145,99L151,91L161,93L161,108L151,111Z" fill="#9d9d9d"/><path d="M77,17L83,11L90,15L88,23L82,24Z" fill="#929292"/><path d="M197,84L194,87L185,88L180,83L184,75L193,74Z" fill="#8c8c8c"/><path d="M58,45L49,46L45,38L49,29L59,30L61,39Z" fill="#7a7a7a"/><path d="M57,34L63,30L71,33L71,41L61,44L55,40Z" fill="#9b9b9b"/><path d="M159,10L173,13L170,22L158,22Z" fill="#777777"/><path d="M149,75L151,67L158,66L162,72L156,77Z" fill="#808080"/><path d="M20,53L26,58L26,67L18,67L13,63L15,57Z" fill="#848484"/><path d="M142,48L132,56L127,49L137,42Z" fill="#8a8a8a"/><path d="M159,93L150,98L145,95L146,88L155,86Z" fill="#969696"/><path d="M135,13L127,16L120,12L118,6L129,-2L137,4Z" fill="#868686"/><path d="M154,61L161,66L163,73L154,77L146,72L145,67Z" fill="#959595"/><path d="M148,74L156,86L148,91L137,88L137,75Z" fill="#989898"/><path d="M76,27L88,23L91,28L90,37L78,33Z" fill="#838383"/><path d="M93,95L103,99L107,104L97,113L90,108L89,103Z" fill="#7b7b7b"/><path d="M68,92L63,84L72,77L78,81L75,92Z" fill="#888888"/><path d="M50,19L56,26L51,34L41,33L41,26Z" fill="#969696"/><path d="M134,107L129,117L124,117L119,110L124,103Z" fill="#8e8e8e"/><path d="M161,27L169,26M57,64L49,54M88,30L95,19M131,20L134,9M93,115L91,107M34,81L26,73M93,75L95,66M141,14L142,5M113,44L97,49M136,93L148,96M112,45L120,47M161,46L162,52M3,75L1,65M117,29L120,39M93,75L98,85M76,70L68,73M110,70L114,61M187,61L199,58M183,37L179,32M38,23L47,32M182,81L174,88M171,102L163,108M161,62L152,60M115,74L109,77M138,50L135,59M172,32L179,38M67,54L66,64M135,56L144,58M182,66L181,73M141,52L138,59M70,45L71,51M70,84L75,88M75,56L85,51M86,60L78,64M88,32L84,39M71,19L66,6M88,82L89,74M144,40L138,37M174,73L166,78M202,41L195,45M14,63L22,68M181,87L181,80M126,87L123,78M153,25L161,26M63,91L70,81M11,48L9,42M25,59L41,54M125,83L137,85M88,70L93,78M39,53L31,58M94,69L89,78M15,49L19,39M208,57L199,57M180,47L187,52M182,91L175,89M126,39L128,43M42,24L56,24M5,77L0,73M184,38L175,42M132,94L133,102M105,16L100,9M180,11L182,20M22,59L18,66M110,72L106,76M135,84L137,74M73,26L61,22M55,68L50,75M25,59L13,62M100,119L97,106M119,97L116,108M30,36L36,47M181,84L181,93M55,90L47,98M135,21L131,17M49,67L53,73M103,8L111,9M154,45L152,35M106,18L112,8M105,4L113,-2M54,69L62,72M41,61L37,53M144,31L146,43M134,12L143,19M168,68L174,75M45,36L35,35M184,54L179,50M130,86L126,95M113,53L102,57M179,59L185,49M196,39L200,38M67,32L74,27M76,75L61,77M58,93L60,86M80,90L69,87M88,63L91,54M65,47L68,51M170,13L170,23M81,12L88,2M143,71L139,66M91,88L94,93M56,88L68,90M57,35L53,26M47,24L44,32M109,41L106,53M106,80L111,87M87,29L97,38M129,28L125,34M101,33L87,34M151,111L145,99M88,23L82,24M197,84L194,87M49,29L59,30M57,34L63,30M158,22L159,10M149,75L151,67M15,57L20,53M142,48L132,56M155,86L159,93M129,-2L137,4M154,61L161,66M148,91L137,88M76,27L88,23M90,108L89,103M68,92L63,84M50,19L56,26M129,117L124,117" fill="none" stroke="#bcbcbc" stroke-width="1.1" opacity="0.8"/></g></g>
<path d="M1215.4,276.6 L1214.4,281.2" fill="none" stroke="#464646" stroke-width="1.2" stroke-linecap="round" stroke-linejoin="round" filter="url(#b1_4)" opacity="0.80"/>
<path d="M1197.5,244.7 L1194.0,251.3" fill="none" stroke="#464646" stroke-width="1.8" stroke-linecap="round" stroke-linejoin="round" filter="url(#b1_4)" opacity="0.80"/>
<path d="M1230.5,276.9 L1234.5,281.6" fill="none" stroke="#464646" stroke-width="1.4" stroke-linecap="round" stroke-linejoin="round" filter="url(#b1_4)" opacity="0.80"/>
<path d="M1293.1,226.9 L1291.0,230.7" fill="none" stroke="#464646" stroke-width="1.9" stroke-linecap="round" stroke-linejoin="round" filter="url(#b1_4)" opacity="0.80"/>
<path d="M1190.7,255.6 L1188.5,259.1" fill="none" stroke="#464646" stroke-width="1.3" stroke-linecap="round" stroke-linejoin="round" filter="url(#b1_4)" opacity="0.80"/>
<path d="M1294.7,264.2 L1301.2,270.4" fill="none" stroke="#464646" stroke-width="2.1" stroke-linecap="round" stroke-linejoin="round" filter="url(#b1_4)" opacity="0.80"/>
<path d="M1150.3,257.1 L1154.0,261.3" fill="none" stroke="#464646" stroke-width="1.8" stroke-linecap="round" stroke-linejoin="round" filter="url(#b1_4)" opacity="0.80"/>
<path d="M1159.4,279.8 L1163.2,282.9" fill="none" stroke="#464646" stroke-width="2.0" stroke-linecap="round" stroke-linejoin="round" filter="url(#b1_4)" opacity="0.80"/>
<path d="M1202.1,256.8 L1201.4,263.1" fill="none" stroke="#464646" stroke-width="1.6" stroke-linecap="round" stroke-linejoin="round" filter="url(#b1_4)" opacity="0.80"/>
<path d="M1135.5,282.3 L1129.3,288.7" fill="none" stroke="#464646" stroke-width="1.9" stroke-linecap="round" stroke-linejoin="round" filter="url(#b1_4)" opacity="0.80"/>
<path d="M1194.1,252.1 L1192.2,259.2" fill="none" stroke="#464646" stroke-width="1.3" stroke-linecap="round" stroke-linejoin="round" filter="url(#b1_4)" opacity="0.80"/>
<path d="M1172.3,252.2 L1172.7,260.2" fill="none" stroke="#464646" stroke-width="1.7" stroke-linecap="round" stroke-linejoin="round" filter="url(#b1_4)" opacity="0.80"/>
<path d="M1207.4,265.1 L1210.7,270.2" fill="none" stroke="#464646" stroke-width="1.6" stroke-linecap="round" stroke-linejoin="round" filter="url(#b1_4)" opacity="0.80"/>
<path d="M1268.9,230.5 L1268.9,235.4" fill="none" stroke="#464646" stroke-width="1.9" stroke-linecap="round" stroke-linejoin="round" filter="url(#b1_4)" opacity="0.80"/>
<path d="M1136.6,245.0 L1139.1,251.7" fill="none" stroke="#464646" stroke-width="1.3" stroke-linecap="round" stroke-linejoin="round" filter="url(#b1_4)" opacity="0.80"/>
<path d="M1212.7,239.3 L1215.5,245.0" fill="none" stroke="#464646" stroke-width="2.2" stroke-linecap="round" stroke-linejoin="round" filter="url(#b1_4)" opacity="0.80"/>
<path d="M1216.6,301.3 L1221.9,308.1" fill="none" stroke="#464646" stroke-width="1.6" stroke-linecap="round" stroke-linejoin="round" filter="url(#b1_4)" opacity="0.80"/>
<path d="M1164.1,284.1 L1161.6,287.3" fill="none" stroke="#464646" stroke-width="1.5" stroke-linecap="round" stroke-linejoin="round" filter="url(#b1_4)" opacity="0.80"/>
<path d="M1268.7,250.4 L1270.8,253.8" fill="none" stroke="#464646" stroke-width="1.2" stroke-linecap="round" stroke-linejoin="round" filter="url(#b1_4)" opacity="0.80"/>
<path d="M1241.4,303.7 L1236.6,308.1" fill="none" stroke="#464646" stroke-width="1.2" stroke-linecap="round" stroke-linejoin="round" filter="url(#b1_4)" opacity="0.80"/>
<path d="M1188.0,287.4 L1184.4,293.6" fill="none" stroke="#464646" stroke-width="1.4" stroke-linecap="round" stroke-linejoin="round" filter="url(#b1_4)" opacity="0.80"/>
<path d="M1224.9,261.6 L1224.1,266.9" fill="none" stroke="#464646" stroke-width="2.1" stroke-linecap="round" stroke-linejoin="round" filter="url(#b1_4)" opacity="0.80"/>
<path d="M1291.0,235.5 L1294.6,243.0" fill="none" stroke="#464646" stroke-width="1.5" stroke-linecap="round" stroke-linejoin="round" filter="url(#b1_4)" opacity="0.80"/>
<path d="M1299.9,264.8 L1297.8,272.0" fill="none" stroke="#464646" stroke-width="1.4" stroke-linecap="round" stroke-linejoin="round" filter="url(#b1_4)" opacity="0.80"/>
<path d="M1181.3,243.2 L1179.4,250.4" fill="none" stroke="#464646" stroke-width="1.3" stroke-linecap="round" stroke-linejoin="round" filter="url(#b1_4)" opacity="0.80"/>
<polygon points="1076.0,210.0 1081.0,200.0 1084.0,192.0 1090.0,190.0 1096.0,196.0 1094.0,209.0" fill="#969696" filter="url(#b1_4)"/>
<path d="M1065.0,211.0 C1067.2,210.8 1073.2,210.4 1078.0,210.0 C1082.8,209.6 1089.7,209.1 1094.0,208.5 C1098.3,207.9 1099.1,207.7 1104.0,206.4 C1108.9,205.2 1117.4,201.6 1123.6,201.0 C1129.8,200.4 1134.5,203.9 1141.0,203.0 C1147.5,202.1 1157.2,197.8 1162.6,195.5 C1168.0,193.2 1169.3,190.2 1173.5,189.0 C1177.7,187.8 1183.2,187.5 1187.6,188.0 C1192.0,188.5 1195.9,190.7 1200.0,192.0 C1204.1,193.3 1210.0,195.3 1212.0,196.0" fill="none" stroke="#787878" stroke-width="2.0" stroke-linecap="round" stroke-linejoin="round" filter="url(#b1_4)" opacity="0.60"/>
<ellipse cx="1090.0" cy="245.0" rx="30.0" ry="28.0" fill="#868686" filter="url(#b8_4)" opacity="0.70"/>
<ellipse cx="1230.0" cy="250.0" rx="70.0" ry="40.0" fill="#969696" filter="url(#b15_4)" opacity="0.60"/>
<polygon points="1316.0,222.0 1352.0,218.0 1352.0,252.0 1335.0,256.0 1318.0,244.0" fill="#585858" filter="url(#b2_4)" opacity="0.90"/>
<polygon points="1290.0,205.0 1352.0,205.0 1352.0,222.0 1316.0,224.0" fill="#707070" filter="url(#b2_4)" opacity="0.80"/>
<polygon points="1065.0,300.0 1100.0,290.0 1115.0,310.0 1135.0,330.0 1160.0,344.0 1185.0,350.0 1065.0,350.0" fill="#686868" filter="url(#b2_4)"/>
<polygon points="1352.0,300.0 1330.0,300.0 1315.0,322.0 1290.0,340.0 1262.0,350.0 1352.0,352.0" fill="#6e6e6e" filter="url(#b2_4)"/>
<polygon points="1100.0,280.0 1106.0,296.5 1119.0,311.7 1134.4,323.6 1151.8,333.4 1173.5,343.0 1200.0,349.0 1229.0,351.0 1250.0,350.0 1269.4,346.3 1292.5,333.5 1310.0,317.4 1321.5,303.5 1329.0,290.0 1332.0,280.0 1324.0,282.0 1316.0,294.0 1305.0,300.0 1292.5,303.5 1269.4,315.0 1234.7,323.0 1215.0,323.6 1195.0,321.5 1173.5,311.7 1151.8,304.0 1130.0,298.7 1116.0,292.0 1107.0,280.0" fill="#a6a6a6" filter="url(#b1_4)"/>
<path d="M1100.0,280.0 C1101.0,282.8 1102.8,291.2 1106.0,296.5 C1109.2,301.8 1114.3,307.2 1119.0,311.7 C1123.7,316.2 1128.9,320.0 1134.4,323.6 C1139.9,327.2 1145.3,330.2 1151.8,333.4 C1158.3,336.6 1165.5,340.4 1173.5,343.0 C1181.5,345.6 1190.8,347.7 1200.0,349.0 C1209.2,350.3 1220.7,350.8 1229.0,351.0 C1237.3,351.2 1243.3,350.8 1250.0,350.0 C1256.7,349.2 1262.3,349.1 1269.4,346.3 C1276.5,343.6 1285.7,338.3 1292.5,333.5 C1299.3,328.7 1305.2,322.4 1310.0,317.4 C1314.8,312.4 1318.3,308.1 1321.5,303.5 C1324.7,298.9 1327.2,293.9 1329.0,290.0 C1330.8,286.1 1331.5,281.7 1332.0,280.0" fill="none" stroke="#eeeeee" stroke-width="2.4" stroke-linecap="round" stroke-linejoin="round" filter="url(#b05_4)"/>
<path d="M1122.0,307.7 C1124.6,309.7 1131.9,316.0 1137.4,319.6 C1142.9,323.2 1148.3,326.2 1154.8,329.4 C1161.3,332.6 1169.5,336.4 1176.5,339.0 C1183.5,341.6 1188.8,343.7 1197.0,345.0 C1205.2,346.3 1217.7,346.8 1226.0,347.0 C1234.3,347.2 1240.3,346.8 1247.0,346.0 C1253.7,345.2 1259.3,345.1 1266.4,342.3 C1273.5,339.6 1282.7,334.3 1289.5,329.5 C1296.3,324.7 1302.2,318.4 1307.0,313.4 C1311.8,308.4 1316.6,301.8 1318.5,299.5" fill="none" stroke="#c4c4c4" stroke-width="3.0" stroke-linecap="round" stroke-linejoin="round" filter="url(#b2_4)" opacity="0.80"/>
<path d="M1305.0,303.0 C1302.9,303.6 1298.4,304.0 1292.5,306.5 C1286.6,309.0 1279.0,314.8 1269.4,318.0 C1259.8,321.2 1243.8,324.6 1234.7,326.0 C1225.6,327.4 1221.6,326.9 1215.0,326.6 C1208.4,326.4 1201.9,326.5 1195.0,324.5 C1188.1,322.5 1180.7,317.6 1173.5,314.7 C1166.3,311.8 1159.0,309.2 1151.8,307.0 C1144.5,304.8 1133.6,302.6 1130.0,301.7" fill="none" stroke="#828282" stroke-width="3.0" stroke-linecap="round" stroke-linejoin="round" filter="url(#b2_4)" opacity="0.70"/>
<polygon points="1126.0,270.0 1140.0,268.0 1150.0,280.0 1165.0,296.0 1181.0,306.0 1200.0,314.0 1227.0,322.0 1260.0,318.0 1290.0,302.0 1302.0,292.0 1300.0,300.0 1280.0,314.0 1250.0,324.0 1222.0,327.0 1195.0,322.0 1173.5,312.0 1151.8,304.0 1135.0,296.0 1124.0,284.0" fill="#585858" filter="url(#b1_4)"/>
<ellipse cx="1152.0" cy="292.0" rx="10.0" ry="7.0" fill="#484848" transform="rotate(40.0 1152.0 292.0)" filter="url(#b4_4)" opacity="0.60"/>
<path d="M1181.0,310.0 C1184.2,311.2 1192.3,314.7 1200.0,317.0 C1207.7,319.3 1217.0,323.5 1227.0,324.0 C1237.0,324.5 1249.8,323.2 1260.0,320.0 C1270.2,316.8 1283.3,307.5 1288.0,305.0" fill="none" stroke="#343434" stroke-width="2.2" stroke-linecap="round" stroke-linejoin="round" filter="url(#b1_4)"/>
<polygon points="1183.0,299.0 1206.0,300.0 1229.0,317.0 1220.0,320.0 1200.0,316.0 1188.0,308.0" fill="#848484" filter="url(#b1_4)"/>
<path d="M1103.0,278.0 C1105.0,275.3 1110.5,267.0 1115.0,262.0 C1119.5,257.0 1124.5,252.7 1130.0,248.0 C1135.5,243.3 1142.2,237.8 1148.0,234.0 C1153.8,230.2 1160.5,227.2 1165.0,225.0 C1169.5,222.8 1173.3,221.7 1175.0,221.0" fill="none" stroke="#a8a8a8" stroke-width="5.0" stroke-linecap="round" stroke-linejoin="round" filter="url(#b1_4)"/>
<path d="M1105.0,280.5 C1107.0,277.8 1112.5,269.5 1117.0,264.5 C1121.5,259.5 1126.5,255.2 1132.0,250.5 C1137.5,245.8 1144.2,240.3 1150.0,236.5 C1155.8,232.7 1162.5,229.7 1167.0,227.5 C1171.5,225.3 1175.3,224.2 1177.0,223.5" fill="none" stroke="#606060" stroke-width="2.5" stroke-linecap="round" stroke-linejoin="round" filter="url(#b1_4)" opacity="0.80"/>
<path d="M1111.0,284.0 C1113.0,281.3 1118.5,273.0 1123.0,268.0 C1127.5,263.0 1132.5,258.7 1138.0,254.0 C1143.5,249.3 1153.0,242.3 1156.0,240.0" fill="none" stroke="#969696" stroke-width="4.0" stroke-linecap="round" stroke-linejoin="round" filter="url(#b1_4)" opacity="0.70"/>
<ellipse cx="1078.0" cy="298.0" rx="9.0" ry="6.0" fill="#c8c8c8" transform="rotate(-20.0 1078.0 298.0)" filter="url(#b1_4)" opacity="0.90"/>
<ellipse cx="1092.0" cy="292.0" rx="8.0" ry="6.0" fill="#b9b9b9" transform="rotate(-20.0 1092.0 292.0)" filter="url(#b1_4)" opacity="0.90"/>
<ellipse cx="1100.0" cy="304.0" rx="6.0" ry="8.0" fill="#d2d2d2" transform="rotate(-20.0 1100.0 304.0)" filter="url(#b1_4)" opacity="0.90"/>
<ellipse cx="1072.0" cy="318.0" rx="6.0" ry="7.0" fill="#d7d7d7" transform="rotate(-20.0 1072.0 318.0)" filter="url(#b1_4)" opacity="0.90"/>
<ellipse cx="1086.0" cy="322.0" rx="7.0" ry="6.0" fill="#aaaaaa" transform="rotate(-20.0 1086.0 322.0)" filter="url(#b1_4)" opacity="0.90"/>
<ellipse cx="1070.0" cy="332.0" rx="5.0" ry="4.0" fill="#e1e1e1" transform="rotate(-20.0 1070.0 332.0)" filter="url(#b1_4)" opacity="0.90"/>
<ellipse cx="1143.0" cy="318.0" rx="8.0" ry="20.0" fill="#9e9e9e" transform="rotate(12.0 1143.0 318.0)" filter="url(#b1_4)"/>
<ellipse cx="1143.0" cy="300.0" rx="8.0" ry="5.0" fill="#a5a5a5" filter="url(#b1_4)"/>
<ellipse cx="1320.0" cy="278.0" rx="6.0" ry="12.0" fill="#d7d7d7" transform="rotate(20.0 1320.0 278.0)" filter="url(#b1_4)" opacity="0.90"/>
<ellipse cx="1338.0" cy="283.0" rx="8.0" ry="7.0" fill="#c8c8c8" transform="rotate(20.0 1338.0 283.0)" filter="url(#b1_4)" opacity="0.90"/>
<ellipse cx="1345.0" cy="296.0" rx="6.0" ry="8.0" fill="#bebebe" transform="rotate(20.0 1345.0 296.0)" filter="url(#b1_4)" opacity="0.90"/>
<ellipse cx="1310.0" cy="262.0" rx="7.0" ry="8.0" fill="#a0a0a0" transform="rotate(20.0 1310.0 262.0)" filter="url(#b1_4)" opacity="0.90"/>
<ellipse cx="1297.0" cy="270.0" rx="6.0" ry="7.0" fill="#969696" transform="rotate(20.0 1297.0 270.0)" filter="url(#b1_4)" opacity="0.90"/>
<ellipse cx="1330.0" cy="262.0" rx="6.0" ry="5.0" fill="#969696" transform="rotate(20.0 1330.0 262.0)" filter="url(#b1_4)" opacity="0.90"/>
<rect x="1065.3" y="353.0" width="286.5" height="17.0" fill="#3a3a3a"/>
<polygon points="1065.0,347.3 1120.0,347.5 1180.0,348.5 1240.0,350.5 1290.0,351.3 1316.0,351.8 1316.0,352.8 1290.0,353.6 1240.0,354.3 1180.0,354.0 1120.0,353.6 1065.0,353.6" fill="#f4f4f4" filter="url(#b05_4)"/>
<path d="M1065.0,345.0 C1074.2,345.0 1100.8,344.8 1120.0,345.0 C1139.2,345.2 1170.0,345.8 1180.0,346.0" fill="none" stroke="#969696" stroke-width="2.0" stroke-linecap="round" stroke-linejoin="round" filter="url(#b1_4)" opacity="0.60"/>
<rect x="1261.9" y="355.8" width="86.8" height="3.8" fill="#f0f0f0" filter="url(#b05_4)"/>
<rect x="1261.9" y="353.2" width="2.4" height="8.7" fill="#f0f0f0" filter="url(#b05_4)"/>
<rect x="1346.3" y="353.2" width="2.4" height="8.7" fill="#f0f0f0" filter="url(#b05_4)"/>
<text x="1294.2" y="349.2" font-family="Liberation Sans, sans-serif" font-size="17" fill="#ececec" textLength="51" lengthAdjust="spacingAndGlyphs">100 µm</text>
<rect x="1065.3" y="163.6" width="286.5" height="205.6" fill="#fff" filter="url(#t4g)" opacity="0.16"/>
<rect x="1065.3" y="163.6" width="286.5" height="205.6" fill="#000" filter="url(#t4d)" opacity="0.16"/>
</g>
<g clip-path="url(#c5)">
<rect x="1065.5" y="464.2" width="290.5" height="196.6" fill="#484848"/>
<rect x="1065.5" y="464.2" width="290.5" height="196.6" fill="#808080" filter="url(#t5b)" opacity="0.90"/>
<g filter="url(#b05_5)"><g transform="translate(1060,515)"><path d="M113,138L110,141L102,140L100,135L102,130L111,129Z" fill="#545454"/><path d="M99,15L106,13L108,22L101,23Z" fill="#555555"/><path d="M24,68L22,62L27,59L31,63L29,68Z" fill="#4b4b4b"/><path d="M107,80L110,69L123,69L119,84Z" fill="#555555"/><path d="M143,126L152,123L158,125L160,134L151,139L143,136Z" fill="#2a2a2a"/><path d="M80,84L80,91L77,95L67,89L68,84L74,82Z" fill="#292929"/><path d="M70,97L77,107L73,114L62,114L61,104Z" fill="#424242"/><path d="M270,138L276,142L276,150L272,151L266,149L265,142Z" fill="#737373"/><path d="M157,13L156,6L163,2L167,5L170,12L163,15Z" fill="#3b3b3b"/><path d="M18,65L12,75L0,74L1,63L11,61Z" fill="#3a3a3a"/><path d="M34,147L28,150L23,140L26,136L35,135Z" fill="#3b3b3b"/><path d="M238,135L235,141L229,140L227,136L232,132Z" fill="#363636"/><path d="M128,155L126,165L119,169L110,161L115,149L122,149Z" fill="#656565"/><path d="M307,48L315,47L320,51L315,58L310,58L306,54Z" fill="#595959"/><path d="M202,142L214,136L219,148L207,154Z" fill="#2c2c2c"/><path d="M201,146L196,153L192,151L188,145L198,140Z" fill="#565656"/><path d="M163,152L166,158L165,164L157,163L154,157L159,153Z" fill="#484848"/><path d="M153,-1L152,-5L157,-9L164,-6L160,1Z" fill="#2c2c2c"/><path d="M19,131L25,138L23,145L14,143L14,135Z" fill="#454545"/><path d="M313,31L306,27L307,20L313,18L319,22L317,25Z" fill="#2b2b2b"/><path d="M178,85L182,82L187,84L187,92L183,94L179,93Z" fill="#303030"/><path d="M154,10L149,23L139,19L142,9Z" fill="#6d6d6d"/><path d="M52,82L39,87L36,76L48,72Z" fill="#5a5a5a"/><path d="M227,81L227,90L216,89L218,80Z" fill="#363636"/><path d="M68,-7L65,0L59,1L56,-6L62,-11Z" fill="#313131"/><path d="M188,54L201,53L202,67L190,67Z" fill="#505050"/><path d="M160,89L166,92L165,97L161,99L156,93Z" fill="#2c2c2c"/><path d="M172,94L181,87L183,97L177,100Z" fill="#525252"/><path d="M167,67L171,58L178,59L181,68L173,72Z" fill="#4f4f4f"/><path d="M175,106L177,120L165,122L164,113Z" fill="#323232"/><path d="M62,121L62,128L57,131L49,127L50,121L57,119Z" fill="#2b2b2b"/><path d="M68,29L67,36L59,34L62,26Z" fill="#2a2a2a"/><path d="M69,128L65,125L69,120L72,120L76,124L75,130Z" fill="#6f6f6f"/><path d="M93,44L95,53L88,60L79,56L78,51L83,40Z" fill="#414141"/><path d="M56,101L56,108L47,111L43,104L46,99Z" fill="#2c2c2c"/><path d="M-3,127L5,124L10,129L10,136L1,139L-3,135Z" fill="#797979"/><path d="M58,145L63,138L70,140L70,148L62,151Z" fill="#727272"/><path d="M232,21L231,10L244,11L243,21Z" fill="#4a4a4a"/><path d="M92,44L103,51L96,61L88,53Z" fill="#484848"/><path d="M131,54L127,56L121,51L122,47L128,42L134,48Z" fill="#5c5c5c"/><path d="M69,157L69,150L75,149L79,151L78,158L73,159Z" fill="#353535"/><path d="M156,96L149,103L143,98L142,87L153,85Z" fill="#373737"/><path d="M24,12L19,7L21,0L27,-1L32,3L31,7Z" fill="#363636"/><path d="M268,57L277,56L279,63L278,69L270,68L266,62Z" fill="#6b6b6b"/><path d="M311,148L301,147L299,137L309,129L315,134L316,140Z" fill="#676767"/><path d="M247,10L239,11L238,4L242,-1L247,2Z" fill="#2d2d2d"/><path d="M314,115L320,117L320,124L315,127L312,125L310,117Z" fill="#3a3a3a"/><path d="M71,73L82,66L87,70L87,81L83,85L73,77Z" fill="#373737"/><path d="M300,127L296,125L300,118L303,117L307,121L304,127Z" fill="#353535"/><path d="M242,76L236,80L231,73L234,69L241,69Z" fill="#323232"/><path d="M84,151L81,144L87,140L92,143L92,150Z" fill="#747474"/><path d="M184,34L174,38L173,30L180,27Z" fill="#2f2f2f"/><path d="M4,155L2,148L5,144L13,143L16,152L12,155Z" fill="#676767"/><path d="M61,139L65,132L73,137L72,144L62,143Z" fill="#2e2e2e"/><path d="M152,63L149,55L155,51L160,52L161,60L159,63Z" fill="#2f2f2f"/><path d="M291,69L294,77L290,85L285,87L279,78L282,72Z" fill="#2b2b2b"/><path d="M23,160L16,154L17,148L25,146L31,148L31,156Z" fill="#323232"/><path d="M280,139L284,129L291,129L298,143L287,147Z" fill="#727272"/><path d="M54,50L62,50L68,55L61,64L51,61Z" fill="#363636"/><path d="M46,27L51,33L50,37L41,39L36,32L41,27Z" fill="#424242"/><path d="M63,4L62,11L54,12L53,3L57,-1Z" fill="#333333"/><path d="M163,92L171,94L173,101L169,106L164,104L161,97Z" fill="#5b5b5b"/><path d="M319,65L325,71L320,78L313,76L313,69Z" fill="#5c5c5c"/><path d="M46,58L36,56L35,49L43,44L48,49Z" fill="#414141"/><path d="M188,76L181,70L182,60L195,62L198,70Z" fill="#3b3b3b"/><path d="M265,80L274,91L264,97L257,88Z" fill="#3b3b3b"/><path d="M32,-7L36,-2L32,4L23,3L24,-3Z" fill="#484848"/><path d="M230,149L228,145L232,139L240,143L238,149Z" fill="#656565"/><path d="M156,152L157,160L144,166L139,161L147,147Z" fill="#313131"/><path d="M57,99L54,92L58,86L66,85L68,95Z" fill="#4b4b4b"/><path d="M41,99L44,105L36,111L31,106L33,101Z" fill="#292929"/><path d="M276,109L284,117L282,128L268,125L266,115Z" fill="#363636"/><path d="M251,49L242,47L241,39L247,34L254,39Z" fill="#313131"/><path d="M259,162L250,154L254,146L264,147L266,158Z" fill="#2f2f2f"/><path d="M149,151L154,145L158,144L164,150L162,154L154,156Z" fill="#2d2d2d"/><path d="M293,72L289,64L295,60L304,67L301,73Z" fill="#4e4e4e"/><path d="M291,86L302,81L307,87L305,93L293,95Z" fill="#2a2a2a"/><path d="M187,129L190,133L185,140L180,139L181,131Z" fill="#4f4f4f"/><path d="M174,34L178,42L171,49L162,45L160,38L168,31Z" fill="#4d4d4d"/><path d="M212,42L220,52L214,57L206,53L205,48Z" fill="#4b4b4b"/><path d="M126,1L121,-7L131,-13L138,-3L132,2Z" fill="#757575"/><path d="M324,166L316,167L313,160L316,152L326,153L330,161Z" fill="#2a2a2a"/><path d="M33,9L41,11L39,19L34,20L28,12Z" fill="#757575"/><path d="M106,27L109,21L117,24L117,27L113,33L109,32Z" fill="#303030"/><path d="M264,48L257,46L254,43L256,38L263,38L266,44Z" fill="#2c2c2c"/><path d="M84,125L75,127L70,120L79,109L84,115Z" fill="#666666"/><path d="M217,95L222,97L224,104L216,109L213,105L213,99Z" fill="#484848"/><path d="M146,41L138,37L141,29L149,29L152,36Z" fill="#454545"/><path d="M66,77L63,73L67,66L72,74Z" fill="#3b3b3b"/><path d="M229,11L237,18L227,31L217,19Z" fill="#464646"/><path d="M43,41L43,55L31,55L27,47L32,36Z" fill="#474747"/><path d="M152,134L152,147L140,147L139,136Z" fill="#595959"/><path d="M276,75L280,65L292,66L296,73L285,80Z" fill="#4e4e4e"/><path d="M307,75L315,78L314,86L306,85Z" fill="#696969"/><path d="M268,0L276,5L271,14L263,14L263,3Z" fill="#323232"/><path d="M184,94L188,109L173,110L173,97Z" fill="#4f4f4f"/><path d="M22,17L30,22L28,31L18,29L17,20Z" fill="#353535"/><path d="M228,56L235,51L239,58L232,60Z" fill="#373737"/><path d="M277,151L282,143L288,147L289,154L283,158Z" fill="#525252"/><path d="M139,38L130,37L127,26L135,23L141,29Z" fill="#585858"/><path d="M228,63L224,67L221,66L219,59L221,55L228,56Z" fill="#4b4b4b"/><path d="M109,10L111,18L104,23L96,17L98,11Z" fill="#474747"/><path d="M133,131L141,137L132,149L126,147L124,135Z" fill="#363636"/><path d="M224,64L234,66L235,77L230,83L218,74Z" fill="#797979"/><path d="M115,92L113,98L104,97L103,92L110,86Z" fill="#5b5b5b"/><path d="M158,141L160,131L171,129L176,134L175,141L165,146Z" fill="#5b5b5b"/><path d="M219,25L213,35L205,27L212,21Z" fill="#7b7b7b"/><path d="M219,95L230,91L237,95L235,102L228,107L220,104Z" fill="#454545"/><path d="M6,107L0,96L9,88L20,98L12,109Z" fill="#525252"/><path d="M195,153L207,157L201,171L189,164Z" fill="#565656"/><path d="M148,112L142,118L134,114L142,103Z" fill="#555555"/><path d="M286,146L296,137L303,144L293,155Z" fill="#333333"/><path d="M221,35L228,35L229,45L222,47L217,42Z" fill="#2a2a2a"/><path d="M203,105L196,97L204,91L211,102Z" fill="#4c4c4c"/><path d="M146,127L134,128L132,113L142,109L150,119Z" fill="#303030"/><path d="M-2,62L-2,52L7,52L11,56L8,64Z" fill="#292929"/><path d="M296,160L283,161L282,151L294,149Z" fill="#585858"/><path d="M182,133L189,139L186,150L179,148L177,139Z" fill="#575757"/><path d="M112,63L122,61L123,71L113,75Z" fill="#4e4e4e"/><path d="M213,19L222,19L226,23L224,35L216,36L209,27Z" fill="#353535"/><path d="M64,118L61,124L55,124L52,119L56,114Z" fill="#4a4a4a"/><path d="M145,24L141,18L144,8L155,9L155,21Z" fill="#303030"/><path d="M-1,52L5,39L16,43L14,58Z" fill="#2c2c2c"/><path d="M32,122L39,122L42,128L40,130L35,132L30,126Z" fill="#2d2d2d"/><path d="M256,6L255,-4L267,-6L271,1L264,12Z" fill="#777777"/><path d="M279,28L279,17L291,18L289,29Z" fill="#313131"/><path d="M284,121L277,119L277,112L284,109L288,114Z" fill="#4f4f4f"/><path d="M246,77L243,67L249,64L257,71L253,80Z" fill="#565656"/><path d="M286,90L295,88L298,95L292,99Z" fill="#373737"/><path d="M298,18L283,14L289,0L300,7Z" fill="#2b2b2b"/><path d="M140,155L133,150L137,141L147,142L149,150Z" fill="#646464"/><path d="M313,139L311,149L300,148L303,134Z" fill="#5c5c5c"/><path d="M50,49L42,41L47,34L53,35L56,42Z" fill="#787878"/><path d="M256,30L247,32L244,24L248,18L253,19L259,27Z" fill="#454545"/><path d="M216,166L210,161L211,155L217,155L220,160Z" fill="#4f4f4f"/><path d="M298,77L302,72L306,73L310,77L307,82L302,83Z" fill="#2d2d2d"/><path d="M116,129L111,124L115,115L121,116L126,127Z" fill="#323232"/><path d="M141,106L139,99L144,92L152,91L155,99L148,105Z" fill="#343434"/><path d="M190,129L185,130L181,126L183,121L188,119L191,123Z" fill="#7c7c7c"/><path d="M310,82L310,94L295,95L292,88L300,81Z" fill="#444444"/><path d="M120,89L132,86L136,90L133,102L127,102L119,96Z" fill="#4a4a4a"/><path d="M156,127L162,122L174,126L174,137L164,138Z" fill="#2a2a2a"/><path d="M236,155L240,156L240,164L234,167L229,163L230,157Z" fill="#5b5b5b"/><path d="M67,22L72,18L84,20L82,26L76,35L67,30Z" fill="#5b5b5b"/><path d="M110,160L103,165L97,160L95,153L100,151L108,153Z" fill="#3b3b3b"/><path d="M193,53L194,60L188,64L183,60L186,52Z" fill="#2e2e2e"/><path d="M156,40L151,37L152,27L160,28L162,36Z" fill="#494949"/><path d="M197,136L207,131L213,138L210,147L199,146Z" fill="#2a2a2a"/><path d="M110,134L101,142L95,133L98,126L107,127Z" fill="#595959"/><path d="M94,39L93,33L98,26L108,32L105,37Z" fill="#6b6b6b"/><path d="M292,23L295,17L301,17L306,27L302,29L295,30Z" fill="#333333"/><path d="M215,46L201,45L202,33L214,33Z" fill="#333333"/><path d="M94,113L88,108L91,99L99,101L101,106Z" fill="#313131"/><path d="M135,78L143,83L141,90L135,91L129,86L131,82Z" fill="#2c2c2c"/><path d="M287,36L296,35L300,41L299,48L292,51L285,45Z" fill="#6d6d6d"/><path d="M97,150L100,143L106,142L107,147L103,152Z" fill="#2a2a2a"/><path d="M22,150L12,146L11,136L21,130L29,139Z" fill="#535353"/><path d="M245,66L252,60L261,62L260,73L252,76Z" fill="#525252"/><path d="M18,32L8,29L12,18L21,20Z" fill="#414141"/><path d="M204,12L201,10L196,4L201,-1L209,1L209,6Z" fill="#797979"/><path d="M215,114L213,122L207,126L199,118L203,112L208,107Z" fill="#2a2a2a"/><path d="M63,43L58,38L64,31L73,30L75,39L71,46Z" fill="#393939"/><path d="M188,119L196,121L198,125L191,129L187,125Z" fill="#282828"/><path d="M46,75L44,65L50,60L58,64L57,76Z" fill="#2e2e2e"/><path d="M321,98L321,105L317,109L310,107L311,98Z" fill="#333333"/><path d="M105,68L103,61L112,55L120,61L114,71Z" fill="#4a4a4a"/><path d="M41,134L48,130L53,135L50,141L43,141Z" fill="#2b2b2b"/><path d="M230,138L236,138L244,144L240,149L229,148Z" fill="#646464"/><path d="M197,-2L201,1L198,7L195,8L191,2L192,-3Z" fill="#575757"/><path d="M293,157L291,144L299,139L307,151L302,159Z" fill="#4a4a4a"/><path d="M16,159L13,152L19,147L28,153L22,160Z" fill="#454545"/><path d="M81,138L75,139L71,130L76,128L83,133Z" fill="#454545"/><path d="M142,52L147,59L139,63L133,54Z" fill="#292929"/><path d="M27,90L27,85L39,78L43,83L47,91L36,96Z" fill="#4b4b4b"/><path d="M313,59L312,64L304,66L302,60L304,54Z" fill="#424242"/><path d="M204,20L213,19L215,25L211,29L204,27Z" fill="#2b2b2b"/><path d="M174,0L182,-3L190,2L188,13L182,16L172,9Z" fill="#545454"/><path d="M91,97L84,108L78,106L71,96L78,92L84,91Z" fill="#2f2f2f"/><path d="M104,97L94,102L86,93L87,86L99,85Z" fill="#323232"/><path d="M10,34L8,39L-1,39L-3,31L1,26L9,27Z" fill="#313131"/><path d="M238,22L240,30L227,34L227,23Z" fill="#333333"/><path d="M280,-5L286,-8L291,-5L291,2L283,5Z" fill="#2e2e2e"/><path d="M148,77L141,69L139,65L150,61L155,67L152,73Z" fill="#393939"/><path d="M293,113L287,108L288,103L293,101L298,105L297,112Z" fill="#454545"/><path d="M259,148L261,156L248,159L245,153L252,145Z" fill="#545454"/><path d="M212,84L206,86L201,79L205,73L210,76Z" fill="#282828"/><path d="M166,34L158,33L155,24L161,21L168,25Z" fill="#313131"/><path d="M227,85L237,88L237,93L230,98L225,92Z" fill="#343434"/><path d="M9,119L1,120L-2,112L7,107L12,111Z" fill="#383838"/><path d="M154,119L156,113L166,114L166,120L160,125Z" fill="#343434"/><path d="M112,57L102,54L104,45L116,46Z" fill="#4e4e4e"/><path d="M177,28L177,22L180,18L187,19L188,24L183,29Z" fill="#2f2f2f"/><path d="M79,75L74,81L67,78L70,70Z" fill="#343434"/><path d="M223,116L229,113L236,116L231,125L222,123Z" fill="#575757"/><path d="M268,11L263,8L266,-4L273,-6L278,1L278,7Z" fill="#2d2d2d"/><path d="M35,35L29,41L18,38L22,29L29,27Z" fill="#313131"/><path d="M101,119L106,120L113,124L110,135L103,135L95,130Z" fill="#545454"/><path d="M101,59L96,65L90,63L89,55L97,52Z" fill="#464646"/><path d="M25,9L21,10L18,6L19,1L23,-2L28,3Z" fill="#303030"/><path d="M116,148L114,156L105,157L101,153L103,146L111,144Z" fill="#484848"/><path d="M283,51L281,44L291,45L291,52Z" fill="#4c4c4c"/><path d="M109,144L125,148L121,158L107,155Z" fill="#3b3b3b"/><path d="M9,154L11,145L19,146L16,154Z" fill="#797979"/><path d="M134,38L134,34L145,33L146,38L141,44Z" fill="#3b3b3b"/><path d="M66,159L65,165L54,165L55,159L60,155Z" fill="#3a3a3a"/><path d="M237,94L239,82L248,82L250,90L248,96Z" fill="#292929"/><path d="M89,27L95,26L97,34L91,36L86,30Z" fill="#2a2a2a"/><path d="M276,93L267,93L264,81L276,79Z" fill="#292929"/><path d="M119,20L112,23L108,16L112,10L120,14Z" fill="#2a2a2a"/><path d="M197,75L202,81L194,88L186,84L189,74Z" fill="#2a2a2a"/><path d="M300,1L304,-8L315,-7L317,6L308,11Z" fill="#4b4b4b"/><path d="M140,137L143,131L150,134L145,141Z" fill="#494949"/><path d="M222,19L224,26L214,29L208,22L215,14Z" fill="#373737"/><path d="M272,12L280,24L273,28L265,30L261,23L266,14Z" fill="#646464"/><path d="M199,73L209,68L212,77L202,80Z" fill="#383838"/><path d="M93,17L98,21L95,31L89,28L86,20Z" fill="#363636"/><path d="M53,62L58,67L57,73L52,77L47,74L47,65Z" fill="#5b5b5b"/><path d="M77,114L71,125L62,120L63,108L75,107Z" fill="#565656"/><path d="M279,25L278,35L266,39L265,26Z" fill="#2a2a2a"/><path d="M160,79L152,87L146,81L150,72Z" fill="#3a3a3a"/><path d="M8,71L3,67L5,61L11,62L14,65L13,69Z" fill="#464646"/><path d="M48,129L45,136L39,135L41,125Z" fill="#3b3b3b"/><path d="M41,45L40,52L33,55L27,50L32,44Z" fill="#525252"/><path d="M311,4L317,9L313,15L305,11Z" fill="#4b4b4b"/><path d="M285,47L289,40L294,39L297,46L294,50L289,50Z" fill="#494949"/><path d="M271,85L282,82L288,92L274,94Z" fill="#2d2d2d"/><path d="M154,44L154,39L160,34L167,36L165,44L159,47Z" fill="#535353"/><path d="M50,46L60,46L62,56L56,62L44,54Z" fill="#323232"/><path d="M324,131L327,138L320,147L314,142L313,131Z" fill="#343434"/><path d="M307,39L308,32L314,31L317,35L313,39Z" fill="#474747"/><path d="M114,10L107,15L103,11L104,4L113,4Z" fill="#777777"/><path d="M169,96L173,102L171,112L162,112L156,103L158,97Z" fill="#7b7b7b"/><path d="M51,37L55,32L61,33L62,40L58,41Z" fill="#2f2f2f"/><path d="M74,43L83,44L86,49L80,56L76,55L72,47Z" fill="#393939"/><path d="M28,47L15,43L15,37L27,31L33,36Z" fill="#3a3a3a"/><path d="M16,127L12,116L20,109L28,116L25,127Z" fill="#2e2e2e"/><path d="M142,114L136,117L129,117L128,107L134,105L142,107Z" fill="#696969"/><path d="M85,160L77,158L76,154L77,147L83,146L89,154Z" fill="#656565"/><path d="M221,117L230,119L232,128L226,133L217,126Z" fill="#6c6c6c"/><path d="M216,155L222,153L226,156L226,163L218,163L214,161Z" fill="#333333"/><path d="M242,89L249,96L242,102L236,96Z" fill="#4e4e4e"/><path d="M277,129L283,132L281,141L275,143L273,134Z" fill="#414141"/><path d="M194,20L188,25L179,14L184,8L193,9Z" fill="#4c4c4c"/><path d="M197,17L205,18L213,24L210,31L200,36L194,25Z" fill="#484848"/><path d="M307,57L300,55L300,46L308,44L312,52Z" fill="#444444"/><path d="M11,123L17,129L10,138L5,127Z" fill="#707070"/><path d="M223,48L226,43L232,43L232,52L228,55Z" fill="#2a2a2a"/><path d="M4,44L-10,41L-5,30L7,33Z" fill="#3a3a3a"/><path d="M82,117L89,115L95,125L89,128L82,125Z" fill="#303030"/><path d="M263,59L264,48L276,51L272,59Z" fill="#535353"/><path d="M201,106L201,114L194,118L191,114L189,109L196,104Z" fill="#2f2f2f"/><path d="M236,101L246,100L252,107L245,113L238,114L235,108Z" fill="#303030"/><path d="M127,13L124,18L119,19L114,14L118,7L124,8Z" fill="#525252"/><path d="M142,98L143,112L130,111L130,97Z" fill="#383838"/><path d="M55,40L61,35L67,45L59,50Z" fill="#4e4e4e"/><path d="M234,23L238,18L248,16L254,23L248,35L239,33Z" fill="#313131"/><path d="M247,52L249,57L241,61L236,55L239,51Z" fill="#515151"/><path d="M271,102L261,106L258,101L262,94L269,95Z" fill="#2e2e2e"/><path d="M303,37L297,34L299,25L306,26L310,30Z" fill="#353535"/><path d="M267,12L275,23L272,30L258,26L257,18Z" fill="#343434"/><path d="M299,51L304,56L303,62L294,63L293,55Z" fill="#3b3b3b"/><path d="M163,83L155,85L149,74L155,70L165,74Z" fill="#2f2f2f"/><path d="M30,91L28,86L38,84L38,91Z" fill="#494949"/><path d="M296,49L296,57L290,57L287,52L292,47Z" fill="#353535"/><path d="M-5,-4L7,-3L12,5L3,11L-3,12L-8,2Z" fill="#515151"/><path d="M28,138L19,135L21,125L30,122L36,130Z" fill="#393939"/><path d="M182,145L175,142L172,136L179,129L185,131L188,139Z" fill="#414141"/><path d="M202,113L199,121L187,120L187,112L192,105Z" fill="#292929"/><path d="M226,31L235,36L235,43L225,47L222,39Z" fill="#474747"/><path d="M185,54L191,48L198,54L195,58Z" fill="#303030"/><path d="M139,70L143,73L141,78L137,80L133,77L133,71Z" fill="#333333"/><path d="M56,11L65,21L59,30L48,26L50,15Z" fill="#484848"/><path d="M317,43L314,52L307,55L301,48L304,39L311,39Z" fill="#545454"/><path d="M83,6L92,12L89,20L83,20L75,14L77,8Z" fill="#6a6a6a"/><path d="M196,95L194,99L184,101L181,97L185,89L189,87Z" fill="#282828"/><path d="M155,141L162,136L166,145L159,149Z" fill="#424242"/><path d="M118,86L118,81L126,82L127,85L124,91Z" fill="#636363"/><path d="M70,7L81,11L77,21L68,25L64,14Z" fill="#383838"/><path d="M181,117L172,113L172,106L180,105L183,110Z" fill="#444444"/><path d="M212,8L218,-2L227,4L226,15L219,15Z" fill="#353535"/><path d="M294,152L299,148L306,154L303,160L295,158Z" fill="#2c2c2c"/><path d="M212,147L212,141L216,137L220,140L221,145L216,149Z" fill="#2b2b2b"/><path d="M256,91L262,84L268,87L269,95L262,98Z" fill="#2f2f2f"/><path d="M14,29L22,40L14,45L6,35Z" fill="#333333"/><path d="M28,79L27,86L20,86L15,81L20,76Z" fill="#565656"/><path d="M260,135L248,135L247,124L255,120L265,130Z" fill="#484848"/><path d="M183,67L184,73L178,76L175,67Z" fill="#414141"/><path d="M34,22L39,18L47,18L49,25L46,32L38,31Z" fill="#3b3b3b"/><path d="M162,63L172,68L170,76L158,76L158,68Z" fill="#383838"/><path d="M153,6L147,11L139,10L136,2L142,-4L149,-1Z" fill="#676767"/><path d="M242,-2L240,7L228,5L226,-5L234,-11L241,-10Z" fill="#727272"/><path d="M125,124L126,116L139,116L137,129Z" fill="#6b6b6b"/><path d="M257,-3L251,3L243,-1L244,-8L249,-13Z" fill="#505050"/><path d="M299,113L292,122L284,118L283,108L289,105Z" fill="#636363"/><path d="M270,161L262,156L262,147L271,144L277,149L278,158Z" fill="#3c3c3c"/><path d="M47,115L35,114L33,104L49,105Z" fill="#2c2c2c"/><path d="M84,115L79,116L76,105L84,101L89,106Z" fill="#3b3b3b"/><path d="M141,69L138,58L145,53L153,56L152,65Z" fill="#2d2d2d"/><path d="M301,6L297,-1L300,-6L306,-4L307,3Z" fill="#2b2b2b"/><path d="M221,109L229,102L237,107L233,118L223,117Z" fill="#353535"/><path d="M36,150L41,149L45,154L42,158L37,158Z" fill="#515151"/><path d="M68,42L63,32L68,29L77,30L77,36L73,42Z" fill="#525252"/><path d="M6,83L0,89L-7,82L-7,75L-1,69L9,75Z" fill="#4b4b4b"/><path d="M25,115L33,112L36,119L33,125L24,126L22,118Z" fill="#7b7b7b"/><path d="M149,36L158,43L157,51L146,55L142,42Z" fill="#333333"/><path d="M172,121L182,123L182,133L178,135L169,133L167,127Z" fill="#3c3c3c"/><path d="M28,82L16,76L18,66L25,65L31,74Z" fill="#4e4e4e"/><path d="M195,49L195,43L204,41L206,48L200,53Z" fill="#383838"/><path d="M138,-9L145,-7L145,-1L137,3L134,-5Z" fill="#383838"/><path d="M193,45L187,47L182,38L184,33L195,34L196,42Z" fill="#787878"/><path d="M93,114L91,123L87,126L79,120L80,115L88,110Z" fill="#505050"/><path d="M260,125L272,124L270,136L260,135Z" fill="#555555"/><path d="M114,107L127,104L130,115L116,119Z" fill="#474747"/><path d="M265,82L268,72L274,74L272,82Z" fill="#2f2f2f"/><path d="M244,128L232,123L238,113L250,120Z" fill="#2b2b2b"/><path d="M53,148L56,140L67,144L65,151L57,155Z" fill="#505050"/><path d="M77,62L71,63L67,60L71,53L77,55Z" fill="#2f2f2f"/><path d="M4,129L-2,131L-5,127L-2,121L3,122Z" fill="#373737"/><path d="M197,18L204,21L202,27L197,29L194,23Z" fill="#2a2a2a"/><path d="M74,70L75,62L82,60L91,64L92,71L82,74Z" fill="#393939"/><path d="M34,25L27,25L23,19L30,14L36,18Z" fill="#373737"/><path d="M211,5L206,15L197,16L192,9L198,1L206,-2Z" fill="#4d4d4d"/><path d="M29,9L36,10L38,16L31,22L24,16Z" fill="#353535"/><path d="M235,-3L235,-8L243,-7L244,-2L241,2Z" fill="#373737"/><path d="M88,83L95,83L96,88L90,93L86,89Z" fill="#4f4f4f"/><path d="M119,92L121,100L117,107L107,104L107,100L111,92Z" fill="#2a2a2a"/><path d="M254,37L250,25L259,20L266,26L264,37Z" fill="#454545"/><path d="M232,106L243,105L247,115L238,120L233,116Z" fill="#525252"/><path d="M104,112L98,111L94,107L101,102L105,104Z" fill="#2b2b2b"/><path d="M17,-1L22,10L11,14L6,3Z" fill="#333333"/><path d="M26,96L18,99L16,94L20,88L27,91Z" fill="#515151"/><path d="M55,4L58,10L54,19L48,18L42,11L46,6Z" fill="#454545"/><path d="M133,55L130,64L119,62L120,52Z" fill="#333333"/><path d="M114,87L107,94L98,90L101,79L106,77Z" fill="#565656"/><path d="M156,24L151,21L151,16L156,12L161,15L160,22Z" fill="#343434"/><path d="M165,67L162,76L153,78L149,71L157,64Z" fill="#6a6a6a"/><path d="M178,156L171,153L170,147L174,143L181,150Z" fill="#3a3a3a"/><path d="M22,109L15,102L19,95L26,97L29,104Z" fill="#434343"/><path d="M158,44L166,48L162,59L152,53Z" fill="#363636"/><path d="M110,86L119,83L123,92L120,100L110,96Z" fill="#2e2e2e"/><path d="M268,17L258,12L262,5L272,8Z" fill="#2a2a2a"/><path d="M81,130L86,129L91,136L87,139L82,139Z" fill="#313131"/><path d="M102,119L99,107L109,102L117,107L109,118Z" fill="#2c2c2c"/><path d="M219,89L216,96L208,101L201,92L206,84Z" fill="#323232"/><path d="M227,147L219,141L223,132L232,137Z" fill="#343434"/><path d="M130,124L133,132L127,135L120,130L123,124Z" fill="#343434"/><path d="M55,72L61,78L59,86L47,86L44,79Z" fill="#363636"/><path d="M257,127L251,113L261,108L268,120Z" fill="#434343"/><path d="M175,151L182,154L184,160L177,169L172,165L168,160Z" fill="#555555"/><path d="M153,121L157,121L157,130L155,132L147,130L147,124Z" fill="#353535"/><path d="M254,93L261,96L258,107L252,104Z" fill="#353535"/><path d="M12,37L13,33L20,28L26,30L27,38L21,42Z" fill="#383838"/><path d="M171,55L164,63L154,58L159,46Z" fill="#676767"/><path d="M277,71L280,59L292,63L288,74Z" fill="#4e4e4e"/><path d="M28,61L39,60L46,69L36,76L26,73Z" fill="#5b5b5b"/><path d="M281,107L275,108L273,100L277,97L282,99L283,103Z" fill="#313131"/><path d="M206,106L202,101L203,97L212,95L214,100L212,103Z" fill="#7b7b7b"/><path d="M22,42L18,56L7,51L8,41Z" fill="#4f4f4f"/><path d="M236,84L236,94L225,100L220,92L224,82Z" fill="#595959"/><path d="M73,143L78,139L87,141L87,148L80,149Z" fill="#3a3a3a"/><path d="M243,60L241,69L236,70L232,61L237,56Z" fill="#292929"/><path d="M92,16L95,22L84,27L78,21L82,12Z" fill="#6f6f6f"/><path d="M319,109L318,115L312,118L308,113L312,108Z" fill="#2e2e2e"/><path d="M276,10L287,8L289,15L283,20L277,16Z" fill="#666666"/><path d="M64,90L58,81L68,77L71,87Z" fill="#787878"/><path d="M3,75L12,76L12,85L2,84Z" fill="#555555"/><path d="M137,58L141,52L149,53L148,61L143,62Z" fill="#434343"/><path d="M245,139L255,139L257,150L244,155Z" fill="#686868"/><path d="M120,3L113,0L114,-7L121,-8L125,-4Z" fill="#323232"/><path d="M95,72L93,67L100,60L107,61L107,69L103,75Z" fill="#414141"/><path d="M0,154L0,147L6,144L11,148L10,154L5,155Z" fill="#595959"/><path d="M211,127L206,123L208,117L216,118L217,125Z" fill="#333333"/><path d="M214,-1L221,-2L231,4L229,9L218,15L212,7Z" fill="#333333"/><path d="M124,42L114,42L112,30L121,28L129,36Z" fill="#7b7b7b"/><path d="M59,89L54,93L46,93L43,84L51,81Z" fill="#6c6c6c"/><path d="M257,138L248,137L247,127L257,124L262,130Z" fill="#2a2a2a"/><path d="M207,59L198,62L195,58L196,52L201,51L206,53Z" fill="#444444"/><path d="M104,46L98,53L90,45L98,40Z" fill="#2d2d2d"/><path d="M60,107L63,117L54,120L46,114L52,104Z" fill="#2a2a2a"/><path d="M21,129L32,131L29,142L18,140Z" fill="#505050"/><path d="M80,82L80,92L72,95L65,89L69,79Z" fill="#666666"/><path d="M81,31L89,38L90,47L81,50L73,47L71,40Z" fill="#5a5a5a"/><path d="M207,71L215,65L222,65L223,77L218,79L211,76Z" fill="#373737"/><path d="M288,41L276,46L272,40L272,31L282,28L288,32Z" fill="#424242"/><path d="M129,150L135,153L137,158L130,162L126,156Z" fill="#313131"/><path d="M55,-5L59,2L53,7L46,8L44,2L50,-7Z" fill="#414141"/><path d="M7,-1L12,-1L13,8L11,10L5,10L2,2Z" fill="#3a3a3a"/><path d="M282,123L286,118L293,120L296,128L292,131L287,131Z" fill="#303030"/><path d="M48,136L40,131L40,124L51,123L55,129Z" fill="#484848"/><path d="M261,86L253,88L249,79L258,77Z" fill="#585858"/><path d="M200,165L195,168L185,162L189,153L200,154Z" fill="#282828"/><path d="M149,17L153,27L147,30L140,30L135,19L139,13Z" fill="#292929"/><path d="M16,80L16,70L26,70L25,78Z" fill="#3b3b3b"/><path d="M123,127L128,126L132,134L123,135Z" fill="#383838"/><path d="M63,4L58,-5L66,-13L77,-6L78,0L67,6Z" fill="#363636"/><path d="M319,95L312,91L315,83L323,81L325,91Z" fill="#292929"/><path d="M79,-7L87,-9L94,-4L89,2L84,2Z" fill="#333333"/><path d="M246,43L248,37L253,38L255,41L249,47Z" fill="#5b5b5b"/><path d="M169,23L177,16L184,28L172,31Z" fill="#323232"/><path d="M114,95L121,89L129,98L123,109L113,106Z" fill="#6d6d6d"/><path d="M117,41L119,36L127,39L125,46L119,47Z" fill="#484848"/><path d="M34,85L33,73L40,72L47,77L45,87Z" fill="#484848"/><path d="M196,105L203,105L204,111L198,114L195,109Z" fill="#686868"/><path d="M5,100L0,109L-8,107L-11,94L-2,93Z" fill="#323232"/><path d="M218,77L228,72L234,81L223,86Z" fill="#545454"/><path d="M226,55L230,68L223,71L217,60Z" fill="#2a2a2a"/><path d="M177,44L185,52L179,60L172,59L170,48Z" fill="#323232"/><path d="M269,69L261,68L258,65L260,58L268,59L272,63Z" fill="#7b7b7b"/><path d="M100,71L92,78L86,72L88,61L97,60Z" fill="#353535"/><path d="M253,123L245,122L246,115L255,116Z" fill="#373737"/><path d="M307,10L307,20L294,22L294,11Z" fill="#494949"/><path d="M8,21L2,23L-2,15L2,9L9,12Z" fill="#303030"/><path d="M62,54L59,44L69,41L73,52Z" fill="#333333"/><path d="M215,8L211,13L206,8L208,1L213,2Z" fill="#373737"/><path d="M65,99L66,112L56,111L56,99Z" fill="#444444"/><path d="M266,130L264,122L272,121L275,124L271,131Z" fill="#3a3a3a"/><path d="M155,88L159,85L165,89L163,94L155,93Z" fill="#2c2c2c"/><path d="M119,57L119,51L127,47L129,54L127,59Z" fill="#373737"/><path d="M250,27L243,29L239,23L242,18L250,17Z" fill="#4d4d4d"/><path d="M283,25L288,24L293,29L289,37L283,34Z" fill="#4f4f4f"/><path d="M40,151L37,142L48,136L53,145L47,153Z" fill="#303030"/><path d="M37,66L32,75L21,70L21,60L35,56Z" fill="#2a2a2a"/><path d="M255,73L250,71L248,62L259,65Z" fill="#303030"/><path d="M306,115L296,113L299,100L310,107Z" fill="#5a5a5a"/><path d="M252,141L244,137L244,129L252,127L257,130L259,138Z" fill="#424242"/><path d="M118,34L119,20L129,17L133,24L128,36Z" fill="#515151"/><path d="M282,33L280,46L270,46L267,40L273,30Z" fill="#373737"/><path d="M178,9L184,10L185,20L178,22L174,15Z" fill="#6f6f6f"/><path d="M262,63L269,61L274,68L268,75L261,72Z" fill="#515151"/><path d="M262,149L253,148L252,137L263,134L270,142Z" fill="#595959"/><path d="M124,26L129,30L128,36L121,37L119,29Z" fill="#323232"/><path d="M82,-5L89,3L83,6L77,5L75,-3Z" fill="#575757"/><path d="M173,7L175,-2L184,3L180,10Z" fill="#313131"/><path d="M97,117L90,115L91,107L100,106L104,110Z" fill="#494949"/><path d="M199,62L208,53L215,56L215,68L203,69Z" fill="#464646"/><path d="M122,10L131,5L134,13L128,21L120,17Z" fill="#737373"/><path d="M113,36L110,48L97,40L101,33Z" fill="#2d2d2d"/><path d="M162,73L169,71L175,73L175,82L171,85L162,83Z" fill="#454545"/><path d="M158,20L146,28L140,15L150,10Z" fill="#5c5c5c"/><path d="M121,83L122,91L113,95L107,89L113,80Z" fill="#2c2c2c"/><path d="M286,105L287,94L299,95L302,107L296,110Z" fill="#797979"/><path d="M253,48L264,43L271,49L263,61L254,55Z" fill="#303030"/><path d="M-4,82L6,81L8,92L4,95L-6,91Z" fill="#2d2d2d"/><path d="M46,151L50,144L56,146L59,150L55,156L48,154Z" fill="#2b2b2b"/><path d="M216,142L203,142L208,132L216,134Z" fill="#373737"/><path d="M101,11L96,8L96,-1L102,-2L108,3Z" fill="#585858"/><path d="M271,102L274,113L263,114L262,104Z" fill="#2f2f2f"/><path d="M177,35L188,26L196,32L185,42Z" fill="#4c4c4c"/><path d="M102,140L100,135M101,23L99,15M22,62L27,59M110,69L123,69M151,139L143,136M68,84L74,82M61,104L70,97M270,138L276,142M157,13L156,6M11,61L18,65M34,147L28,150M232,132L238,135M122,149L128,155M306,54L307,48M219,148L207,154M192,151L188,145M163,152L166,158M160,1L153,-1M14,135L19,131M307,20L313,18M187,84L187,92M142,9L154,10M39,87L36,76M227,90L216,89M65,0L59,1M188,54L201,53M161,99L156,93M172,94L181,87M181,68L173,72M164,113L175,106M62,121L62,128M59,34L62,26M65,125L69,120M88,60L79,56M43,104L46,99M10,136L1,139M62,151L58,145M243,21L232,21M88,53L92,44M122,47L128,42M78,158L73,159M142,87L153,85M31,7L24,12M266,62L268,57M316,140L311,148M242,-1L247,2M312,125L310,117M87,81L83,85M307,121L304,127M231,73L234,69M92,143L92,150M180,27L184,34M5,144L13,143M72,144L62,143M159,63L152,63M282,72L291,69M25,146L31,148M280,139L284,129M68,55L61,64M41,39L36,32M57,-1L63,4M161,97L163,92M313,76L313,69M46,58L36,56M195,62L198,70M265,80L274,91M23,3L24,-3M228,145L232,139M144,166L139,161M57,99L54,92M41,99L44,105M282,128L268,125M242,47L241,39M250,154L254,146M158,144L164,150M304,67L301,73M293,95L291,86M181,131L187,129M160,38L168,31M212,42L220,52M126,1L121,-7M326,153L330,161M39,19L34,20M109,21L117,24M254,43L256,38M70,120L79,109M224,104L216,109M141,29L149,29M66,77L63,73M227,31L217,19M43,41L43,55M139,136L152,134M292,66L296,73M307,75L315,78M276,5L271,14M188,109L173,110M22,17L30,22M228,56L235,51M288,147L289,154M139,38L130,37M228,63L224,67M98,11L109,10M141,137L132,149M224,64L234,66M103,92L110,86M171,129L176,134M205,27L212,21M228,107L220,104M12,109L6,107M195,153L207,157M134,114L142,103M296,137L303,144M229,45L222,47M196,97L204,91M132,113L142,109M8,64L-2,62M282,151L294,149M179,148L177,139M122,61L123,71M222,19L226,23M56,114L64,118M155,9L155,21M-1,52L5,39M30,126L32,122M267,-6L271,1M291,18L289,29M288,114L284,121M253,80L246,77M286,90L295,88M300,7L298,18M133,150L137,141M303,134L313,139M47,34L53,35M259,27L256,30M210,161L211,155M310,77L307,82M115,115L121,116M155,99L148,105M185,130L181,126M292,88L300,81M120,89L132,86M162,122L174,126M240,156L240,164M72,18L84,20M100,151L108,153M194,60L188,64M162,36L156,40M213,138L210,147M98,126L107,127M105,37L94,39M292,23L295,17M215,46L201,45M91,99L99,101M135,78L143,83M292,51L285,45M106,142L107,147M22,150L12,146M261,62L260,73M8,29L12,18M196,4L201,-1M203,112L208,107M71,46L63,43M187,125L188,119M44,65L50,60M317,109L310,107M105,68L103,61M41,134L48,130M230,138L236,138M197,-2L201,1M307,151L302,159M22,160L16,159M83,133L81,138M142,52L147,59M27,85L39,78M312,64L304,66M213,19L215,25M182,-3L190,2M78,92L84,91M99,85L104,97M9,27L10,34M227,23L238,22M283,5L280,-5M150,61L155,67M288,103L293,101M252,145L259,148M206,86L201,79M161,21L168,25M237,88L237,93M9,119L1,120M154,119L156,113M104,45L116,46M183,29L177,28M74,81L67,78M236,116L231,125M278,7L268,11M29,41L18,38M110,135L103,135M90,63L89,55M21,10L18,6M105,157L101,153M291,45L291,52M107,155L109,144M11,145L19,146M145,33L146,38M65,165L54,165M239,82L248,82M89,27L95,26M264,81L276,79M120,14L119,20M194,88L186,84M304,-8L315,-7M143,131L150,134M222,19L224,26M280,24L273,28M202,80L199,73M95,31L89,28M53,62L58,67M62,120L63,108M266,39L265,26M160,79L152,87M3,67L5,61M48,129L45,136M33,55L27,50M317,9L313,15M285,47L289,40M288,92L274,94M159,47L154,44M44,54L50,46M320,147L314,142M317,35L313,39M104,4L113,4M169,96L173,102M51,37L55,32M74,43L83,44M33,36L28,47M16,127L12,116M136,117L129,117M83,146L89,154M221,117L230,119M216,155L222,153M242,102L236,96M281,141L275,143M194,20L188,25M213,24L210,31M308,44L312,52M10,138L5,127M223,48L226,43M7,33L4,44M82,117L89,115M276,51L272,59M191,114L189,109M245,113L238,114M119,19L114,14M143,112L130,111M59,50L55,40M238,18L248,16M239,51L247,52M271,102L261,106M306,26L310,30M257,18L267,12M299,51L304,56M163,83L155,85M38,84L38,91M296,57L290,57M7,-3L12,5M19,135L21,125M179,129L185,131M192,105L202,113M222,39L226,31M195,58L185,54M133,77L133,71M59,30L48,26M307,55L301,48M75,14L77,8M189,87L196,95M155,141L162,136M118,86L118,81M70,7L81,11M172,113L172,106M212,8L218,-2M303,160L295,158M212,147L212,141M262,84L268,87M6,35L14,29M15,81L20,76M260,135L248,135M178,76L175,67M47,18L49,25M158,76L158,68M136,2L142,-4M242,-2L240,7M125,124L126,116M244,-8L249,-13M289,105L299,113M271,144L277,149M35,114L33,104M79,116L76,105M145,53L153,56M306,-4L307,3M237,107L233,118M41,149L45,154M63,32L68,29M-7,82L-7,75M33,112L36,119M149,36L158,43M172,121L182,123M28,82L16,76M206,48L200,53M145,-1L137,3M196,42L193,45M80,115L88,110M272,124L270,136M130,115L116,119M268,72L274,74M250,120L244,128M67,144L65,151M77,55L77,62M-2,131L-5,127M202,27L197,29M82,74L74,70M23,19L30,14M197,16L192,9M24,16L29,9M235,-3L235,-8M95,83L96,88M119,92L121,100M254,37L250,25M247,115L238,120M98,111L94,107M11,14L6,3M27,91L26,96M55,4L58,10M130,64L119,62M114,87L107,94M161,15L160,22M157,64L165,67M171,153L170,147M19,95L26,97M158,44L166,48M119,83L123,92M268,17L258,12M86,129L91,136M109,102L117,107M206,84L219,89M219,141L223,132M123,124L130,124M55,72L61,78M268,120L257,127M184,160L177,169M157,130L155,132M254,93L261,96M27,38L21,42M154,58L159,46M280,59L292,63M39,60L46,69M277,97L282,99M212,95L214,100M18,56L7,51M236,84L236,94M78,139L87,141M236,70L232,61M84,27L78,21M308,113L312,108M287,8L289,15M64,90L58,81M12,85L2,84M149,53L148,61M245,139L255,139M125,-4L120,3M93,67L100,60M11,148L10,154M217,125L211,127M231,4L229,9M112,30L121,28M54,93L46,93M257,124L262,130M207,59L198,62M104,46L98,53M52,104L60,107M18,140L21,129M65,89L69,79M90,47L81,50M215,65L222,65M282,28L288,32M137,158L130,162M46,8L44,2M13,8L11,10M292,131L287,131M55,129L48,136M253,88L249,79M195,168L185,162M139,13L149,17M25,78L16,80M123,135L123,127M78,0L67,6M312,91L315,83M89,2L84,2M249,47L246,43M172,31L169,23M123,109L113,106M125,46L119,47M34,85L33,73M203,105L204,111M5,100L0,109M228,72L234,81M230,68L223,71M172,59L170,48M261,68L258,65M97,60L100,71M245,122L246,115M294,11L307,10M8,21L2,23M62,54L59,44M206,8L208,1M56,99L65,99M275,124L271,131M155,93L155,88M119,51L127,47M239,23L242,18M289,37L283,34M53,145L47,153M21,60L35,56M248,62L259,65M310,107L306,115M244,137L244,129M129,17L133,24M273,30L282,33M185,20L178,22M262,63L269,61M263,134L270,142M129,30L128,36M83,6L77,5M173,7L175,-2M104,110L97,117M199,62L208,53M131,5L134,13M97,40L101,33M162,83L162,73M158,20L146,28M113,80L121,83M296,110L286,105M254,55L253,48M-6,91L-4,82M50,144L56,146M203,142L208,132M96,-1L102,-2M262,104L271,102M177,35L188,26" fill="none" stroke="#848484" stroke-width="1.1" opacity="0.8"/></g></g>
<polygon points="1065.5,464.0 1356.0,464.0 1356.0,512.0 1330.0,515.0 1300.0,513.0 1270.0,516.0 1250.0,513.0 1220.0,515.0 1194.0,514.0 1160.0,516.0 1130.0,515.5 1100.0,517.0 1065.5,516.0" fill="#e4e4e4"/>
<polygon points="1065.5,464.0 1356.0,464.0 1356.0,512.0 1330.0,515.0 1300.0,513.0 1270.0,516.0 1250.0,513.0 1220.0,515.0 1194.0,514.0 1160.0,516.0 1130.0,515.5 1100.0,517.0 1065.5,516.0" fill="#808080" filter="url(#t5a)" opacity="0.45"/>
<g filter="url(#b1_5)"><g transform="translate(1190,466)"><path d="M93,42L106,36L117,38L111,47Z" fill="#464646"/><path d="M64,7L47,11L37,6L44,2L61,1Z" fill="#7a7a7a"/><path d="M36,16L30,20L17,19L20,15L36,13Z" fill="#868686"/><path d="M162,4L168,-1L177,-1L179,3L173,6L166,5Z" fill="#626262"/><path d="M52,15L49,9L61,9L63,14Z" fill="#626262"/><path d="M-5,12L-3,7L6,4L14,6L7,12Z" fill="#727272"/><path d="M79,34L86,30L94,33L98,39L85,40Z" fill="#7b7b7b"/><path d="M71,40L80,39L89,43L82,46L74,44Z" fill="#787878"/><path d="M36,16L50,15L50,19L43,23L33,22L31,18Z" fill="#646464"/><path d="M172,26L174,31L164,32L160,27Z" fill="#636363"/><path d="M148,26L149,33L135,31L135,24Z" fill="#666666"/><path d="M134,7L136,4L144,3L151,5L150,9L140,10Z" fill="#7b7b7b"/><path d="M29,24L21,27L10,24L20,20Z" fill="#616161"/><path d="M26,29L19,35L10,34L19,28Z" fill="#535353"/><path d="M135,1L144,-1L149,2L143,6L135,5Z" fill="#4f4f4f"/><path d="M171,23L162,22L153,17L156,12L167,14L176,18Z" fill="#797979"/><path d="M29,0L13,4L12,-1L25,-4Z" fill="#646464"/><path d="M125,21L123,17L132,14L144,14L145,17L136,23Z" fill="#848484"/><path d="M100,33L112,28L124,31L121,39L107,37Z" fill="#828282"/><path d="M89,19L94,16L106,18L110,26L102,26L88,23Z" fill="#565656"/><path d="M86,33L75,31L72,26L81,26L90,30Z" fill="#525252"/><path d="M175,18L176,17L185,13L189,16L190,19L184,20Z" fill="#484848"/><path d="M96,28L84,27L80,24L86,20L95,24Z" fill="#787878"/><path d="M168,14L166,8L178,6L183,9L181,13Z" fill="#616161"/><path d="M-5,1L-8,-3L-1,-5L7,-2L6,2Z" fill="#838383"/><path d="M85,11L79,6L91,3L102,4L101,9Z" fill="#838383"/><path d="M52,35L59,37L60,41L55,42L46,41L45,37Z" fill="#646464"/><path d="M13,27L19,30L20,35L12,37L2,37L-2,32Z" fill="#888888"/><path d="M57,26L61,30L40,35L40,28Z" fill="#505050"/><path d="M78,23L62,22L57,18L65,15L82,14L85,20Z" fill="#929292"/><path d="M112,23L119,21L128,23L122,28L113,28Z" fill="#555555"/><path d="M119,9L112,8L114,3L125,1L128,4Z" fill="#636363"/><path d="M144,46L140,44L146,39L153,40L155,43Z" fill="#5c5c5c"/><path d="M87,-6L99,-10L114,-6L100,0Z" fill="#8b8b8b"/><path d="M52,5L46,2L46,-2L52,-2L60,1L59,5Z" fill="#5d5d5d"/><path d="M14,34L4,29L8,26L16,26L27,30L21,33Z" fill="#535353"/><path d="M19,37L22,30L31,27L45,30L35,38Z" fill="#747474"/><path d="M48,-1L38,-1L33,-5L46,-11L55,-8Z" fill="#919191"/><path d="M90,0L73,2L75,-3L87,-4Z" fill="#737373"/><path d="M176,28L189,30L183,36L172,34Z" fill="#606060"/></g></g>
<path d="M1065.5,519.0 C1076.2,518.9 1108.6,518.8 1130.0,518.5 C1151.4,518.2 1174.0,517.4 1194.0,517.0 C1214.0,516.6 1232.3,516.1 1250.0,516.0 C1267.7,515.9 1282.3,516.7 1300.0,516.5 C1317.7,516.3 1346.7,515.2 1356.0,515.0" fill="none" stroke="#404040" stroke-width="4.0" stroke-linecap="round" stroke-linejoin="round" filter="url(#b1_5)" opacity="0.70"/>
<polygon points="1065.5,516.0 1356.0,514.0 1356.0,534.0 1280.0,526.0 1230.0,530.0 1180.0,548.0 1145.0,556.0 1065.5,548.0" fill="#424242" filter="url(#b2_5)" opacity="0.60"/>
<path d="M1147.0,552.0 C1150.0,551.2 1157.8,549.2 1165.0,547.0 C1172.2,544.8 1181.7,541.6 1190.0,539.0 C1198.3,536.4 1206.7,533.4 1215.0,531.5 C1223.3,529.6 1232.2,528.4 1240.0,527.5 C1247.8,526.6 1256.7,526.2 1262.0,526.0 C1267.3,525.8 1270.3,526.0 1272.0,526.0" fill="none" stroke="#1c1c1c" stroke-width="7.0" stroke-linecap="round" stroke-linejoin="round" filter="url(#b1_5)"/>
<path d="M1060.0,565.0 C1065.0,565.4 1081.5,566.8 1090.0,567.5 C1098.5,568.2 1102.8,568.7 1111.0,569.4 C1119.2,570.1 1130.8,571.6 1139.0,571.5 C1147.2,571.4 1153.2,570.4 1160.0,568.5 C1166.8,566.6 1174.2,562.6 1180.0,560.0 C1185.8,557.4 1190.0,554.6 1195.0,552.6 C1200.0,550.6 1205.3,549.2 1210.0,548.0 C1214.7,546.8 1216.2,545.9 1223.0,545.2 C1229.8,544.5 1241.7,543.7 1251.0,543.6 C1260.3,543.5 1269.7,544.2 1279.0,544.6 C1288.3,545.0 1297.7,545.6 1307.0,546.2 C1316.3,546.8 1326.2,547.5 1335.0,548.2 C1343.8,548.9 1355.8,550.1 1360.0,550.5" fill="none" stroke="#3c3c3c" stroke-width="34.0" stroke-linecap="butt" stroke-linejoin="round" filter="url(#b1_5)"/>
<path d="M1060.0,564.0 C1065.0,564.4 1081.5,565.8 1090.0,566.5 C1098.5,567.2 1102.8,567.7 1111.0,568.4 C1119.2,569.1 1130.8,570.6 1139.0,570.5 C1147.2,570.4 1153.2,569.4 1160.0,567.5 C1166.8,565.6 1174.2,561.6 1180.0,559.0 C1185.8,556.4 1190.0,553.6 1195.0,551.6 C1200.0,549.6 1205.3,548.2 1210.0,547.0 C1214.7,545.8 1216.2,544.9 1223.0,544.2 C1229.8,543.5 1241.7,542.7 1251.0,542.6 C1260.3,542.5 1269.7,543.2 1279.0,543.6 C1288.3,544.0 1297.7,544.6 1307.0,545.2 C1316.3,545.8 1326.2,546.5 1335.0,547.2 C1343.8,547.9 1355.8,549.1 1360.0,549.5" fill="none" stroke="#8c8c8c" stroke-width="31.0" stroke-linecap="butt" stroke-linejoin="round" filter="url(#b05_5)"/>
<path d="M1060.0,558.0 C1065.0,558.4 1081.5,559.8 1090.0,560.5 C1098.5,561.2 1102.8,561.7 1111.0,562.4 C1119.2,563.1 1130.8,564.6 1139.0,564.5 C1147.2,564.4 1153.2,563.4 1160.0,561.5 C1166.8,559.6 1174.2,555.6 1180.0,553.0 C1185.8,550.4 1190.0,547.6 1195.0,545.6 C1200.0,543.6 1205.3,542.2 1210.0,541.0 C1214.7,539.8 1216.2,538.9 1223.0,538.2 C1229.8,537.5 1241.7,536.7 1251.0,536.6 C1260.3,536.5 1269.7,537.2 1279.0,537.6 C1288.3,538.0 1297.7,538.6 1307.0,539.2 C1316.3,539.8 1326.2,540.5 1335.0,541.2 C1343.8,541.9 1355.8,543.1 1360.0,543.5" fill="none" stroke="#989898" stroke-width="14.0" stroke-linecap="butt" stroke-linejoin="round" filter="url(#b4_5)" opacity="0.70"/>
<path d="M1060.0,573.0 C1065.0,573.4 1081.5,574.8 1090.0,575.5 C1098.5,576.2 1102.8,576.7 1111.0,577.4 C1119.2,578.1 1130.8,579.6 1139.0,579.5 C1147.2,579.4 1153.2,578.4 1160.0,576.5 C1166.8,574.6 1174.2,570.6 1180.0,568.0 C1185.8,565.4 1190.0,562.6 1195.0,560.6 C1200.0,558.6 1205.3,557.2 1210.0,556.0 C1214.7,554.8 1216.2,553.9 1223.0,553.2 C1229.8,552.5 1241.7,551.7 1251.0,551.6 C1260.3,551.5 1269.7,552.2 1279.0,552.6 C1288.3,553.0 1297.7,553.6 1307.0,554.2 C1316.3,554.8 1326.2,555.5 1335.0,556.2 C1343.8,556.9 1355.8,558.1 1360.0,558.5" fill="none" stroke="#7e7e7e" stroke-width="10.0" stroke-linecap="butt" stroke-linejoin="round" filter="url(#b2_5)" opacity="0.80"/>
<path d="M1060.0,549.0 C1065.0,549.4 1081.5,550.8 1090.0,551.5 C1098.5,552.2 1102.8,552.7 1111.0,553.4 C1119.2,554.1 1130.8,555.6 1139.0,555.5 C1147.2,555.4 1153.2,554.4 1160.0,552.5 C1166.8,550.6 1174.2,546.6 1180.0,544.0 C1185.8,541.4 1190.0,538.6 1195.0,536.6 C1200.0,534.6 1205.3,533.2 1210.0,532.0 C1214.7,530.8 1216.2,529.9 1223.0,529.2 C1229.8,528.5 1241.7,527.7 1251.0,527.6 C1260.3,527.5 1269.7,528.2 1279.0,528.6 C1288.3,529.0 1297.7,529.6 1307.0,530.2 C1316.3,530.8 1326.2,531.5 1335.0,532.2 C1343.8,532.9 1355.8,534.1 1360.0,534.5" fill="none" stroke="#cdcdcd" stroke-width="1.6" stroke-linecap="butt" stroke-linejoin="round" filter="url(#b05_5)" opacity="0.90"/>
<path d="M1060.0,578.5 C1065.0,578.9 1081.5,580.3 1090.0,581.0 C1098.5,581.7 1102.8,582.2 1111.0,582.9 C1119.2,583.6 1130.8,585.1 1139.0,585.0 C1147.2,584.9 1153.2,583.9 1160.0,582.0 C1166.8,580.1 1174.2,576.1 1180.0,573.5 C1185.8,570.9 1190.0,568.1 1195.0,566.1 C1200.0,564.1 1205.3,562.7 1210.0,561.5 C1214.7,560.3 1216.2,559.4 1223.0,558.7 C1229.8,558.0 1241.7,557.2 1251.0,557.1 C1260.3,557.0 1269.7,557.7 1279.0,558.1 C1288.3,558.5 1297.7,559.1 1307.0,559.7 C1316.3,560.3 1326.2,561.0 1335.0,561.7 C1343.8,562.4 1355.8,563.6 1360.0,564.0" fill="none" stroke="#b2b2b2" stroke-width="1.6" stroke-linecap="butt" stroke-linejoin="round" filter="url(#b05_5)" opacity="0.80"/>
<path d="M1290.0,540.0 C1291.0,539.7 1294.0,538.2 1296.0,538.0 C1298.0,537.8 1301.0,538.8 1302.0,539.0" fill="none" stroke="#afafaf" stroke-width="1.5" stroke-linecap="round" stroke-linejoin="round" filter="url(#b05_5)"/>
<path d="M1255.0,560.0 C1262.5,560.5 1283.2,562.0 1300.0,563.0 C1316.8,564.0 1346.7,565.5 1356.0,566.0" fill="none" stroke="#afafaf" stroke-width="1.5" stroke-linecap="round" stroke-linejoin="round" filter="url(#b1_5)" opacity="0.70"/>
<ellipse cx="1127.0" cy="541.0" rx="20.0" ry="20.0" fill="#222222" filter="url(#b1_5)"/>
<ellipse cx="1123.0" cy="541.3" rx="20.5" ry="20.0" fill="#dedede" filter="url(#b05_5)"/>
<ellipse cx="1118.0" cy="542.0" rx="15.0" ry="17.5" fill="#7c7c7c" transform="rotate(-8.0 1118.0 542.0)" filter="url(#b1_5)"/>
<ellipse cx="1115.0" cy="538.0" rx="6.0" ry="8.0" fill="#646464" filter="url(#b2_5)" opacity="0.80"/>
<ellipse cx="1121.0" cy="551.0" rx="7.0" ry="5.0" fill="#686868" filter="url(#b2_5)" opacity="0.80"/>
<ellipse cx="1120.5" cy="535.0" rx="2.5" ry="3.0" fill="#ebebeb" filter="url(#b05_5)"/>
<polygon points="1116.0,554.0 1128.0,553.0 1125.0,561.0 1119.0,562.0" fill="#e4e4e4" filter="url(#b05_5)"/>
<polygon points="1138.0,558.0 1143.0,551.0 1147.0,557.0 1142.0,561.0" fill="#969696" filter="url(#b05_5)"/>
<polygon points="1108.0,584.0 1125.0,582.0 1140.0,588.0 1158.0,584.0 1156.0,594.0 1135.0,597.0 1118.0,592.0" fill="#888888" filter="url(#b1_5)"/>
<polygon points="1283.0,583.0 1300.0,580.0 1316.0,592.0 1306.0,612.0 1290.0,606.0" fill="#7c7c7c" filter="url(#b1_5)"/>
<path d="M1283.0,583.0 C1285.8,582.5 1294.5,578.5 1300.0,580.0 C1305.5,581.5 1313.3,590.0 1316.0,592.0" fill="none" stroke="#a0a0a0" stroke-width="1.3" stroke-linecap="round" stroke-linejoin="round" filter="url(#b05_5)"/>
<polygon points="1332.0,618.0 1344.0,610.0 1356.0,614.0 1356.0,638.0 1340.0,640.0" fill="#808080" filter="url(#b1_5)"/>
<polygon points="1215.0,585.0 1240.0,580.0 1250.0,592.0 1228.0,600.0" fill="#6c6c6c" filter="url(#b1_5)"/>
<polygon points="1172.0,598.0 1190.0,592.0 1200.0,610.0 1180.0,616.0" fill="#686868" filter="url(#b1_5)"/>
<polygon points="1258.0,566.0 1280.0,568.0 1272.0,590.0 1262.0,584.0" fill="#646464" filter="url(#b1_5)"/>
<polygon points="1200.0,618.0 1222.0,612.0 1230.0,630.0 1208.0,634.0" fill="#646464" filter="url(#b1_5)"/>
<polygon points="1100.0,590.0 1120.0,586.0 1126.0,600.0 1108.0,606.0" fill="#5c5c5c" filter="url(#b1_5)"/>
<polygon points="1245.0,622.0 1262.0,618.0 1268.0,634.0 1250.0,638.0" fill="#606060" filter="url(#b1_5)"/>
<polygon points="1150.0,625.0 1170.0,622.0 1176.0,640.0 1156.0,642.0" fill="#5a5a5a" filter="url(#b1_5)"/>
<polygon points="1075.0,530.0 1090.0,524.0 1098.0,540.0 1082.0,546.0" fill="#606060" filter="url(#b1_5)"/>
<path d="M1065.5,584.0 C1071.2,584.0 1087.6,583.7 1100.0,584.0 C1112.4,584.3 1129.2,586.7 1140.0,586.0 C1150.8,585.3 1160.8,581.0 1165.0,580.0" fill="none" stroke="#3e3e3e" stroke-width="4.0" stroke-linecap="round" stroke-linejoin="round" filter="url(#b2_5)" opacity="0.70"/>
<rect x="1263.0" y="648.2" width="87.4" height="3.7" fill="#f2f2f2" filter="url(#b05_5)"/>
<rect x="1263.0" y="646.1" width="2.5" height="8.5" fill="#f2f2f2" filter="url(#b05_5)"/>
<rect x="1347.9" y="646.1" width="2.5" height="8.5" fill="#f2f2f2" filter="url(#b05_5)"/>
<text x="1270.8" y="642.4" font-family="Liberation Sans, sans-serif" font-size="17" fill="#f0f0f0" textLength="51.8" lengthAdjust="spacingAndGlyphs">100 µm</text>
<rect x="1065.5" y="464.2" width="1.2" height="196.6" fill="#aaaaaa"/>
<rect x="1065.5" y="464.2" width="290.5" height="196.6" fill="#fff" filter="url(#t5g)" opacity="0.16"/>
<rect x="1065.5" y="464.2" width="290.5" height="196.6" fill="#000" filter="url(#t5d)" opacity="0.16"/>
</g><g id="labels" font-family="Liberation Sans, sans-serif" font-size="25" font-weight="bold">
<rect x="168.20" y="20.00" width="133.80" height="48.80" fill="#f2f2f2"/><text transform="translate(185.75,53.0) scale(1.0142,1.05)">Type - X</text>
<rect x="155.90" y="248.85" width="146.20" height="48.65" fill="#f2f2f2"/><text transform="translate(173.34,283.0) scale(1.0204,1.05)">Type - II</text>
<rect x="154.90" y="494.00" width="148.10" height="47.80" fill="#f2f2f2"/><text transform="translate(172.44,527.2) scale(1.0281,1.05)">Type - I</text>
<rect x="1210.10" y="160.10" width="146.00" height="48.70" fill="#f2f2f2"/><text transform="translate(1227.88,193.0) scale(1.0194,1.05)">CMX</text>
<rect x="1065.10" y="461.10" width="128.80" height="48.80" fill="#f2f2f2"/><text transform="translate(1082.11,494.0) scale(1.0256,1.05)">MK-40</text>
</g>
<g id="chart">
<circle cx="465.50" cy="223.70" r="8.00" fill="none" stroke="#c00000" stroke-width="3.50"/>
<circle cx="508.50" cy="269.00" r="8.00" fill="none" stroke="#c00000" stroke-width="3.50"/>
<circle cx="596.20" cy="358.90" r="8.00" fill="none" stroke="#c00000" stroke-width="3.50"/>
<circle cx="684.00" cy="448.20" r="8.00" fill="none" stroke="#c00000" stroke-width="3.50"/>
<circle cx="771.00" cy="538.00" r="8.00" fill="none" stroke="#c00000" stroke-width="3.50"/>
<circle cx="858.00" cy="627.00" r="8.00" fill="none" stroke="#c00000" stroke-width="3.50"/>
<circle cx="465.00" cy="203.00" r="8.00" fill="none" stroke="#c00000" stroke-width="3.50"/>
<circle cx="508.50" cy="228.50" r="8.00" fill="none" stroke="#c00000" stroke-width="3.50"/>
<circle cx="596.20" cy="278.00" r="8.00" fill="none" stroke="#c00000" stroke-width="3.50"/>
<circle cx="683.80" cy="316.80" r="8.00" fill="none" stroke="#c00000" stroke-width="3.50"/>
<circle cx="770.80" cy="355.30" r="8.00" fill="none" stroke="#c00000" stroke-width="3.50"/>
<circle cx="858.00" cy="394.80" r="8.00" fill="none" stroke="#c00000" stroke-width="3.50"/>
<rect x="457.00" y="195.00" width="16.00" height="16.00" rx="0.8" fill="none" stroke="#006400" stroke-width="4.30" stroke-linejoin="round"/>
<rect x="522.60" y="226.20" width="16.00" height="16.00" rx="0.8" fill="none" stroke="#006400" stroke-width="4.30" stroke-linejoin="round"/>
<rect x="631.60" y="340.50" width="16.00" height="16.00" rx="0.8" fill="none" stroke="#006400" stroke-width="4.30" stroke-linejoin="round"/>
<rect x="740.80" y="447.20" width="16.00" height="16.00" rx="0.8" fill="none" stroke="#006400" stroke-width="4.30" stroke-linejoin="round"/>
<rect x="850.00" y="563.50" width="16.00" height="16.00" rx="0.8" fill="none" stroke="#006400" stroke-width="4.30" stroke-linejoin="round"/>
<rect x="457.00" y="195.00" width="16.00" height="16.00" rx="0.8" fill="none" stroke="#006400" stroke-width="4.30" stroke-linejoin="round"/>
<rect x="522.60" y="268.30" width="16.00" height="16.00" rx="0.8" fill="none" stroke="#006400" stroke-width="4.30" stroke-linejoin="round"/>
<rect x="631.60" y="406.40" width="16.00" height="16.00" rx="0.8" fill="none" stroke="#006400" stroke-width="4.30" stroke-linejoin="round"/>
<rect x="740.80" y="516.40" width="16.00" height="16.00" rx="0.8" fill="none" stroke="#006400" stroke-width="4.30" stroke-linejoin="round"/>
<rect x="850.00" y="629.80" width="16.00" height="16.00" rx="0.8" fill="none" stroke="#006400" stroke-width="4.30" stroke-linejoin="round"/>
<path d="M465.00,175.30 L472.10,189.25 L457.90,189.25 Z" fill="none" stroke="#0000ff" stroke-width="3.50" stroke-linejoin="miter"/>
<path d="M509.20,187.30 L516.30,201.25 L502.10,201.25 Z" fill="none" stroke="#0000ff" stroke-width="3.50" stroke-linejoin="miter"/>
<path d="M596.30,221.30 L603.40,235.25 L589.20,235.25 Z" fill="none" stroke="#0000ff" stroke-width="3.50" stroke-linejoin="miter"/>
<path d="M683.80,255.30 L690.90,269.25 L676.70,269.25 Z" fill="none" stroke="#0000ff" stroke-width="3.50" stroke-linejoin="miter"/>
<path d="M770.80,293.80 L777.90,307.75 L763.70,307.75 Z" fill="none" stroke="#0000ff" stroke-width="3.50" stroke-linejoin="miter"/>
<path d="M858.00,333.10 L865.10,347.05 L850.90,347.05 Z" fill="none" stroke="#0000ff" stroke-width="3.50" stroke-linejoin="miter"/>
<path d="M858.00,339.50 L865.10,353.45 L850.90,353.45 Z" fill="none" stroke="#0000ff" stroke-width="3.50" stroke-linejoin="miter"/>
<path d="M465.00,180.60 L473.70,189.00 L465.00,197.40 L456.30,189.00 Z" fill="none" stroke="#7030a0" stroke-width="2.60"/>
<path d="M530.60,199.60 L539.30,208.00 L530.60,216.40 L521.90,208.00 Z" fill="none" stroke="#7030a0" stroke-width="2.60"/>
<path d="M640.00,240.60 L648.70,249.00 L640.00,257.40 L631.30,249.00 Z" fill="none" stroke="#7030a0" stroke-width="2.60"/>
<path d="M749.20,311.20 L757.90,319.60 L749.20,328.00 L740.50,319.60 Z" fill="none" stroke="#7030a0" stroke-width="2.60"/>
<path d="M858.30,365.60 L867.00,374.00 L858.30,382.40 L849.60,374.00 Z" fill="none" stroke="#7030a0" stroke-width="2.60"/>
<path d="M465.40,178.60 L474.30,187.50 L465.40,196.40 L456.50,187.50 Z" fill="none" stroke="#7030a0" stroke-width="3.70"/>
<path d="M530.80,197.10 L539.70,206.00 L530.80,214.90 L521.90,206.00 Z" fill="none" stroke="#7030a0" stroke-width="3.70"/>
<path d="M640.00,237.10 L648.90,246.00 L640.00,254.90 L631.10,246.00 Z" fill="none" stroke="#7030a0" stroke-width="3.70"/>
<path d="M749.20,281.30 L758.10,290.20 L749.20,299.10 L740.30,290.20 Z" fill="none" stroke="#7030a0" stroke-width="3.70"/>
<path d="M858.00,318.60 L866.90,327.50 L858.00,336.40 L849.10,327.50 Z" fill="none" stroke="#7030a0" stroke-width="3.70"/>
<rect x="457.00" y="170.00" width="16.00" height="16.00" fill="url(#hatch)"/><rect x="457.00" y="170.00" width="16.00" height="16.00" rx="0.8" fill="none" stroke="#000" stroke-width="4.30" stroke-linejoin="round"/>
<rect x="522.60" y="182.00" width="16.00" height="16.00" fill="url(#hatch)"/><rect x="522.60" y="182.00" width="16.00" height="16.00" rx="0.8" fill="none" stroke="#000" stroke-width="4.30" stroke-linejoin="round"/>
<rect x="632.00" y="212.00" width="16.00" height="16.00" fill="url(#hatch)"/><rect x="632.00" y="212.00" width="16.00" height="16.00" rx="0.8" fill="none" stroke="#000" stroke-width="4.30" stroke-linejoin="round"/>
<rect x="741.00" y="262.00" width="16.00" height="16.00" fill="url(#hatch)"/><rect x="741.00" y="262.00" width="16.00" height="16.00" rx="0.8" fill="none" stroke="#000" stroke-width="4.30" stroke-linejoin="round"/>
<rect x="850.00" y="306.00" width="16.00" height="16.00" fill="url(#hatch)"/><rect x="850.00" y="306.00" width="16.00" height="16.00" rx="0.8" fill="none" stroke="#000" stroke-width="4.30" stroke-linejoin="round"/>
<rect x="457.00" y="170.30" width="16.00" height="16.00" fill="url(#hatch)"/><rect x="457.00" y="170.30" width="16.00" height="16.00" rx="0.8" fill="none" stroke="#000" stroke-width="4.30" stroke-linejoin="round"/>
<rect x="522.60" y="183.50" width="16.00" height="16.00" fill="url(#hatch)"/><rect x="522.60" y="183.50" width="16.00" height="16.00" rx="0.8" fill="none" stroke="#000" stroke-width="4.30" stroke-linejoin="round"/>
<rect x="632.00" y="222.00" width="16.00" height="16.00" fill="url(#hatch)"/><rect x="632.00" y="222.00" width="16.00" height="16.00" rx="0.8" fill="none" stroke="#000" stroke-width="4.30" stroke-linejoin="round"/>
<rect x="741.00" y="274.50" width="16.00" height="16.00" fill="url(#hatch)"/><rect x="741.00" y="274.50" width="16.00" height="16.00" rx="0.8" fill="none" stroke="#000" stroke-width="4.30" stroke-linejoin="round"/>
<rect x="850.00" y="317.50" width="16.00" height="16.00" fill="url(#hatch)"/><rect x="850.00" y="317.50" width="16.00" height="16.00" rx="0.8" fill="none" stroke="#000" stroke-width="4.30" stroke-linejoin="round"/>
<path d="M465.50,223.70 C530.92,290.92 792.58,559.78 858.00,627.00" fill="none" stroke="#c00000" stroke-width="2.30" stroke-linecap="butt"/>
<path d="M465.00,185.46 C467.73,187.84 475.92,194.92 481.38,199.69 C486.83,204.47 492.29,209.28 497.75,214.12 C503.21,218.96 508.67,223.84 514.12,228.74 C519.58,233.65 525.04,238.58 530.50,243.55 C535.96,248.52 541.42,253.51 546.88,258.54 C552.33,263.57 557.79,268.63 563.25,273.71 C568.71,278.80 574.17,283.91 579.62,289.05 C585.08,294.19 590.54,299.36 596.00,304.56 C601.46,309.76 606.92,314.98 612.38,320.23 C617.83,325.48 623.29,330.76 628.75,336.06 C634.21,341.36 639.67,346.69 645.12,352.04 C650.58,357.39 656.04,362.77 661.50,368.16 C666.96,373.56 672.42,378.99 677.88,384.43 C683.33,389.88 688.79,395.35 694.25,400.84 C699.71,406.32 705.17,411.84 710.62,417.37 C716.08,422.90 721.54,428.46 727.00,434.03 C732.46,439.60 737.92,445.20 743.38,450.81 C748.83,456.42 754.29,462.05 759.75,467.71 C765.21,473.36 770.67,479.02 776.12,484.71 C781.58,490.40 787.04,496.10 792.50,501.82 C797.96,507.54 803.42,513.28 808.88,519.03 C814.33,524.78 819.79,530.55 825.25,536.34 C830.71,542.12 836.17,547.92 841.62,553.73 C847.08,559.54 855.27,568.30 858.00,571.21" fill="none" stroke="#006400" stroke-width="2.80" stroke-linecap="butt"/>
<path d="M465.00,200.12 C467.73,203.64 475.92,214.27 481.38,221.27 C486.83,228.26 492.29,235.20 497.75,242.08 C503.21,248.97 508.67,255.80 514.12,262.57 C519.58,269.35 525.04,276.08 530.50,282.75 C535.96,289.43 541.42,296.05 546.88,302.63 C552.33,309.21 557.79,315.73 563.25,322.21 C568.71,328.70 574.17,335.13 579.62,341.52 C585.08,347.91 590.54,354.25 596.00,360.55 C601.46,366.85 606.92,373.11 612.38,379.33 C617.83,385.54 623.29,391.72 628.75,397.85 C634.21,403.99 639.67,410.08 645.12,416.14 C650.58,422.20 656.04,428.22 661.50,434.20 C666.96,440.19 672.42,446.14 677.88,452.05 C683.33,457.96 688.79,463.84 694.25,469.69 C699.71,475.54 705.17,481.35 710.62,487.14 C716.08,492.92 721.54,498.67 727.00,504.40 C732.46,510.12 737.92,515.82 743.38,521.48 C748.83,527.15 754.29,532.79 759.75,538.41 C765.21,544.03 770.67,549.62 776.12,555.18 C781.58,560.75 787.04,566.29 792.50,571.82 C797.96,577.34 803.42,582.84 808.88,588.32 C814.33,593.80 819.79,599.26 825.25,604.70 C830.71,610.14 836.17,615.56 841.62,620.97 C847.08,626.38 855.27,634.45 858.00,637.15" fill="none" stroke="#006400" stroke-width="4.00" stroke-linecap="butt"/>
<path d="M465.00,202.46 C467.73,204.22 475.92,209.59 481.38,213.05 C486.83,216.50 492.29,219.89 497.75,223.21 C503.21,226.53 508.67,229.78 514.12,232.97 C519.58,236.17 525.04,239.29 530.50,242.37 C535.96,245.44 541.42,248.46 546.88,251.42 C552.33,254.39 557.79,257.29 563.25,260.16 C568.71,263.02 574.17,265.83 579.62,268.61 C585.08,271.38 590.54,274.10 596.00,276.79 C601.46,279.48 606.92,282.13 612.38,284.75 C617.83,287.37 623.29,289.95 628.75,292.50 C634.21,295.05 639.67,297.57 645.12,300.07 C650.58,302.57 656.04,305.04 661.50,307.49 C666.96,309.94 672.42,312.37 677.88,314.79 C683.33,317.21 688.79,319.60 694.25,321.99 C699.71,324.38 705.17,326.75 710.62,329.13 C716.08,331.50 721.54,333.86 727.00,336.22 C732.46,338.58 737.92,340.94 743.38,343.30 C748.83,345.66 754.29,348.02 759.75,350.39 C765.21,352.76 770.67,355.14 776.12,357.53 C781.58,359.92 787.04,362.31 792.50,364.73 C797.96,367.15 803.42,369.58 808.88,372.03 C814.33,374.48 819.79,376.95 825.25,379.45 C830.71,381.95 836.17,384.47 841.62,387.03 C847.08,389.58 855.27,393.49 858.00,394.78" fill="none" stroke="#c00000" stroke-width="3.60" stroke-linecap="butt"/>
<path d="M465.00,178.42 C467.73,178.95 475.92,180.52 481.38,181.62 C486.83,182.72 492.29,183.86 497.75,185.03 C503.21,186.20 508.67,187.41 514.12,188.65 C519.58,189.89 525.04,191.17 530.50,192.48 C535.96,193.79 541.42,195.14 546.88,196.52 C552.33,197.90 557.79,199.32 563.25,200.77 C568.71,202.22 574.17,203.71 579.62,205.23 C585.08,206.75 590.54,208.31 596.00,209.90 C601.46,211.49 606.92,213.12 612.38,214.78 C617.83,216.44 623.29,218.14 628.75,219.87 C634.21,221.60 639.67,223.37 645.12,225.17 C650.58,226.97 656.04,228.81 661.50,230.68 C666.96,232.56 672.42,234.46 677.88,236.41 C683.33,238.35 688.79,240.33 694.25,242.34 C699.71,244.35 705.17,246.40 710.62,248.48 C716.08,250.56 721.54,252.68 727.00,254.83 C732.46,256.99 737.92,259.17 743.38,261.40 C748.83,263.62 754.29,265.88 759.75,268.17 C765.21,270.46 770.67,272.79 776.12,275.15 C781.58,277.52 787.04,279.91 792.50,282.35 C797.96,284.78 803.42,287.25 808.88,289.75 C814.33,292.25 819.79,294.79 825.25,297.37 C830.71,299.94 836.17,302.55 841.62,305.19 C847.08,307.83 855.27,311.89 858.00,313.22" fill="none" stroke="#000" stroke-width="2.90" stroke-linecap="butt"/>
<path d="M465.00,178.91 C467.73,179.61 475.92,181.66 481.38,183.08 C486.83,184.50 492.29,185.94 497.75,187.42 C503.21,188.90 508.67,190.40 514.12,191.94 C519.58,193.48 525.04,195.04 530.50,196.63 C535.96,198.23 541.42,199.85 546.88,201.50 C552.33,203.16 557.79,204.84 563.25,206.55 C568.71,208.26 574.17,210.00 579.62,211.77 C585.08,213.54 590.54,215.34 596.00,217.17 C601.46,219.00 606.92,220.86 612.38,222.75 C617.83,224.63 623.29,226.55 628.75,228.50 C634.21,230.44 639.67,232.42 645.12,234.42 C650.58,236.43 656.04,238.46 661.50,240.53 C666.96,242.59 672.42,244.68 677.88,246.81 C683.33,248.93 688.79,251.08 694.25,253.26 C699.71,255.44 705.17,257.65 710.62,259.89 C716.08,262.13 721.54,264.40 727.00,266.70 C732.46,269.00 737.92,271.33 743.38,273.68 C748.83,276.04 754.29,278.43 759.75,280.84 C765.21,283.26 770.67,285.70 776.12,288.18 C781.58,290.65 787.04,293.16 792.50,295.69 C797.96,298.22 803.42,300.79 808.88,303.38 C814.33,305.97 819.79,308.59 825.25,311.24 C830.71,313.89 836.17,316.57 841.62,319.28 C847.08,321.99 855.27,326.13 858.00,327.50" fill="none" stroke="#000" stroke-width="3.40" stroke-linecap="butt"/>
<path d="M464.60,179.00 C467.33,179.90 475.53,182.56 480.99,184.37 C486.46,186.18 491.92,188.01 497.38,189.85 C502.85,191.70 508.31,193.57 513.77,195.45 C519.24,197.33 524.70,199.24 530.17,201.16 C535.63,203.08 541.09,205.02 546.56,206.98 C552.02,208.94 557.49,210.92 562.95,212.92 C568.41,214.92 573.88,216.93 579.34,218.97 C584.81,221.00 590.27,223.06 595.73,225.13 C601.20,227.20 606.66,229.30 612.12,231.41 C617.59,233.52 623.05,235.65 628.52,237.80 C633.98,239.95 639.44,242.11 644.91,244.30 C650.37,246.49 655.84,248.69 661.30,250.92 C666.76,253.14 672.23,255.39 677.69,257.65 C683.16,259.91 688.62,262.19 694.08,264.49 C699.55,266.79 705.01,269.11 710.48,271.45 C715.94,273.79 721.40,276.15 726.87,278.52 C732.33,280.90 737.79,283.29 743.26,285.71 C748.72,288.12 754.19,290.55 759.65,293.00 C765.11,295.46 770.58,297.93 776.04,300.42 C781.51,302.90 786.97,305.41 792.43,307.94 C797.90,310.47 803.36,313.01 808.83,315.58 C814.29,318.14 819.75,320.73 825.22,323.33 C830.68,325.93 836.14,328.55 841.61,331.20 C847.07,333.84 855.27,337.84 858.00,339.17" fill="none" stroke="#0000ff" stroke-width="3.80" stroke-linecap="butt"/>
<path d="M465.00,186.89 C467.73,187.74 475.92,190.26 481.38,192.00 C486.83,193.75 492.29,195.53 497.75,197.35 C503.21,199.17 508.67,201.03 514.12,202.93 C519.58,204.83 525.04,206.77 530.50,208.75 C535.96,210.73 541.42,212.74 546.88,214.80 C552.33,216.86 557.79,218.95 563.25,221.08 C568.71,223.22 574.17,225.39 579.62,227.60 C585.08,229.82 590.54,232.07 596.00,234.36 C601.46,236.65 606.92,238.98 612.38,241.34 C617.83,243.71 623.29,246.12 628.75,248.57 C634.21,251.01 639.67,253.50 645.12,256.02 C650.58,258.54 656.04,261.11 661.50,263.71 C666.96,266.31 672.42,268.95 677.88,271.63 C683.33,274.31 688.79,277.03 694.25,279.79 C699.71,282.55 705.17,285.35 710.62,288.18 C716.08,291.02 721.54,293.90 727.00,296.81 C732.46,299.73 737.92,302.68 743.38,305.67 C748.83,308.66 754.29,311.70 759.75,314.77 C765.21,317.84 770.67,320.95 776.12,324.10 C781.58,327.24 787.04,330.43 792.50,333.66 C797.96,336.89 803.42,340.15 808.88,343.46 C814.33,346.76 819.79,350.11 825.25,353.49 C830.71,356.87 836.17,360.29 841.62,363.75 C847.08,367.22 855.27,372.50 858.00,374.25" fill="none" stroke="#7030a0" stroke-width="2.70" stroke-linecap="butt"/>
<path d="M464.60,186.06 C467.33,186.92 475.53,189.49 480.99,191.22 C486.46,192.95 491.92,194.69 497.38,196.44 C502.85,198.20 508.31,199.96 513.77,201.74 C519.24,203.51 524.70,205.30 530.17,207.10 C535.63,208.89 541.09,210.70 546.56,212.52 C552.02,214.34 557.49,216.17 562.95,218.02 C568.41,219.86 573.88,221.71 579.34,223.58 C584.81,225.44 590.27,227.32 595.73,229.20 C601.20,231.09 606.66,232.99 612.12,234.90 C617.59,236.81 623.05,238.73 628.52,240.66 C633.98,242.59 639.44,244.54 644.91,246.49 C650.37,248.44 655.84,250.41 661.30,252.39 C666.76,254.36 672.23,256.35 677.69,258.35 C683.16,260.35 688.62,262.36 694.08,264.38 C699.55,266.40 705.01,268.43 710.48,270.47 C715.94,272.52 721.40,274.57 726.87,276.64 C732.33,278.70 737.79,280.78 743.26,282.87 C748.72,284.96 754.19,287.06 759.65,289.17 C765.11,291.28 770.58,293.40 776.04,295.53 C781.51,297.66 786.97,299.81 792.43,301.96 C797.90,304.12 803.36,306.28 808.83,308.46 C814.29,310.64 819.75,312.83 825.22,315.03 C830.68,317.23 836.14,319.44 841.61,321.66 C847.07,323.88 855.27,327.24 858.00,328.36" fill="none" stroke="#7030a0" stroke-width="3.80" stroke-linecap="butt"/>
<rect x="419" y="171" width="5" height="497" fill="#000"/>
<rect x="413" y="657" width="447" height="4" fill="#000"/>
<rect x="413" y="171.00" width="18" height="4" fill="#000"/>
<rect x="415" y="202.90" width="5" height="5" fill="#000"/>
<rect x="415" y="235.30" width="5" height="5" fill="#000"/>
<rect x="415" y="267.70" width="5" height="5" fill="#000"/>
<rect x="415" y="300.10" width="5" height="5" fill="#000"/>
<rect x="413" y="333.00" width="18" height="4" fill="#000"/>
<rect x="415" y="364.90" width="5" height="5" fill="#000"/>
<rect x="415" y="397.30" width="5" height="5" fill="#000"/>
<rect x="415" y="429.70" width="5" height="5" fill="#000"/>
<rect x="415" y="462.10" width="5" height="5" fill="#000"/>
<rect x="413" y="495.00" width="18" height="4" fill="#000"/>
<rect x="415" y="526.90" width="5" height="5" fill="#000"/>
<rect x="415" y="559.30" width="5" height="5" fill="#000"/>
<rect x="415" y="591.70" width="5" height="5" fill="#000"/>
<rect x="415" y="624.10" width="5" height="5" fill="#000"/>
<rect x="413" y="657.00" width="18" height="4" fill="#000"/>
<rect x="440.82" y="660" width="5" height="6" fill="#000"/>
<rect x="462.65" y="660" width="5" height="6" fill="#000"/>
<rect x="484.48" y="660" width="5" height="6" fill="#000"/>
<rect x="506.80" y="650" width="4" height="18" fill="#000"/>
<rect x="528.12" y="660" width="5" height="6" fill="#000"/>
<rect x="549.95" y="660" width="5" height="6" fill="#000"/>
<rect x="571.77" y="660" width="5" height="6" fill="#000"/>
<rect x="594.10" y="650" width="4" height="18" fill="#000"/>
<rect x="615.42" y="660" width="5" height="6" fill="#000"/>
<rect x="637.25" y="660" width="5" height="6" fill="#000"/>
<rect x="659.08" y="660" width="5" height="6" fill="#000"/>
<rect x="681.40" y="650" width="4" height="18" fill="#000"/>
<rect x="702.72" y="660" width="5" height="6" fill="#000"/>
<rect x="724.55" y="660" width="5" height="6" fill="#000"/>
<rect x="746.38" y="660" width="5" height="6" fill="#000"/>
<rect x="768.70" y="650" width="4" height="18" fill="#000"/>
<rect x="790.02" y="660" width="5" height="6" fill="#000"/>
<rect x="811.85" y="660" width="5" height="6" fill="#000"/>
<rect x="833.67" y="660" width="5" height="6" fill="#000"/>
<rect x="856.00" y="650" width="4" height="18" fill="#000"/>
<text transform="translate(340.82,344.2) scale(0.9776,1.045)" text-anchor="start" fill="#000" stroke="#000" stroke-width="0.45" font-family="Liberation Sans, sans-serif" font-size="29.80">0,99</text>
<text transform="translate(340.82,506.2) scale(0.9776,1.045)" text-anchor="start" fill="#000" stroke="#000" stroke-width="0.45" font-family="Liberation Sans, sans-serif" font-size="29.80">0,98</text>
<text transform="translate(340.82,668.2) scale(0.9776,1.045)" text-anchor="start" fill="#000" stroke="#000" stroke-width="0.45" font-family="Liberation Sans, sans-serif" font-size="29.80">0,97</text>
<text transform="translate(413.07,702.3) scale(1.0345,1.045)" text-anchor="start" fill="#000" stroke="#000" stroke-width="0.45" font-family="Liberation Sans, sans-serif" font-size="29.80">0</text>
<text transform="translate(488.82,702.3) scale(0.9795,1.045)" text-anchor="start" fill="#000" stroke="#000" stroke-width="0.45" font-family="Liberation Sans, sans-serif" font-size="29.80">0,2</text>
<text transform="translate(575.62,702.3) scale(0.9761,1.045)" text-anchor="start" fill="#000" stroke="#000" stroke-width="0.45" font-family="Liberation Sans, sans-serif" font-size="29.80">0,4</text>
<text transform="translate(663.62,702.3) scale(0.9758,1.045)" text-anchor="start" fill="#000" stroke="#000" stroke-width="0.45" font-family="Liberation Sans, sans-serif" font-size="29.80">0,6</text>
<text transform="translate(750.83,702.3) scale(0.9732,1.045)" text-anchor="start" fill="#000" stroke="#000" stroke-width="0.45" font-family="Liberation Sans, sans-serif" font-size="29.80">0,8</text>
<text transform="translate(880.80,256.2) scale(1.0057,1.045)" text-anchor="start" fill="#000" stroke="#000" stroke-width="0.45" font-family="Liberation Sans, sans-serif" font-size="29.80">AEM Type -X</text>
<text transform="translate(879.06,284.7) scale(0.9957,1.045)" text-anchor="start" fill="#000" stroke="#000" stroke-width="0.45" font-family="Liberation Sans, sans-serif" font-size="29.80">CEM Type -X</text>
<text transform="translate(879.05,316.2) scale(0.9969,1.045)" text-anchor="start" fill="#800080" stroke="#800080" stroke-width="0.45" font-family="Liberation Sans, sans-serif" font-size="29.80">CEM Type - II</text>
<text transform="translate(879.59,342.8) scale(0.9690,1.045)" text-anchor="start" fill="#0000ff" stroke="#0000ff" stroke-width="0.45" font-family="Liberation Sans, sans-serif" font-size="29.80">CMX</text>
<text transform="translate(879.70,369.2) scale(0.9891,1.045)" text-anchor="start" fill="#0000ff" stroke="#0000ff" stroke-width="0.45" font-family="Liberation Sans, sans-serif" font-size="29.80">AMX</text>
<text transform="translate(879.50,397.5) scale(1.0042,1.045)" text-anchor="start" fill="#800080" stroke="#800080" stroke-width="0.45" font-family="Liberation Sans, sans-serif" font-size="29.80">AEM Type - II</text>
<text transform="translate(879.09,428.3) scale(0.9805,1.045)" text-anchor="start" fill="#c00000" stroke="#c00000" stroke-width="0.45" font-family="Liberation Sans, sans-serif" font-size="29.80">МК-40</text>
<text transform="translate(877.50,585.8) scale(1.0089,1.045)" text-anchor="start" fill="#006400" stroke="#006400" stroke-width="0.45" font-family="Liberation Sans, sans-serif" font-size="29.80">AEM Type - I</text>
<text transform="translate(874.56,628.0) scale(0.9496,1.045)" text-anchor="start" fill="#c00000" stroke="#c00000" stroke-width="0.45" font-family="Liberation Sans, sans-serif" font-size="29.80">MA-41</text>
<text transform="translate(874.05,665.8) scale(0.9965,1.045)" text-anchor="start" fill="#006400" stroke="#006400" stroke-width="0.45" font-family="Liberation Sans, sans-serif" font-size="29.80">CEM Type - I</text>
<text transform="translate(398.30,182.3) scale(0.9800,1.045)" text-anchor="end" fill="#000" stroke="#000" stroke-width="0.45" font-family="Liberation Sans, sans-serif" font-size="29.80">1</text>
<text transform="translate(859.40,702.3) scale(0.9800,1.045)" text-anchor="middle" fill="#000" stroke="#000" stroke-width="0.45" font-family="Liberation Sans, sans-serif" font-size="29.80">1</text>
<text transform="translate(660.90,744.4) scale(0.9880,1.045)" text-anchor="start" fill="#000" stroke="#000" stroke-width="0.45" font-family="Liberation Sans, sans-serif" font-size="29.80">C<tspan font-size="19.8" dy="6.4">NaCl</tspan><tspan dy="-6.4">, M</tspan></text>
<text transform="translate(330,505) rotate(-90) scale(1,1.04)" font-family="Liberation Sans, sans-serif" font-size="30" font-weight="bold" font-style="italic">t*<tspan font-size="18.9" dy="6.8">counterion</tspan></text>
</g>
</svg></body></html>
